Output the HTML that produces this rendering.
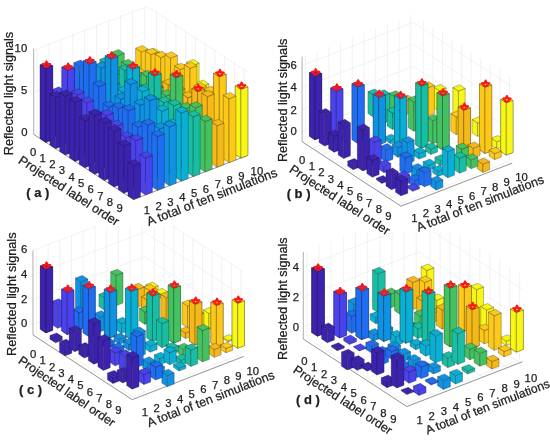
<!DOCTYPE html>
<html><head><meta charset="utf-8"><style>
html,body{margin:0;padding:0;background:#fff;}
svg{display:block;filter:blur(0.35px);font-family:"Liberation Sans",sans-serif;}
</style></head><body>
<svg width="550" height="441" viewBox="0 0 550 441">
<rect width="550" height="441" fill="#fff"/>
<clipPath id="cpa"><rect x="0" y="0" width="275" height="226"/></clipPath>
<g clip-path="url(#cpa)"><line x1="37.04" y1="133.05" x2="37.04" y2="47.37" stroke="#e9e9e9" stroke-width="0.60"/>
<line x1="37.04" y1="133.05" x2="136.94" y2="198.21" stroke="#e9e9e9" stroke-width="0.60"/>
<line x1="48.97" y1="128.43" x2="48.97" y2="42.75" stroke="#e9e9e9" stroke-width="0.60"/>
<line x1="48.97" y1="128.43" x2="148.87" y2="193.59" stroke="#e9e9e9" stroke-width="0.60"/>
<line x1="60.90" y1="123.81" x2="60.90" y2="38.13" stroke="#e9e9e9" stroke-width="0.60"/>
<line x1="60.90" y1="123.81" x2="160.80" y2="188.97" stroke="#e9e9e9" stroke-width="0.60"/>
<line x1="72.83" y1="119.19" x2="72.83" y2="33.51" stroke="#e9e9e9" stroke-width="0.60"/>
<line x1="72.83" y1="119.19" x2="172.73" y2="184.35" stroke="#e9e9e9" stroke-width="0.60"/>
<line x1="84.76" y1="114.57" x2="84.76" y2="28.89" stroke="#e9e9e9" stroke-width="0.60"/>
<line x1="84.76" y1="114.57" x2="184.66" y2="179.73" stroke="#e9e9e9" stroke-width="0.60"/>
<line x1="96.69" y1="109.95" x2="96.69" y2="24.27" stroke="#e9e9e9" stroke-width="0.60"/>
<line x1="96.69" y1="109.95" x2="196.59" y2="175.11" stroke="#e9e9e9" stroke-width="0.60"/>
<line x1="108.62" y1="105.33" x2="108.62" y2="19.65" stroke="#e9e9e9" stroke-width="0.60"/>
<line x1="108.62" y1="105.33" x2="208.52" y2="170.49" stroke="#e9e9e9" stroke-width="0.60"/>
<line x1="120.55" y1="100.71" x2="120.55" y2="15.03" stroke="#e9e9e9" stroke-width="0.60"/>
<line x1="120.55" y1="100.71" x2="220.45" y2="165.87" stroke="#e9e9e9" stroke-width="0.60"/>
<line x1="132.48" y1="96.09" x2="132.48" y2="10.41" stroke="#e9e9e9" stroke-width="0.60"/>
<line x1="132.48" y1="96.09" x2="232.38" y2="161.25" stroke="#e9e9e9" stroke-width="0.60"/>
<line x1="144.41" y1="91.47" x2="144.41" y2="5.79" stroke="#e9e9e9" stroke-width="0.60"/>
<line x1="144.41" y1="91.47" x2="244.31" y2="156.63" stroke="#e9e9e9" stroke-width="0.60"/>
<line x1="156.45" y1="96.59" x2="156.45" y2="10.91" stroke="#e9e9e9" stroke-width="0.60"/>
<line x1="43.12" y1="140.48" x2="156.45" y2="96.59" stroke="#e9e9e9" stroke-width="0.60"/>
<line x1="166.20" y1="102.95" x2="166.20" y2="17.27" stroke="#e9e9e9" stroke-width="0.60"/>
<line x1="52.87" y1="146.84" x2="166.20" y2="102.95" stroke="#e9e9e9" stroke-width="0.60"/>
<line x1="175.95" y1="109.31" x2="175.95" y2="23.63" stroke="#e9e9e9" stroke-width="0.60"/>
<line x1="62.62" y1="153.20" x2="175.95" y2="109.31" stroke="#e9e9e9" stroke-width="0.60"/>
<line x1="185.70" y1="115.67" x2="185.70" y2="29.99" stroke="#e9e9e9" stroke-width="0.60"/>
<line x1="72.37" y1="159.56" x2="185.70" y2="115.67" stroke="#e9e9e9" stroke-width="0.60"/>
<line x1="195.45" y1="122.03" x2="195.45" y2="36.35" stroke="#e9e9e9" stroke-width="0.60"/>
<line x1="82.12" y1="165.92" x2="195.45" y2="122.03" stroke="#e9e9e9" stroke-width="0.60"/>
<line x1="205.20" y1="128.39" x2="205.20" y2="42.71" stroke="#e9e9e9" stroke-width="0.60"/>
<line x1="91.87" y1="172.28" x2="205.20" y2="128.39" stroke="#e9e9e9" stroke-width="0.60"/>
<line x1="214.95" y1="134.75" x2="214.95" y2="49.07" stroke="#e9e9e9" stroke-width="0.60"/>
<line x1="101.62" y1="178.64" x2="214.95" y2="134.75" stroke="#e9e9e9" stroke-width="0.60"/>
<line x1="224.70" y1="141.11" x2="224.70" y2="55.43" stroke="#e9e9e9" stroke-width="0.60"/>
<line x1="111.37" y1="185.00" x2="224.70" y2="141.11" stroke="#e9e9e9" stroke-width="0.60"/>
<line x1="234.45" y1="147.47" x2="234.45" y2="61.79" stroke="#e9e9e9" stroke-width="0.60"/>
<line x1="121.12" y1="191.36" x2="234.45" y2="147.47" stroke="#e9e9e9" stroke-width="0.60"/>
<line x1="244.20" y1="153.83" x2="244.20" y2="68.15" stroke="#e9e9e9" stroke-width="0.60"/>
<line x1="130.87" y1="197.72" x2="244.20" y2="153.83" stroke="#e9e9e9" stroke-width="0.60"/>
<polyline points="33.70,134.34 147.04,90.45 246.93,155.61" fill="none" stroke="#e9e9e9" stroke-width="0.60"/>
<polyline points="33.70,92.34 147.04,48.45 246.93,113.61" fill="none" stroke="#e9e9e9" stroke-width="0.60"/>
<polyline points="33.70,50.34 147.04,6.45 246.93,71.61" fill="none" stroke="#e9e9e9" stroke-width="0.60"/>
<line x1="33.70" y1="134.34" x2="33.70" y2="48.66" stroke="#9a9a9a" stroke-width="0.80"/>
<polyline points="33.70,134.34 133.60,199.50 246.93,155.61" fill="none" stroke="#777" stroke-width="0.80"/>
<polygon points="147.54,97.11 153.20,100.79 153.20,54.59 147.54,50.91" fill="#f8f616" stroke="rgba(20,20,20,0.5)" stroke-width="0.55" stroke-linejoin="round"/><polygon points="153.20,100.79 160.12,98.11 160.12,51.91 153.20,54.59" fill="#f8f616" stroke="rgba(20,20,20,0.5)" stroke-width="0.55" stroke-linejoin="round"/>
<polygon points="147.54,50.91 153.20,54.59 160.12,51.91 154.46,48.23" fill="#f8f616" stroke="rgba(20,20,20,0.5)" stroke-width="0.55" stroke-linejoin="round"/>
<polygon points="157.29,103.47 162.95,107.15 162.95,60.95 157.29,57.27" fill="#f8f616" stroke="rgba(20,20,20,0.5)" stroke-width="0.55" stroke-linejoin="round"/><polygon points="162.95,107.15 169.87,104.47 169.87,58.27 162.95,60.95" fill="#f8f616" stroke="rgba(20,20,20,0.5)" stroke-width="0.55" stroke-linejoin="round"/>
<polygon points="157.29,57.27 162.95,60.95 169.87,58.27 164.21,54.59" fill="#f8f616" stroke="rgba(20,20,20,0.5)" stroke-width="0.55" stroke-linejoin="round"/>
<polygon points="167.04,109.83 172.70,113.51 172.70,67.31 167.04,63.63" fill="#f8f616" stroke="rgba(20,20,20,0.5)" stroke-width="0.55" stroke-linejoin="round"/><polygon points="172.70,113.51 179.62,110.83 179.62,64.63 172.70,67.31" fill="#f8f616" stroke="rgba(20,20,20,0.5)" stroke-width="0.55" stroke-linejoin="round"/>
<polygon points="167.04,63.63 172.70,67.31 179.62,64.63 173.96,60.95" fill="#f8f616" stroke="rgba(20,20,20,0.5)" stroke-width="0.55" stroke-linejoin="round"/>
<polygon points="176.79,116.19 182.45,119.87 182.45,73.67 176.79,69.99" fill="#f8f616" stroke="rgba(20,20,20,0.5)" stroke-width="0.55" stroke-linejoin="round"/><polygon points="182.45,119.87 189.37,117.19 189.37,70.99 182.45,73.67" fill="#f8f616" stroke="rgba(20,20,20,0.5)" stroke-width="0.55" stroke-linejoin="round"/>
<polygon points="176.79,69.99 182.45,73.67 189.37,70.99 183.71,67.31" fill="#f8f616" stroke="rgba(20,20,20,0.5)" stroke-width="0.55" stroke-linejoin="round"/>
<polygon points="186.54,122.55 192.20,126.23 192.20,65.75 186.54,62.07" fill="#f8f616" stroke="rgba(20,20,20,0.5)" stroke-width="0.55" stroke-linejoin="round"/><polygon points="192.20,126.23 199.12,123.55 199.12,63.07 192.20,65.75" fill="#f8f616" stroke="rgba(20,20,20,0.5)" stroke-width="0.55" stroke-linejoin="round"/>
<polygon points="186.54,62.07 192.20,65.75 199.12,63.07 193.46,59.39" fill="#f8f616" stroke="rgba(20,20,20,0.5)" stroke-width="0.55" stroke-linejoin="round"/>
<polygon points="196.29,128.91 201.95,132.59 201.95,86.39 196.29,82.71" fill="#f8f616" stroke="rgba(20,20,20,0.5)" stroke-width="0.55" stroke-linejoin="round"/><polygon points="201.95,132.59 208.87,129.91 208.87,83.71 201.95,86.39" fill="#f8f616" stroke="rgba(20,20,20,0.5)" stroke-width="0.55" stroke-linejoin="round"/>
<polygon points="196.29,82.71 201.95,86.39 208.87,83.71 203.21,80.03" fill="#f8f616" stroke="rgba(20,20,20,0.5)" stroke-width="0.55" stroke-linejoin="round"/>
<polygon points="206.04,135.27 211.70,138.95 211.70,92.75 206.04,89.07" fill="#f8f616" stroke="rgba(20,20,20,0.5)" stroke-width="0.55" stroke-linejoin="round"/><polygon points="211.70,138.95 218.62,136.27 218.62,90.07 211.70,92.75" fill="#f8f616" stroke="rgba(20,20,20,0.5)" stroke-width="0.55" stroke-linejoin="round"/>
<polygon points="206.04,89.07 211.70,92.75 218.62,90.07 212.96,86.39" fill="#f8f616" stroke="rgba(20,20,20,0.5)" stroke-width="0.55" stroke-linejoin="round"/>
<polygon points="215.79,141.63 221.45,145.31 221.45,99.11 215.79,95.43" fill="#f8f616" stroke="rgba(20,20,20,0.5)" stroke-width="0.55" stroke-linejoin="round"/><polygon points="221.45,145.31 228.37,142.63 228.37,96.43 221.45,99.11" fill="#f8f616" stroke="rgba(20,20,20,0.5)" stroke-width="0.55" stroke-linejoin="round"/>
<polygon points="215.79,95.43 221.45,99.11 228.37,96.43 222.71,92.75" fill="#f8f616" stroke="rgba(20,20,20,0.5)" stroke-width="0.55" stroke-linejoin="round"/>
<polygon points="225.54,147.99 231.20,151.67 231.20,105.47 225.54,101.79" fill="#f8f616" stroke="rgba(20,20,20,0.5)" stroke-width="0.55" stroke-linejoin="round"/><polygon points="231.20,151.67 238.12,148.99 238.12,102.79 231.20,105.47" fill="#f8f616" stroke="rgba(20,20,20,0.5)" stroke-width="0.55" stroke-linejoin="round"/>
<polygon points="225.54,101.79 231.20,105.47 238.12,102.79 232.46,99.11" fill="#f8f616" stroke="rgba(20,20,20,0.5)" stroke-width="0.55" stroke-linejoin="round"/>
<polygon points="235.29,154.35 240.95,158.03 240.95,89.57 235.29,85.89" fill="#f8f616" stroke="rgba(20,20,20,0.5)" stroke-width="0.55" stroke-linejoin="round"/><polygon points="240.95,158.03 247.87,155.35 247.87,86.89 240.95,89.57" fill="#f8f616" stroke="rgba(20,20,20,0.5)" stroke-width="0.55" stroke-linejoin="round"/>
<polygon points="235.29,85.89 240.95,89.57 247.87,86.89 242.21,83.21" fill="#f8f616" stroke="rgba(20,20,20,0.5)" stroke-width="0.55" stroke-linejoin="round"/>
<polygon points="241.58,82.49 242.61,84.97 245.29,85.18 243.25,86.93 243.87,89.55 241.58,88.14 239.29,89.55 239.91,86.93 237.87,85.18 240.55,84.97" fill="none" stroke="#ff1414" stroke-width="2.1" stroke-linejoin="round"/>
<polygon points="235.29,154.35 240.95,158.03 240.95,89.57 235.29,85.89" fill="#f8f616" stroke="rgba(20,20,20,0.5)" stroke-width="0.55" stroke-linejoin="round"/><polygon points="240.95,158.03 247.87,155.35 247.87,86.89 240.95,89.57" fill="#f8f616" stroke="rgba(20,20,20,0.5)" stroke-width="0.55" stroke-linejoin="round"/>
<polygon points="135.61,101.73 141.27,105.41 141.27,51.91 135.61,48.22" fill="#fcc81a" stroke="rgba(20,20,20,0.5)" stroke-width="0.55" stroke-linejoin="round"/><polygon points="141.27,105.41 148.19,102.73 148.19,49.23 141.27,51.91" fill="#fcc81a" stroke="rgba(20,20,20,0.5)" stroke-width="0.55" stroke-linejoin="round"/>
<polygon points="135.61,48.22 141.27,51.91 148.19,49.23 142.53,45.54" fill="#fcc81a" stroke="rgba(20,20,20,0.5)" stroke-width="0.55" stroke-linejoin="round"/>
<polygon points="145.36,108.09 151.02,111.77 151.02,54.65 145.36,50.97" fill="#fcc81a" stroke="rgba(20,20,20,0.5)" stroke-width="0.55" stroke-linejoin="round"/><polygon points="151.02,111.77 157.94,109.09 157.94,51.97 151.02,54.65" fill="#fcc81a" stroke="rgba(20,20,20,0.5)" stroke-width="0.55" stroke-linejoin="round"/>
<polygon points="145.36,50.97 151.02,54.65 157.94,51.97 152.28,48.29" fill="#fcc81a" stroke="rgba(20,20,20,0.5)" stroke-width="0.55" stroke-linejoin="round"/>
<polygon points="155.11,114.45 160.77,118.13 160.77,57.65 155.11,53.97" fill="#fcc81a" stroke="rgba(20,20,20,0.5)" stroke-width="0.55" stroke-linejoin="round"/><polygon points="160.77,118.13 167.69,115.45 167.69,54.97 160.77,57.65" fill="#fcc81a" stroke="rgba(20,20,20,0.5)" stroke-width="0.55" stroke-linejoin="round"/>
<polygon points="155.11,53.97 160.77,57.65 167.69,54.97 162.03,51.29" fill="#fcc81a" stroke="rgba(20,20,20,0.5)" stroke-width="0.55" stroke-linejoin="round"/>
<polygon points="164.86,120.81 170.52,124.49 170.52,58.13 164.86,54.45" fill="#fcc81a" stroke="rgba(20,20,20,0.5)" stroke-width="0.55" stroke-linejoin="round"/><polygon points="170.52,124.49 177.44,121.81 177.44,55.45 170.52,58.13" fill="#fcc81a" stroke="rgba(20,20,20,0.5)" stroke-width="0.55" stroke-linejoin="round"/>
<polygon points="164.86,54.45 170.52,58.13 177.44,55.45 171.78,51.77" fill="#fcc81a" stroke="rgba(20,20,20,0.5)" stroke-width="0.55" stroke-linejoin="round"/>
<polygon points="174.61,127.17 180.27,130.85 180.27,69.53 174.61,65.85" fill="#fcc81a" stroke="rgba(20,20,20,0.5)" stroke-width="0.55" stroke-linejoin="round"/><polygon points="180.27,130.85 187.19,128.17 187.19,66.85 180.27,69.53" fill="#fcc81a" stroke="rgba(20,20,20,0.5)" stroke-width="0.55" stroke-linejoin="round"/>
<polygon points="174.61,65.85 180.27,69.53 187.19,66.85 181.53,63.17" fill="#fcc81a" stroke="rgba(20,20,20,0.5)" stroke-width="0.55" stroke-linejoin="round"/>
<polygon points="184.36,133.53 190.02,137.21 190.02,68.33 184.36,64.65" fill="#fcc81a" stroke="rgba(20,20,20,0.5)" stroke-width="0.55" stroke-linejoin="round"/><polygon points="190.02,137.21 196.94,134.53 196.94,65.65 190.02,68.33" fill="#fcc81a" stroke="rgba(20,20,20,0.5)" stroke-width="0.55" stroke-linejoin="round"/>
<polygon points="184.36,64.65 190.02,68.33 196.94,65.65 191.28,61.97" fill="#fcc81a" stroke="rgba(20,20,20,0.5)" stroke-width="0.55" stroke-linejoin="round"/>
<polygon points="194.11,139.89 199.77,143.57 199.77,88.97 194.11,85.29" fill="#fcc81a" stroke="rgba(20,20,20,0.5)" stroke-width="0.55" stroke-linejoin="round"/><polygon points="199.77,143.57 206.69,140.89 206.69,86.29 199.77,88.97" fill="#fcc81a" stroke="rgba(20,20,20,0.5)" stroke-width="0.55" stroke-linejoin="round"/>
<polygon points="194.11,85.29 199.77,88.97 206.69,86.29 201.03,82.61" fill="#fcc81a" stroke="rgba(20,20,20,0.5)" stroke-width="0.55" stroke-linejoin="round"/>
<polygon points="203.86,146.25 209.52,149.93 209.52,92.81 203.86,89.13" fill="#fcc81a" stroke="rgba(20,20,20,0.5)" stroke-width="0.55" stroke-linejoin="round"/><polygon points="209.52,149.93 216.44,147.25 216.44,90.13 209.52,92.81" fill="#fcc81a" stroke="rgba(20,20,20,0.5)" stroke-width="0.55" stroke-linejoin="round"/>
<polygon points="203.86,89.13 209.52,92.81 216.44,90.13 210.78,86.45" fill="#fcc81a" stroke="rgba(20,20,20,0.5)" stroke-width="0.55" stroke-linejoin="round"/>
<polygon points="213.61,152.61 219.27,156.29 219.27,76.91 213.61,73.23" fill="#fcc81a" stroke="rgba(20,20,20,0.5)" stroke-width="0.55" stroke-linejoin="round"/><polygon points="219.27,156.29 226.19,153.61 226.19,74.23 219.27,76.91" fill="#fcc81a" stroke="rgba(20,20,20,0.5)" stroke-width="0.55" stroke-linejoin="round"/>
<polygon points="213.61,73.23 219.27,76.91 226.19,74.23 220.53,70.55" fill="#fcc81a" stroke="rgba(20,20,20,0.5)" stroke-width="0.55" stroke-linejoin="round"/>
<polygon points="219.90,69.83 220.93,72.31 223.61,72.52 221.57,74.27 222.19,76.89 219.90,75.49 217.61,76.89 218.23,74.27 216.19,72.52 218.87,72.31" fill="none" stroke="#ff1414" stroke-width="2.1" stroke-linejoin="round"/>
<polygon points="213.61,152.61 219.27,156.29 219.27,76.91 213.61,73.23" fill="#fcc81a" stroke="rgba(20,20,20,0.5)" stroke-width="0.55" stroke-linejoin="round"/><polygon points="219.27,156.29 226.19,153.61 226.19,74.23 219.27,76.91" fill="#fcc81a" stroke="rgba(20,20,20,0.5)" stroke-width="0.55" stroke-linejoin="round"/>
<polygon points="223.36,158.97 229.02,162.65 229.02,98.81 223.36,95.13" fill="#fcc81a" stroke="rgba(20,20,20,0.5)" stroke-width="0.55" stroke-linejoin="round"/><polygon points="229.02,162.65 235.94,159.97 235.94,96.13 229.02,98.81" fill="#fcc81a" stroke="rgba(20,20,20,0.5)" stroke-width="0.55" stroke-linejoin="round"/>
<polygon points="223.36,95.13 229.02,98.81 235.94,96.13 230.28,92.45" fill="#fcc81a" stroke="rgba(20,20,20,0.5)" stroke-width="0.55" stroke-linejoin="round"/>
<polygon points="123.68,106.35 129.34,110.03 129.34,68.03 123.68,64.35" fill="#f4b818" stroke="rgba(20,20,20,0.5)" stroke-width="0.55" stroke-linejoin="round"/><polygon points="129.34,110.03 136.26,107.35 136.26,65.35 129.34,68.03" fill="#f4b818" stroke="rgba(20,20,20,0.5)" stroke-width="0.55" stroke-linejoin="round"/>
<polygon points="123.68,64.35 129.34,68.03 136.26,65.35 130.60,61.67" fill="#f4b818" stroke="rgba(20,20,20,0.5)" stroke-width="0.55" stroke-linejoin="round"/>
<polygon points="133.43,112.71 139.09,116.39 139.09,74.39 133.43,70.71" fill="#f4b818" stroke="rgba(20,20,20,0.5)" stroke-width="0.55" stroke-linejoin="round"/><polygon points="139.09,116.39 146.01,113.71 146.01,71.71 139.09,74.39" fill="#f4b818" stroke="rgba(20,20,20,0.5)" stroke-width="0.55" stroke-linejoin="round"/>
<polygon points="133.43,70.71 139.09,74.39 146.01,71.71 140.35,68.03" fill="#f4b818" stroke="rgba(20,20,20,0.5)" stroke-width="0.55" stroke-linejoin="round"/>
<polygon points="143.18,119.07 148.84,122.75 148.84,80.75 143.18,77.07" fill="#f4b818" stroke="rgba(20,20,20,0.5)" stroke-width="0.55" stroke-linejoin="round"/><polygon points="148.84,122.75 155.76,120.07 155.76,78.07 148.84,80.75" fill="#f4b818" stroke="rgba(20,20,20,0.5)" stroke-width="0.55" stroke-linejoin="round"/>
<polygon points="143.18,77.07 148.84,80.75 155.76,78.07 150.10,74.39" fill="#f4b818" stroke="rgba(20,20,20,0.5)" stroke-width="0.55" stroke-linejoin="round"/>
<polygon points="152.93,125.43 158.59,129.11 158.59,87.11 152.93,83.43" fill="#f4b818" stroke="rgba(20,20,20,0.5)" stroke-width="0.55" stroke-linejoin="round"/><polygon points="158.59,129.11 165.51,126.43 165.51,84.43 158.59,87.11" fill="#f4b818" stroke="rgba(20,20,20,0.5)" stroke-width="0.55" stroke-linejoin="round"/>
<polygon points="152.93,83.43 158.59,87.11 165.51,84.43 159.85,80.75" fill="#f4b818" stroke="rgba(20,20,20,0.5)" stroke-width="0.55" stroke-linejoin="round"/>
<polygon points="162.68,131.79 168.34,135.47 168.34,85.07 162.68,81.39" fill="#f4b818" stroke="rgba(20,20,20,0.5)" stroke-width="0.55" stroke-linejoin="round"/><polygon points="168.34,135.47 175.26,132.79 175.26,82.39 168.34,85.07" fill="#f4b818" stroke="rgba(20,20,20,0.5)" stroke-width="0.55" stroke-linejoin="round"/>
<polygon points="162.68,81.39 168.34,85.07 175.26,82.39 169.60,78.71" fill="#f4b818" stroke="rgba(20,20,20,0.5)" stroke-width="0.55" stroke-linejoin="round"/>
<polygon points="172.43,138.15 178.09,141.83 178.09,91.43 172.43,87.75" fill="#f4b818" stroke="rgba(20,20,20,0.5)" stroke-width="0.55" stroke-linejoin="round"/><polygon points="178.09,141.83 185.01,139.15 185.01,88.75 178.09,91.43" fill="#f4b818" stroke="rgba(20,20,20,0.5)" stroke-width="0.55" stroke-linejoin="round"/>
<polygon points="172.43,87.75 178.09,91.43 185.01,88.75 179.35,85.07" fill="#f4b818" stroke="rgba(20,20,20,0.5)" stroke-width="0.55" stroke-linejoin="round"/>
<polygon points="182.18,144.51 187.84,148.19 187.84,97.79 182.18,94.11" fill="#f4b818" stroke="rgba(20,20,20,0.5)" stroke-width="0.55" stroke-linejoin="round"/><polygon points="187.84,148.19 194.76,145.51 194.76,95.11 187.84,97.79" fill="#f4b818" stroke="rgba(20,20,20,0.5)" stroke-width="0.55" stroke-linejoin="round"/>
<polygon points="182.18,94.11 187.84,97.79 194.76,95.11 189.10,91.43" fill="#f4b818" stroke="rgba(20,20,20,0.5)" stroke-width="0.55" stroke-linejoin="round"/>
<polygon points="191.93,150.87 197.59,154.55 197.59,91.97 191.93,88.29" fill="#f4b818" stroke="rgba(20,20,20,0.5)" stroke-width="0.55" stroke-linejoin="round"/><polygon points="197.59,154.55 204.51,151.87 204.51,89.29 197.59,91.97" fill="#f4b818" stroke="rgba(20,20,20,0.5)" stroke-width="0.55" stroke-linejoin="round"/>
<polygon points="191.93,88.29 197.59,91.97 204.51,89.29 198.85,85.61" fill="#f4b818" stroke="rgba(20,20,20,0.5)" stroke-width="0.55" stroke-linejoin="round"/>
<polygon points="198.22,84.89 199.25,87.37 201.93,87.58 199.89,89.33 200.51,91.95 198.22,90.54 195.93,91.95 196.55,89.33 194.51,87.58 197.19,87.37" fill="none" stroke="#ff1414" stroke-width="2.1" stroke-linejoin="round"/>
<polygon points="191.93,150.87 197.59,154.55 197.59,91.97 191.93,88.29" fill="#f4b818" stroke="rgba(20,20,20,0.5)" stroke-width="0.55" stroke-linejoin="round"/><polygon points="197.59,154.55 204.51,151.87 204.51,89.29 197.59,91.97" fill="#f4b818" stroke="rgba(20,20,20,0.5)" stroke-width="0.55" stroke-linejoin="round"/>
<polygon points="201.68,157.23 207.34,160.91 207.34,96.65 201.68,92.97" fill="#f4b818" stroke="rgba(20,20,20,0.5)" stroke-width="0.55" stroke-linejoin="round"/><polygon points="207.34,160.91 214.26,158.23 214.26,93.97 207.34,96.65" fill="#f4b818" stroke="rgba(20,20,20,0.5)" stroke-width="0.55" stroke-linejoin="round"/>
<polygon points="201.68,92.97 207.34,96.65 214.26,93.97 208.60,90.29" fill="#f4b818" stroke="rgba(20,20,20,0.5)" stroke-width="0.55" stroke-linejoin="round"/>
<polygon points="211.43,163.59 217.09,167.27 217.09,125.69 211.43,122.01" fill="#f4b818" stroke="rgba(20,20,20,0.5)" stroke-width="0.55" stroke-linejoin="round"/><polygon points="217.09,167.27 224.01,164.59 224.01,123.01 217.09,125.69" fill="#f4b818" stroke="rgba(20,20,20,0.5)" stroke-width="0.55" stroke-linejoin="round"/>
<polygon points="211.43,122.01 217.09,125.69 224.01,123.01 218.35,119.33" fill="#f4b818" stroke="rgba(20,20,20,0.5)" stroke-width="0.55" stroke-linejoin="round"/>
<polygon points="111.75,110.97 117.41,114.65 117.41,55.85 111.75,52.17" fill="#44c262" stroke="rgba(20,20,20,0.5)" stroke-width="0.55" stroke-linejoin="round"/><polygon points="117.41,114.65 124.33,111.97 124.33,53.17 117.41,55.85" fill="#44c262" stroke="rgba(20,20,20,0.5)" stroke-width="0.55" stroke-linejoin="round"/>
<polygon points="111.75,52.17 117.41,55.85 124.33,53.17 118.67,49.49" fill="#44c262" stroke="rgba(20,20,20,0.5)" stroke-width="0.55" stroke-linejoin="round"/>
<polygon points="121.50,117.33 127.16,121.01 127.16,65.57 121.50,61.89" fill="#44c262" stroke="rgba(20,20,20,0.5)" stroke-width="0.55" stroke-linejoin="round"/><polygon points="127.16,121.01 134.08,118.33 134.08,62.89 127.16,65.57" fill="#44c262" stroke="rgba(20,20,20,0.5)" stroke-width="0.55" stroke-linejoin="round"/>
<polygon points="121.50,61.89 127.16,65.57 134.08,62.89 128.42,59.21" fill="#44c262" stroke="rgba(20,20,20,0.5)" stroke-width="0.55" stroke-linejoin="round"/>
<polygon points="131.25,123.69 136.91,127.37 136.91,76.97 131.25,73.29" fill="#44c262" stroke="rgba(20,20,20,0.5)" stroke-width="0.55" stroke-linejoin="round"/><polygon points="136.91,127.37 143.83,124.69 143.83,74.29 136.91,76.97" fill="#44c262" stroke="rgba(20,20,20,0.5)" stroke-width="0.55" stroke-linejoin="round"/>
<polygon points="131.25,73.29 136.91,76.97 143.83,74.29 138.17,70.61" fill="#44c262" stroke="rgba(20,20,20,0.5)" stroke-width="0.55" stroke-linejoin="round"/>
<polygon points="141.00,130.05 146.66,133.73 146.66,76.61 141.00,72.93" fill="#44c262" stroke="rgba(20,20,20,0.5)" stroke-width="0.55" stroke-linejoin="round"/><polygon points="146.66,133.73 153.58,131.05 153.58,73.93 146.66,76.61" fill="#44c262" stroke="rgba(20,20,20,0.5)" stroke-width="0.55" stroke-linejoin="round"/>
<polygon points="141.00,72.93 146.66,76.61 153.58,73.93 147.92,70.25" fill="#44c262" stroke="rgba(20,20,20,0.5)" stroke-width="0.55" stroke-linejoin="round"/>
<polygon points="150.75,136.41 156.41,140.09 156.41,89.69 150.75,86.01" fill="#44c262" stroke="rgba(20,20,20,0.5)" stroke-width="0.55" stroke-linejoin="round"/><polygon points="156.41,140.09 163.33,137.41 163.33,87.01 156.41,89.69" fill="#44c262" stroke="rgba(20,20,20,0.5)" stroke-width="0.55" stroke-linejoin="round"/>
<polygon points="150.75,86.01 156.41,89.69 163.33,87.01 157.67,83.33" fill="#44c262" stroke="rgba(20,20,20,0.5)" stroke-width="0.55" stroke-linejoin="round"/>
<polygon points="160.50,142.77 166.16,146.45 166.16,96.05 160.50,92.37" fill="#44c262" stroke="rgba(20,20,20,0.5)" stroke-width="0.55" stroke-linejoin="round"/><polygon points="166.16,146.45 173.08,143.77 173.08,93.37 166.16,96.05" fill="#44c262" stroke="rgba(20,20,20,0.5)" stroke-width="0.55" stroke-linejoin="round"/>
<polygon points="160.50,92.37 166.16,96.05 173.08,93.37 167.42,89.69" fill="#44c262" stroke="rgba(20,20,20,0.5)" stroke-width="0.55" stroke-linejoin="round"/>
<polygon points="170.25,149.13 175.91,152.81 175.91,78.05 170.25,74.37" fill="#44c262" stroke="rgba(20,20,20,0.5)" stroke-width="0.55" stroke-linejoin="round"/><polygon points="175.91,152.81 182.83,150.13 182.83,75.37 175.91,78.05" fill="#44c262" stroke="rgba(20,20,20,0.5)" stroke-width="0.55" stroke-linejoin="round"/>
<polygon points="170.25,74.37 175.91,78.05 182.83,75.37 177.17,71.69" fill="#44c262" stroke="rgba(20,20,20,0.5)" stroke-width="0.55" stroke-linejoin="round"/>
<polygon points="176.54,70.97 177.57,73.45 180.25,73.66 178.21,75.41 178.83,78.03 176.54,76.62 174.25,78.03 174.87,75.41 172.83,73.66 175.51,73.45" fill="none" stroke="#ff1414" stroke-width="2.1" stroke-linejoin="round"/>
<polygon points="170.25,149.13 175.91,152.81 175.91,78.05 170.25,74.37" fill="#44c262" stroke="rgba(20,20,20,0.5)" stroke-width="0.55" stroke-linejoin="round"/><polygon points="175.91,152.81 182.83,150.13 182.83,75.37 175.91,78.05" fill="#44c262" stroke="rgba(20,20,20,0.5)" stroke-width="0.55" stroke-linejoin="round"/>
<polygon points="180.00,155.49 185.66,159.17 185.66,108.77 180.00,105.09" fill="#44c262" stroke="rgba(20,20,20,0.5)" stroke-width="0.55" stroke-linejoin="round"/><polygon points="185.66,159.17 192.58,156.49 192.58,106.09 185.66,108.77" fill="#44c262" stroke="rgba(20,20,20,0.5)" stroke-width="0.55" stroke-linejoin="round"/>
<polygon points="180.00,105.09 185.66,108.77 192.58,106.09 186.92,102.41" fill="#44c262" stroke="rgba(20,20,20,0.5)" stroke-width="0.55" stroke-linejoin="round"/>
<polygon points="189.75,161.85 195.41,165.53 195.41,107.99 189.75,104.31" fill="#44c262" stroke="rgba(20,20,20,0.5)" stroke-width="0.55" stroke-linejoin="round"/><polygon points="195.41,165.53 202.33,162.85 202.33,105.31 195.41,107.99" fill="#44c262" stroke="rgba(20,20,20,0.5)" stroke-width="0.55" stroke-linejoin="round"/>
<polygon points="189.75,104.31 195.41,107.99 202.33,105.31 196.67,101.63" fill="#44c262" stroke="rgba(20,20,20,0.5)" stroke-width="0.55" stroke-linejoin="round"/>
<polygon points="199.50,168.21 205.16,171.89 205.16,121.49 199.50,117.81" fill="#44c262" stroke="rgba(20,20,20,0.5)" stroke-width="0.55" stroke-linejoin="round"/><polygon points="205.16,171.89 212.08,169.21 212.08,118.81 205.16,121.49" fill="#44c262" stroke="rgba(20,20,20,0.5)" stroke-width="0.55" stroke-linejoin="round"/>
<polygon points="199.50,117.81 205.16,121.49 212.08,118.81 206.42,115.13" fill="#44c262" stroke="rgba(20,20,20,0.5)" stroke-width="0.55" stroke-linejoin="round"/>
<polygon points="99.82,115.59 105.48,119.27 105.48,62.99 99.82,59.31" fill="#18bea4" stroke="rgba(20,20,20,0.5)" stroke-width="0.55" stroke-linejoin="round"/><polygon points="105.48,119.27 112.40,116.59 112.40,60.31 105.48,62.99" fill="#18bea4" stroke="rgba(20,20,20,0.5)" stroke-width="0.55" stroke-linejoin="round"/>
<polygon points="99.82,59.31 105.48,62.99 112.40,60.31 106.74,56.63" fill="#18bea4" stroke="rgba(20,20,20,0.5)" stroke-width="0.55" stroke-linejoin="round"/>
<polygon points="109.57,121.95 115.23,125.63 115.23,75.23 109.57,71.55" fill="#18bea4" stroke="rgba(20,20,20,0.5)" stroke-width="0.55" stroke-linejoin="round"/><polygon points="115.23,125.63 122.15,122.95 122.15,72.55 115.23,75.23" fill="#18bea4" stroke="rgba(20,20,20,0.5)" stroke-width="0.55" stroke-linejoin="round"/>
<polygon points="109.57,71.55 115.23,75.23 122.15,72.55 116.49,68.87" fill="#18bea4" stroke="rgba(20,20,20,0.5)" stroke-width="0.55" stroke-linejoin="round"/>
<polygon points="119.32,128.31 124.98,131.99 124.98,70.67 119.32,66.99" fill="#18bea4" stroke="rgba(20,20,20,0.5)" stroke-width="0.55" stroke-linejoin="round"/><polygon points="124.98,131.99 131.90,129.31 131.90,67.99 124.98,70.67" fill="#18bea4" stroke="rgba(20,20,20,0.5)" stroke-width="0.55" stroke-linejoin="round"/>
<polygon points="119.32,66.99 124.98,70.67 131.90,67.99 126.24,64.31" fill="#18bea4" stroke="rgba(20,20,20,0.5)" stroke-width="0.55" stroke-linejoin="round"/>
<polygon points="129.07,134.67 134.73,138.35 134.73,87.95 129.07,84.27" fill="#18bea4" stroke="rgba(20,20,20,0.5)" stroke-width="0.55" stroke-linejoin="round"/><polygon points="134.73,138.35 141.65,135.67 141.65,85.27 134.73,87.95" fill="#18bea4" stroke="rgba(20,20,20,0.5)" stroke-width="0.55" stroke-linejoin="round"/>
<polygon points="129.07,84.27 134.73,87.95 141.65,85.27 135.99,81.59" fill="#18bea4" stroke="rgba(20,20,20,0.5)" stroke-width="0.55" stroke-linejoin="round"/>
<polygon points="138.82,141.03 144.48,144.71 144.48,90.11 138.82,86.43" fill="#18bea4" stroke="rgba(20,20,20,0.5)" stroke-width="0.55" stroke-linejoin="round"/><polygon points="144.48,144.71 151.40,142.03 151.40,87.43 144.48,90.11" fill="#18bea4" stroke="rgba(20,20,20,0.5)" stroke-width="0.55" stroke-linejoin="round"/>
<polygon points="138.82,86.43 144.48,90.11 151.40,87.43 145.74,83.75" fill="#18bea4" stroke="rgba(20,20,20,0.5)" stroke-width="0.55" stroke-linejoin="round"/>
<polygon points="148.57,147.39 154.23,151.07 154.23,76.31 148.57,72.63" fill="#18bea4" stroke="rgba(20,20,20,0.5)" stroke-width="0.55" stroke-linejoin="round"/><polygon points="154.23,151.07 161.15,148.39 161.15,73.63 154.23,76.31" fill="#18bea4" stroke="rgba(20,20,20,0.5)" stroke-width="0.55" stroke-linejoin="round"/>
<polygon points="148.57,72.63 154.23,76.31 161.15,73.63 155.49,69.95" fill="#18bea4" stroke="rgba(20,20,20,0.5)" stroke-width="0.55" stroke-linejoin="round"/>
<polygon points="154.86,69.23 155.89,71.71 158.57,71.92 156.53,73.67 157.15,76.29 154.86,74.89 152.57,76.29 153.19,73.67 151.15,71.92 153.83,71.71" fill="none" stroke="#ff1414" stroke-width="2.1" stroke-linejoin="round"/>
<polygon points="148.57,147.39 154.23,151.07 154.23,76.31 148.57,72.63" fill="#18bea4" stroke="rgba(20,20,20,0.5)" stroke-width="0.55" stroke-linejoin="round"/><polygon points="154.23,151.07 161.15,148.39 161.15,73.63 154.23,76.31" fill="#18bea4" stroke="rgba(20,20,20,0.5)" stroke-width="0.55" stroke-linejoin="round"/>
<polygon points="158.32,153.75 163.98,157.43 163.98,102.83 158.32,99.15" fill="#18bea4" stroke="rgba(20,20,20,0.5)" stroke-width="0.55" stroke-linejoin="round"/><polygon points="163.98,157.43 170.90,154.75 170.90,100.15 163.98,102.83" fill="#18bea4" stroke="rgba(20,20,20,0.5)" stroke-width="0.55" stroke-linejoin="round"/>
<polygon points="158.32,99.15 163.98,102.83 170.90,100.15 165.24,96.47" fill="#18bea4" stroke="rgba(20,20,20,0.5)" stroke-width="0.55" stroke-linejoin="round"/>
<polygon points="168.07,160.11 173.73,163.79 173.73,105.83 168.07,102.15" fill="#18bea4" stroke="rgba(20,20,20,0.5)" stroke-width="0.55" stroke-linejoin="round"/><polygon points="173.73,163.79 180.65,161.11 180.65,103.15 173.73,105.83" fill="#18bea4" stroke="rgba(20,20,20,0.5)" stroke-width="0.55" stroke-linejoin="round"/>
<polygon points="168.07,102.15 173.73,105.83 180.65,103.15 174.99,99.47" fill="#18bea4" stroke="rgba(20,20,20,0.5)" stroke-width="0.55" stroke-linejoin="round"/>
<polygon points="177.82,166.47 183.48,170.15 183.48,119.75 177.82,116.07" fill="#18bea4" stroke="rgba(20,20,20,0.5)" stroke-width="0.55" stroke-linejoin="round"/><polygon points="183.48,170.15 190.40,167.47 190.40,117.07 183.48,119.75" fill="#18bea4" stroke="rgba(20,20,20,0.5)" stroke-width="0.55" stroke-linejoin="round"/>
<polygon points="177.82,116.07 183.48,119.75 190.40,117.07 184.74,113.39" fill="#18bea4" stroke="rgba(20,20,20,0.5)" stroke-width="0.55" stroke-linejoin="round"/>
<polygon points="187.57,172.83 193.23,176.51 193.23,116.87 187.57,113.19" fill="#18bea4" stroke="rgba(20,20,20,0.5)" stroke-width="0.55" stroke-linejoin="round"/><polygon points="193.23,176.51 200.15,173.83 200.15,114.19 193.23,116.87" fill="#18bea4" stroke="rgba(20,20,20,0.5)" stroke-width="0.55" stroke-linejoin="round"/>
<polygon points="187.57,113.19 193.23,116.87 200.15,114.19 194.49,110.51" fill="#18bea4" stroke="rgba(20,20,20,0.5)" stroke-width="0.55" stroke-linejoin="round"/>
<polygon points="87.89,120.21 93.55,123.89 93.55,73.49 87.89,69.81" fill="#0aafd6" stroke="rgba(20,20,20,0.5)" stroke-width="0.55" stroke-linejoin="round"/><polygon points="93.55,123.89 100.47,121.21 100.47,70.81 93.55,73.49" fill="#0aafd6" stroke="rgba(20,20,20,0.5)" stroke-width="0.55" stroke-linejoin="round"/>
<polygon points="87.89,69.81 93.55,73.49 100.47,70.81 94.81,67.13" fill="#0aafd6" stroke="rgba(20,20,20,0.5)" stroke-width="0.55" stroke-linejoin="round"/>
<polygon points="97.64,126.57 103.30,130.25 103.30,79.85 97.64,76.17" fill="#0aafd6" stroke="rgba(20,20,20,0.5)" stroke-width="0.55" stroke-linejoin="round"/><polygon points="103.30,130.25 110.22,127.57 110.22,77.17 103.30,79.85" fill="#0aafd6" stroke="rgba(20,20,20,0.5)" stroke-width="0.55" stroke-linejoin="round"/>
<polygon points="97.64,76.17 103.30,79.85 110.22,77.17 104.56,73.49" fill="#0aafd6" stroke="rgba(20,20,20,0.5)" stroke-width="0.55" stroke-linejoin="round"/>
<polygon points="107.39,132.93 113.05,136.61 113.05,86.21 107.39,82.53" fill="#0aafd6" stroke="rgba(20,20,20,0.5)" stroke-width="0.55" stroke-linejoin="round"/><polygon points="113.05,136.61 119.97,133.93 119.97,83.53 113.05,86.21" fill="#0aafd6" stroke="rgba(20,20,20,0.5)" stroke-width="0.55" stroke-linejoin="round"/>
<polygon points="107.39,82.53 113.05,86.21 119.97,83.53 114.31,79.85" fill="#0aafd6" stroke="rgba(20,20,20,0.5)" stroke-width="0.55" stroke-linejoin="round"/>
<polygon points="117.14,139.29 122.80,142.97 122.80,92.57 117.14,88.89" fill="#0aafd6" stroke="rgba(20,20,20,0.5)" stroke-width="0.55" stroke-linejoin="round"/><polygon points="122.80,142.97 129.72,140.29 129.72,89.89 122.80,92.57" fill="#0aafd6" stroke="rgba(20,20,20,0.5)" stroke-width="0.55" stroke-linejoin="round"/>
<polygon points="117.14,88.89 122.80,92.57 129.72,89.89 124.06,86.21" fill="#0aafd6" stroke="rgba(20,20,20,0.5)" stroke-width="0.55" stroke-linejoin="round"/>
<polygon points="126.89,145.65 132.55,149.33 132.55,69.53 126.89,65.85" fill="#0aafd6" stroke="rgba(20,20,20,0.5)" stroke-width="0.55" stroke-linejoin="round"/><polygon points="132.55,149.33 139.47,146.65 139.47,66.85 132.55,69.53" fill="#0aafd6" stroke="rgba(20,20,20,0.5)" stroke-width="0.55" stroke-linejoin="round"/>
<polygon points="126.89,65.85 132.55,69.53 139.47,66.85 133.81,63.17" fill="#0aafd6" stroke="rgba(20,20,20,0.5)" stroke-width="0.55" stroke-linejoin="round"/>
<polygon points="133.18,62.45 134.21,64.93 136.89,65.14 134.85,66.89 135.47,69.51 133.18,68.11 130.89,69.51 131.51,66.89 129.47,65.14 132.15,64.93" fill="none" stroke="#ff1414" stroke-width="2.1" stroke-linejoin="round"/>
<polygon points="126.89,145.65 132.55,149.33 132.55,69.53 126.89,65.85" fill="#0aafd6" stroke="rgba(20,20,20,0.5)" stroke-width="0.55" stroke-linejoin="round"/><polygon points="132.55,149.33 139.47,146.65 139.47,66.85 132.55,69.53" fill="#0aafd6" stroke="rgba(20,20,20,0.5)" stroke-width="0.55" stroke-linejoin="round"/>
<polygon points="136.64,152.01 142.30,155.69 142.30,91.85 136.64,88.17" fill="#0aafd6" stroke="rgba(20,20,20,0.5)" stroke-width="0.55" stroke-linejoin="round"/><polygon points="142.30,155.69 149.22,153.01 149.22,89.17 142.30,91.85" fill="#0aafd6" stroke="rgba(20,20,20,0.5)" stroke-width="0.55" stroke-linejoin="round"/>
<polygon points="136.64,88.17 142.30,91.85 149.22,89.17 143.56,85.49" fill="#0aafd6" stroke="rgba(20,20,20,0.5)" stroke-width="0.55" stroke-linejoin="round"/>
<polygon points="146.39,158.37 152.05,162.05 152.05,101.57 146.39,97.89" fill="#0aafd6" stroke="rgba(20,20,20,0.5)" stroke-width="0.55" stroke-linejoin="round"/><polygon points="152.05,162.05 158.97,159.37 158.97,98.89 152.05,101.57" fill="#0aafd6" stroke="rgba(20,20,20,0.5)" stroke-width="0.55" stroke-linejoin="round"/>
<polygon points="146.39,97.89 152.05,101.57 158.97,98.89 153.31,95.21" fill="#0aafd6" stroke="rgba(20,20,20,0.5)" stroke-width="0.55" stroke-linejoin="round"/>
<polygon points="156.14,164.73 161.80,168.41 161.80,111.29 156.14,107.61" fill="#0aafd6" stroke="rgba(20,20,20,0.5)" stroke-width="0.55" stroke-linejoin="round"/><polygon points="161.80,168.41 168.72,165.73 168.72,108.61 161.80,111.29" fill="#0aafd6" stroke="rgba(20,20,20,0.5)" stroke-width="0.55" stroke-linejoin="round"/>
<polygon points="156.14,107.61 161.80,111.29 168.72,108.61 163.06,104.93" fill="#0aafd6" stroke="rgba(20,20,20,0.5)" stroke-width="0.55" stroke-linejoin="round"/>
<polygon points="165.89,171.09 171.55,174.77 171.55,125.21 165.89,121.53" fill="#0aafd6" stroke="rgba(20,20,20,0.5)" stroke-width="0.55" stroke-linejoin="round"/><polygon points="171.55,174.77 178.47,172.09 178.47,122.53 171.55,125.21" fill="#0aafd6" stroke="rgba(20,20,20,0.5)" stroke-width="0.55" stroke-linejoin="round"/>
<polygon points="165.89,121.53 171.55,125.21 178.47,122.53 172.81,118.85" fill="#0aafd6" stroke="rgba(20,20,20,0.5)" stroke-width="0.55" stroke-linejoin="round"/>
<polygon points="175.64,177.45 181.30,181.13 181.30,113.09 175.64,109.41" fill="#0aafd6" stroke="rgba(20,20,20,0.5)" stroke-width="0.55" stroke-linejoin="round"/><polygon points="181.30,181.13 188.22,178.45 188.22,110.41 181.30,113.09" fill="#0aafd6" stroke="rgba(20,20,20,0.5)" stroke-width="0.55" stroke-linejoin="round"/>
<polygon points="175.64,109.41 181.30,113.09 188.22,110.41 182.56,106.73" fill="#0aafd6" stroke="rgba(20,20,20,0.5)" stroke-width="0.55" stroke-linejoin="round"/>
<polygon points="75.96,124.83 81.62,128.51 81.62,78.11 75.96,74.43" fill="#1092e4" stroke="rgba(20,20,20,0.5)" stroke-width="0.55" stroke-linejoin="round"/><polygon points="81.62,128.51 88.54,125.83 88.54,75.43 81.62,78.11" fill="#1092e4" stroke="rgba(20,20,20,0.5)" stroke-width="0.55" stroke-linejoin="round"/>
<polygon points="75.96,74.43 81.62,78.11 88.54,75.43 82.88,71.75" fill="#1092e4" stroke="rgba(20,20,20,0.5)" stroke-width="0.55" stroke-linejoin="round"/>
<polygon points="85.71,131.19 91.37,134.87 91.37,84.47 85.71,80.79" fill="#1092e4" stroke="rgba(20,20,20,0.5)" stroke-width="0.55" stroke-linejoin="round"/><polygon points="91.37,134.87 98.29,132.19 98.29,81.79 91.37,84.47" fill="#1092e4" stroke="rgba(20,20,20,0.5)" stroke-width="0.55" stroke-linejoin="round"/>
<polygon points="85.71,80.79 91.37,84.47 98.29,81.79 92.63,78.11" fill="#1092e4" stroke="rgba(20,20,20,0.5)" stroke-width="0.55" stroke-linejoin="round"/>
<polygon points="95.46,137.55 101.12,141.23 101.12,68.15 95.46,64.47" fill="#1092e4" stroke="rgba(20,20,20,0.5)" stroke-width="0.55" stroke-linejoin="round"/><polygon points="101.12,141.23 108.04,138.55 108.04,65.47 101.12,68.15" fill="#1092e4" stroke="rgba(20,20,20,0.5)" stroke-width="0.55" stroke-linejoin="round"/>
<polygon points="95.46,64.47 101.12,68.15 108.04,65.47 102.38,61.79" fill="#1092e4" stroke="rgba(20,20,20,0.5)" stroke-width="0.55" stroke-linejoin="round"/>
<polygon points="105.21,143.91 110.87,147.59 110.87,59.39 105.21,55.71" fill="#1092e4" stroke="rgba(20,20,20,0.5)" stroke-width="0.55" stroke-linejoin="round"/><polygon points="110.87,147.59 117.79,144.91 117.79,56.71 110.87,59.39" fill="#1092e4" stroke="rgba(20,20,20,0.5)" stroke-width="0.55" stroke-linejoin="round"/>
<polygon points="105.21,55.71 110.87,59.39 117.79,56.71 112.13,53.03" fill="#1092e4" stroke="rgba(20,20,20,0.5)" stroke-width="0.55" stroke-linejoin="round"/>
<polygon points="111.50,52.31 112.53,54.79 115.21,55.00 113.17,56.75 113.79,59.37 111.50,57.96 109.21,59.37 109.83,56.75 107.79,55.00 110.47,54.79" fill="none" stroke="#ff1414" stroke-width="2.1" stroke-linejoin="round"/>
<polygon points="105.21,143.91 110.87,147.59 110.87,59.39 105.21,55.71" fill="#1092e4" stroke="rgba(20,20,20,0.5)" stroke-width="0.55" stroke-linejoin="round"/><polygon points="110.87,147.59 117.79,144.91 117.79,56.71 110.87,59.39" fill="#1092e4" stroke="rgba(20,20,20,0.5)" stroke-width="0.55" stroke-linejoin="round"/>
<polygon points="114.96,150.27 120.62,153.95 120.62,99.35 114.96,95.67" fill="#1092e4" stroke="rgba(20,20,20,0.5)" stroke-width="0.55" stroke-linejoin="round"/><polygon points="120.62,153.95 127.54,151.27 127.54,96.67 120.62,99.35" fill="#1092e4" stroke="rgba(20,20,20,0.5)" stroke-width="0.55" stroke-linejoin="round"/>
<polygon points="114.96,95.67 120.62,99.35 127.54,96.67 121.88,92.99" fill="#1092e4" stroke="rgba(20,20,20,0.5)" stroke-width="0.55" stroke-linejoin="round"/>
<polygon points="124.71,156.63 130.37,160.31 130.37,84.71 124.71,81.03" fill="#1092e4" stroke="rgba(20,20,20,0.5)" stroke-width="0.55" stroke-linejoin="round"/><polygon points="130.37,160.31 137.29,157.63 137.29,82.03 130.37,84.71" fill="#1092e4" stroke="rgba(20,20,20,0.5)" stroke-width="0.55" stroke-linejoin="round"/>
<polygon points="124.71,81.03 130.37,84.71 137.29,82.03 131.63,78.35" fill="#1092e4" stroke="rgba(20,20,20,0.5)" stroke-width="0.55" stroke-linejoin="round"/>
<polygon points="134.46,162.99 140.12,166.67 140.12,105.35 134.46,101.67" fill="#1092e4" stroke="rgba(20,20,20,0.5)" stroke-width="0.55" stroke-linejoin="round"/><polygon points="140.12,166.67 147.04,163.99 147.04,102.67 140.12,105.35" fill="#1092e4" stroke="rgba(20,20,20,0.5)" stroke-width="0.55" stroke-linejoin="round"/>
<polygon points="134.46,101.67 140.12,105.35 147.04,102.67 141.38,98.99" fill="#1092e4" stroke="rgba(20,20,20,0.5)" stroke-width="0.55" stroke-linejoin="round"/>
<polygon points="144.21,169.35 149.87,173.03 149.87,100.79 144.21,97.11" fill="#1092e4" stroke="rgba(20,20,20,0.5)" stroke-width="0.55" stroke-linejoin="round"/><polygon points="149.87,173.03 156.79,170.35 156.79,98.11 149.87,100.79" fill="#1092e4" stroke="rgba(20,20,20,0.5)" stroke-width="0.55" stroke-linejoin="round"/>
<polygon points="144.21,97.11 149.87,100.79 156.79,98.11 151.13,94.43" fill="#1092e4" stroke="rgba(20,20,20,0.5)" stroke-width="0.55" stroke-linejoin="round"/>
<polygon points="153.96,175.71 159.62,179.39 159.62,128.99 153.96,125.31" fill="#1092e4" stroke="rgba(20,20,20,0.5)" stroke-width="0.55" stroke-linejoin="round"/><polygon points="159.62,179.39 166.54,176.71 166.54,126.31 159.62,128.99" fill="#1092e4" stroke="rgba(20,20,20,0.5)" stroke-width="0.55" stroke-linejoin="round"/>
<polygon points="153.96,125.31 159.62,128.99 166.54,126.31 160.88,122.63" fill="#1092e4" stroke="rgba(20,20,20,0.5)" stroke-width="0.55" stroke-linejoin="round"/>
<polygon points="163.71,182.07 169.37,185.75 169.37,126.95 163.71,123.27" fill="#1092e4" stroke="rgba(20,20,20,0.5)" stroke-width="0.55" stroke-linejoin="round"/><polygon points="169.37,185.75 176.29,183.07 176.29,124.27 169.37,126.95" fill="#1092e4" stroke="rgba(20,20,20,0.5)" stroke-width="0.55" stroke-linejoin="round"/>
<polygon points="163.71,123.27 169.37,126.95 176.29,124.27 170.63,120.59" fill="#1092e4" stroke="rgba(20,20,20,0.5)" stroke-width="0.55" stroke-linejoin="round"/>
<polygon points="64.03,129.45 69.69,133.13 69.69,82.73 64.03,79.05" fill="#1f6ef2" stroke="rgba(20,20,20,0.5)" stroke-width="0.55" stroke-linejoin="round"/><polygon points="69.69,133.13 76.61,130.45 76.61,80.05 69.69,82.73" fill="#1f6ef2" stroke="rgba(20,20,20,0.5)" stroke-width="0.55" stroke-linejoin="round"/>
<polygon points="64.03,79.05 69.69,82.73 76.61,80.05 70.95,76.37" fill="#1f6ef2" stroke="rgba(20,20,20,0.5)" stroke-width="0.55" stroke-linejoin="round"/>
<polygon points="73.78,135.81 79.44,139.49 79.44,66.41 73.78,62.73" fill="#1f6ef2" stroke="rgba(20,20,20,0.5)" stroke-width="0.55" stroke-linejoin="round"/><polygon points="79.44,139.49 86.36,136.81 86.36,63.73 79.44,66.41" fill="#1f6ef2" stroke="rgba(20,20,20,0.5)" stroke-width="0.55" stroke-linejoin="round"/>
<polygon points="73.78,62.73 79.44,66.41 86.36,63.73 80.70,60.05" fill="#1f6ef2" stroke="rgba(20,20,20,0.5)" stroke-width="0.55" stroke-linejoin="round"/>
<polygon points="83.53,142.17 89.19,145.85 89.19,64.37 83.53,60.69" fill="#1f6ef2" stroke="rgba(20,20,20,0.5)" stroke-width="0.55" stroke-linejoin="round"/><polygon points="89.19,145.85 96.11,143.17 96.11,61.69 89.19,64.37" fill="#1f6ef2" stroke="rgba(20,20,20,0.5)" stroke-width="0.55" stroke-linejoin="round"/>
<polygon points="83.53,60.69 89.19,64.37 96.11,61.69 90.45,58.01" fill="#1f6ef2" stroke="rgba(20,20,20,0.5)" stroke-width="0.55" stroke-linejoin="round"/>
<polygon points="89.82,57.29 90.85,59.77 93.53,59.98 91.49,61.73 92.11,64.35 89.82,62.94 87.53,64.35 88.15,61.73 86.11,59.98 88.79,59.77" fill="none" stroke="#ff1414" stroke-width="2.1" stroke-linejoin="round"/>
<polygon points="83.53,142.17 89.19,145.85 89.19,64.37 83.53,60.69" fill="#1f6ef2" stroke="rgba(20,20,20,0.5)" stroke-width="0.55" stroke-linejoin="round"/><polygon points="89.19,145.85 96.11,143.17 96.11,61.69 89.19,64.37" fill="#1f6ef2" stroke="rgba(20,20,20,0.5)" stroke-width="0.55" stroke-linejoin="round"/>
<polygon points="93.28,148.53 98.94,152.21 98.94,86.69 93.28,83.01" fill="#1f6ef2" stroke="rgba(20,20,20,0.5)" stroke-width="0.55" stroke-linejoin="round"/><polygon points="98.94,152.21 105.86,149.53 105.86,84.01 98.94,86.69" fill="#1f6ef2" stroke="rgba(20,20,20,0.5)" stroke-width="0.55" stroke-linejoin="round"/>
<polygon points="93.28,83.01 98.94,86.69 105.86,84.01 100.20,80.33" fill="#1f6ef2" stroke="rgba(20,20,20,0.5)" stroke-width="0.55" stroke-linejoin="round"/>
<polygon points="103.03,154.89 108.69,158.57 108.69,107.33 103.03,103.65" fill="#1f6ef2" stroke="rgba(20,20,20,0.5)" stroke-width="0.55" stroke-linejoin="round"/><polygon points="108.69,158.57 115.61,155.89 115.61,104.65 108.69,107.33" fill="#1f6ef2" stroke="rgba(20,20,20,0.5)" stroke-width="0.55" stroke-linejoin="round"/>
<polygon points="103.03,103.65 108.69,107.33 115.61,104.65 109.95,100.97" fill="#1f6ef2" stroke="rgba(20,20,20,0.5)" stroke-width="0.55" stroke-linejoin="round"/>
<polygon points="112.78,161.25 118.44,164.93 118.44,108.65 112.78,104.97" fill="#1f6ef2" stroke="rgba(20,20,20,0.5)" stroke-width="0.55" stroke-linejoin="round"/><polygon points="118.44,164.93 125.36,162.25 125.36,105.97 118.44,108.65" fill="#1f6ef2" stroke="rgba(20,20,20,0.5)" stroke-width="0.55" stroke-linejoin="round"/>
<polygon points="112.78,104.97 118.44,108.65 125.36,105.97 119.70,102.29" fill="#1f6ef2" stroke="rgba(20,20,20,0.5)" stroke-width="0.55" stroke-linejoin="round"/>
<polygon points="122.53,167.61 128.19,171.29 128.19,110.81 122.53,107.13" fill="#1f6ef2" stroke="rgba(20,20,20,0.5)" stroke-width="0.55" stroke-linejoin="round"/><polygon points="128.19,171.29 135.11,168.61 135.11,108.13 128.19,110.81" fill="#1f6ef2" stroke="rgba(20,20,20,0.5)" stroke-width="0.55" stroke-linejoin="round"/>
<polygon points="122.53,107.13 128.19,110.81 135.11,108.13 129.45,104.45" fill="#1f6ef2" stroke="rgba(20,20,20,0.5)" stroke-width="0.55" stroke-linejoin="round"/>
<polygon points="132.28,173.97 137.94,177.65 137.94,127.25 132.28,123.57" fill="#1f6ef2" stroke="rgba(20,20,20,0.5)" stroke-width="0.55" stroke-linejoin="round"/><polygon points="137.94,177.65 144.86,174.97 144.86,124.57 137.94,127.25" fill="#1f6ef2" stroke="rgba(20,20,20,0.5)" stroke-width="0.55" stroke-linejoin="round"/>
<polygon points="132.28,123.57 137.94,127.25 144.86,124.57 139.20,120.89" fill="#1f6ef2" stroke="rgba(20,20,20,0.5)" stroke-width="0.55" stroke-linejoin="round"/>
<polygon points="142.03,180.33 147.69,184.01 147.69,125.21 142.03,121.53" fill="#1f6ef2" stroke="rgba(20,20,20,0.5)" stroke-width="0.55" stroke-linejoin="round"/><polygon points="147.69,184.01 154.61,181.33 154.61,122.53 147.69,125.21" fill="#1f6ef2" stroke="rgba(20,20,20,0.5)" stroke-width="0.55" stroke-linejoin="round"/>
<polygon points="142.03,121.53 147.69,125.21 154.61,122.53 148.95,118.85" fill="#1f6ef2" stroke="rgba(20,20,20,0.5)" stroke-width="0.55" stroke-linejoin="round"/>
<polygon points="151.78,186.69 157.44,190.37 157.44,136.61 151.78,132.93" fill="#1f6ef2" stroke="rgba(20,20,20,0.5)" stroke-width="0.55" stroke-linejoin="round"/><polygon points="157.44,190.37 164.36,187.69 164.36,133.93 157.44,136.61" fill="#1f6ef2" stroke="rgba(20,20,20,0.5)" stroke-width="0.55" stroke-linejoin="round"/>
<polygon points="151.78,132.93 157.44,136.61 164.36,133.93 158.70,130.25" fill="#1f6ef2" stroke="rgba(20,20,20,0.5)" stroke-width="0.55" stroke-linejoin="round"/>
<polygon points="52.10,134.07 57.76,137.75 57.76,93.23 52.10,89.55" fill="#4a42ec" stroke="rgba(20,20,20,0.5)" stroke-width="0.55" stroke-linejoin="round"/><polygon points="57.76,137.75 64.68,135.07 64.68,90.55 57.76,93.23" fill="#4a42ec" stroke="rgba(20,20,20,0.5)" stroke-width="0.55" stroke-linejoin="round"/>
<polygon points="52.10,89.55 57.76,93.23 64.68,90.55 59.02,86.87" fill="#4a42ec" stroke="rgba(20,20,20,0.5)" stroke-width="0.55" stroke-linejoin="round"/>
<polygon points="61.85,140.43 67.51,144.11 67.51,70.61 61.85,66.93" fill="#4a42ec" stroke="rgba(20,20,20,0.5)" stroke-width="0.55" stroke-linejoin="round"/><polygon points="67.51,144.11 74.43,141.43 74.43,67.93 67.51,70.61" fill="#4a42ec" stroke="rgba(20,20,20,0.5)" stroke-width="0.55" stroke-linejoin="round"/>
<polygon points="61.85,66.93 67.51,70.61 74.43,67.93 68.77,64.25" fill="#4a42ec" stroke="rgba(20,20,20,0.5)" stroke-width="0.55" stroke-linejoin="round"/>
<polygon points="68.14,63.53 69.17,66.01 71.85,66.22 69.81,67.97 70.43,70.59 68.14,69.19 65.85,70.59 66.47,67.97 64.43,66.22 67.11,66.01" fill="none" stroke="#ff1414" stroke-width="2.1" stroke-linejoin="round"/>
<polygon points="61.85,140.43 67.51,144.11 67.51,70.61 61.85,66.93" fill="#4a42ec" stroke="rgba(20,20,20,0.5)" stroke-width="0.55" stroke-linejoin="round"/><polygon points="67.51,144.11 74.43,141.43 74.43,67.93 67.51,70.61" fill="#4a42ec" stroke="rgba(20,20,20,0.5)" stroke-width="0.55" stroke-linejoin="round"/>
<polygon points="71.60,146.79 77.26,150.47 77.26,95.03 71.60,91.35" fill="#4a42ec" stroke="rgba(20,20,20,0.5)" stroke-width="0.55" stroke-linejoin="round"/><polygon points="77.26,150.47 84.18,147.79 84.18,92.35 77.26,95.03" fill="#4a42ec" stroke="rgba(20,20,20,0.5)" stroke-width="0.55" stroke-linejoin="round"/>
<polygon points="71.60,91.35 77.26,95.03 84.18,92.35 78.52,88.67" fill="#4a42ec" stroke="rgba(20,20,20,0.5)" stroke-width="0.55" stroke-linejoin="round"/>
<polygon points="81.35,153.15 87.01,156.83 87.01,103.07 81.35,99.39" fill="#4a42ec" stroke="rgba(20,20,20,0.5)" stroke-width="0.55" stroke-linejoin="round"/><polygon points="87.01,156.83 93.93,154.15 93.93,100.39 87.01,103.07" fill="#4a42ec" stroke="rgba(20,20,20,0.5)" stroke-width="0.55" stroke-linejoin="round"/>
<polygon points="81.35,99.39 87.01,103.07 93.93,100.39 88.27,96.71" fill="#4a42ec" stroke="rgba(20,20,20,0.5)" stroke-width="0.55" stroke-linejoin="round"/>
<polygon points="91.10,159.51 96.76,163.19 96.76,116.99 91.10,113.31" fill="#4a42ec" stroke="rgba(20,20,20,0.5)" stroke-width="0.55" stroke-linejoin="round"/><polygon points="96.76,163.19 103.68,160.51 103.68,114.31 96.76,116.99" fill="#4a42ec" stroke="rgba(20,20,20,0.5)" stroke-width="0.55" stroke-linejoin="round"/>
<polygon points="91.10,113.31 96.76,116.99 103.68,114.31 98.02,110.63" fill="#4a42ec" stroke="rgba(20,20,20,0.5)" stroke-width="0.55" stroke-linejoin="round"/>
<polygon points="100.85,165.87 106.51,169.55 106.51,115.79 100.85,112.11" fill="#4a42ec" stroke="rgba(20,20,20,0.5)" stroke-width="0.55" stroke-linejoin="round"/><polygon points="106.51,169.55 113.43,166.87 113.43,113.11 106.51,115.79" fill="#4a42ec" stroke="rgba(20,20,20,0.5)" stroke-width="0.55" stroke-linejoin="round"/>
<polygon points="100.85,112.11 106.51,115.79 113.43,113.11 107.77,109.43" fill="#4a42ec" stroke="rgba(20,20,20,0.5)" stroke-width="0.55" stroke-linejoin="round"/>
<polygon points="110.60,172.23 116.26,175.91 116.26,126.35 110.60,122.67" fill="#4a42ec" stroke="rgba(20,20,20,0.5)" stroke-width="0.55" stroke-linejoin="round"/><polygon points="116.26,175.91 123.18,173.23 123.18,123.67 116.26,126.35" fill="#4a42ec" stroke="rgba(20,20,20,0.5)" stroke-width="0.55" stroke-linejoin="round"/>
<polygon points="110.60,122.67 116.26,126.35 123.18,123.67 117.52,119.99" fill="#4a42ec" stroke="rgba(20,20,20,0.5)" stroke-width="0.55" stroke-linejoin="round"/>
<polygon points="120.35,178.59 126.01,182.27 126.01,137.75 120.35,134.07" fill="#4a42ec" stroke="rgba(20,20,20,0.5)" stroke-width="0.55" stroke-linejoin="round"/><polygon points="126.01,182.27 132.93,179.59 132.93,135.07 126.01,137.75" fill="#4a42ec" stroke="rgba(20,20,20,0.5)" stroke-width="0.55" stroke-linejoin="round"/>
<polygon points="120.35,134.07 126.01,137.75 132.93,135.07 127.27,131.39" fill="#4a42ec" stroke="rgba(20,20,20,0.5)" stroke-width="0.55" stroke-linejoin="round"/>
<polygon points="130.10,184.95 135.76,188.63 135.76,140.75 130.10,137.07" fill="#4a42ec" stroke="rgba(20,20,20,0.5)" stroke-width="0.55" stroke-linejoin="round"/><polygon points="135.76,188.63 142.68,185.95 142.68,138.07 135.76,140.75" fill="#4a42ec" stroke="rgba(20,20,20,0.5)" stroke-width="0.55" stroke-linejoin="round"/>
<polygon points="130.10,137.07 135.76,140.75 142.68,138.07 137.02,134.39" fill="#4a42ec" stroke="rgba(20,20,20,0.5)" stroke-width="0.55" stroke-linejoin="round"/>
<polygon points="139.85,191.31 145.51,194.99 145.51,158.03 139.85,154.35" fill="#4a42ec" stroke="rgba(20,20,20,0.5)" stroke-width="0.55" stroke-linejoin="round"/><polygon points="145.51,194.99 152.43,192.31 152.43,155.35 145.51,158.03" fill="#4a42ec" stroke="rgba(20,20,20,0.5)" stroke-width="0.55" stroke-linejoin="round"/>
<polygon points="139.85,154.35 145.51,158.03 152.43,155.35 146.77,151.67" fill="#4a42ec" stroke="rgba(20,20,20,0.5)" stroke-width="0.55" stroke-linejoin="round"/>
<polygon points="40.17,138.69 45.83,142.37 45.83,68.45 40.17,64.77" fill="#3c22ae" stroke="rgba(20,20,20,0.5)" stroke-width="0.55" stroke-linejoin="round"/><polygon points="45.83,142.37 52.75,139.69 52.75,65.77 45.83,68.45" fill="#3c22ae" stroke="rgba(20,20,20,0.5)" stroke-width="0.55" stroke-linejoin="round"/>
<polygon points="40.17,64.77 45.83,68.45 52.75,65.77 47.09,62.09" fill="#3c22ae" stroke="rgba(20,20,20,0.5)" stroke-width="0.55" stroke-linejoin="round"/>
<polygon points="46.46,61.37 47.49,63.85 50.17,64.06 48.13,65.81 48.75,68.43 46.46,67.02 44.17,68.43 44.79,65.81 42.75,64.06 45.43,63.85" fill="none" stroke="#ff1414" stroke-width="2.1" stroke-linejoin="round"/>
<polygon points="40.17,138.69 45.83,142.37 45.83,68.45 40.17,64.77" fill="#3c22ae" stroke="rgba(20,20,20,0.5)" stroke-width="0.55" stroke-linejoin="round"/><polygon points="45.83,142.37 52.75,139.69 52.75,65.77 45.83,68.45" fill="#3c22ae" stroke="rgba(20,20,20,0.5)" stroke-width="0.55" stroke-linejoin="round"/>
<polygon points="49.92,145.05 55.58,148.73 55.58,97.49 49.92,93.81" fill="#3c22ae" stroke="rgba(20,20,20,0.5)" stroke-width="0.55" stroke-linejoin="round"/><polygon points="55.58,148.73 62.50,146.05 62.50,94.81 55.58,97.49" fill="#3c22ae" stroke="rgba(20,20,20,0.5)" stroke-width="0.55" stroke-linejoin="round"/>
<polygon points="49.92,93.81 55.58,97.49 62.50,94.81 56.84,91.13" fill="#3c22ae" stroke="rgba(20,20,20,0.5)" stroke-width="0.55" stroke-linejoin="round"/>
<polygon points="59.67,151.41 65.33,155.09 65.33,96.29 59.67,92.61" fill="#3c22ae" stroke="rgba(20,20,20,0.5)" stroke-width="0.55" stroke-linejoin="round"/><polygon points="65.33,155.09 72.25,152.41 72.25,93.61 65.33,96.29" fill="#3c22ae" stroke="rgba(20,20,20,0.5)" stroke-width="0.55" stroke-linejoin="round"/>
<polygon points="59.67,92.61 65.33,96.29 72.25,93.61 66.59,89.93" fill="#3c22ae" stroke="rgba(20,20,20,0.5)" stroke-width="0.55" stroke-linejoin="round"/>
<polygon points="69.42,157.77 75.08,161.45 75.08,102.65 69.42,98.97" fill="#3c22ae" stroke="rgba(20,20,20,0.5)" stroke-width="0.55" stroke-linejoin="round"/><polygon points="75.08,161.45 82.00,158.77 82.00,99.97 75.08,102.65" fill="#3c22ae" stroke="rgba(20,20,20,0.5)" stroke-width="0.55" stroke-linejoin="round"/>
<polygon points="69.42,98.97 75.08,102.65 82.00,99.97 76.34,96.29" fill="#3c22ae" stroke="rgba(20,20,20,0.5)" stroke-width="0.55" stroke-linejoin="round"/>
<polygon points="79.17,164.13 84.83,167.81 84.83,120.77 79.17,117.09" fill="#3c22ae" stroke="rgba(20,20,20,0.5)" stroke-width="0.55" stroke-linejoin="round"/><polygon points="84.83,167.81 91.75,165.13 91.75,118.09 84.83,120.77" fill="#3c22ae" stroke="rgba(20,20,20,0.5)" stroke-width="0.55" stroke-linejoin="round"/>
<polygon points="79.17,117.09 84.83,120.77 91.75,118.09 86.09,114.41" fill="#3c22ae" stroke="rgba(20,20,20,0.5)" stroke-width="0.55" stroke-linejoin="round"/>
<polygon points="88.92,170.49 94.58,174.17 94.58,115.37 88.92,111.69" fill="#3c22ae" stroke="rgba(20,20,20,0.5)" stroke-width="0.55" stroke-linejoin="round"/><polygon points="94.58,174.17 101.50,171.49 101.50,112.69 94.58,115.37" fill="#3c22ae" stroke="rgba(20,20,20,0.5)" stroke-width="0.55" stroke-linejoin="round"/>
<polygon points="88.92,111.69 94.58,115.37 101.50,112.69 95.84,109.01" fill="#3c22ae" stroke="rgba(20,20,20,0.5)" stroke-width="0.55" stroke-linejoin="round"/>
<polygon points="98.67,176.85 104.33,180.53 104.33,123.41 98.67,119.73" fill="#3c22ae" stroke="rgba(20,20,20,0.5)" stroke-width="0.55" stroke-linejoin="round"/><polygon points="104.33,180.53 111.25,177.85 111.25,120.73 104.33,123.41" fill="#3c22ae" stroke="rgba(20,20,20,0.5)" stroke-width="0.55" stroke-linejoin="round"/>
<polygon points="98.67,119.73 104.33,123.41 111.25,120.73 105.59,117.05" fill="#3c22ae" stroke="rgba(20,20,20,0.5)" stroke-width="0.55" stroke-linejoin="round"/>
<polygon points="108.42,183.21 114.08,186.89 114.08,131.45 108.42,127.77" fill="#3c22ae" stroke="rgba(20,20,20,0.5)" stroke-width="0.55" stroke-linejoin="round"/><polygon points="114.08,186.89 121.00,184.21 121.00,128.77 114.08,131.45" fill="#3c22ae" stroke="rgba(20,20,20,0.5)" stroke-width="0.55" stroke-linejoin="round"/>
<polygon points="108.42,127.77 114.08,131.45 121.00,128.77 115.34,125.09" fill="#3c22ae" stroke="rgba(20,20,20,0.5)" stroke-width="0.55" stroke-linejoin="round"/>
<polygon points="118.17,189.57 123.83,193.25 123.83,146.21 118.17,142.53" fill="#3c22ae" stroke="rgba(20,20,20,0.5)" stroke-width="0.55" stroke-linejoin="round"/><polygon points="123.83,193.25 130.75,190.57 130.75,143.53 123.83,146.21" fill="#3c22ae" stroke="rgba(20,20,20,0.5)" stroke-width="0.55" stroke-linejoin="round"/>
<polygon points="118.17,142.53 123.83,146.21 130.75,143.53 125.09,139.85" fill="#3c22ae" stroke="rgba(20,20,20,0.5)" stroke-width="0.55" stroke-linejoin="round"/>
<polygon points="127.92,195.93 133.58,199.61 133.58,166.01 127.92,162.33" fill="#3c22ae" stroke="rgba(20,20,20,0.5)" stroke-width="0.55" stroke-linejoin="round"/><polygon points="133.58,199.61 140.50,196.93 140.50,163.33 133.58,166.01" fill="#3c22ae" stroke="rgba(20,20,20,0.5)" stroke-width="0.55" stroke-linejoin="round"/>
<polygon points="127.92,162.33 133.58,166.01 140.50,163.33 134.84,159.65" fill="#3c22ae" stroke="rgba(20,20,20,0.5)" stroke-width="0.55" stroke-linejoin="round"/></g>
<g fill="#1e1e1e" stroke="#1e1e1e" stroke-width="0.25"><text x="27.20" y="47.60" text-anchor="end" font-size="11.3" dominant-baseline="central">10</text>
<text x="27.40" y="90.40" text-anchor="end" font-size="11.3" dominant-baseline="central">5</text>
<text x="27.60" y="132.20" text-anchor="end" font-size="11.3" dominant-baseline="central">0</text>
<text x="33.10" y="151.60" text-anchor="middle" font-size="11.3" dominant-baseline="central">0</text>
<text x="42.71" y="157.88" text-anchor="middle" font-size="11.3" dominant-baseline="central">1</text>
<text x="52.32" y="164.16" text-anchor="middle" font-size="11.3" dominant-baseline="central">2</text>
<text x="61.93" y="170.43" text-anchor="middle" font-size="11.3" dominant-baseline="central">3</text>
<text x="71.54" y="176.71" text-anchor="middle" font-size="11.3" dominant-baseline="central">4</text>
<text x="81.16" y="182.99" text-anchor="middle" font-size="11.3" dominant-baseline="central">5</text>
<text x="90.77" y="189.27" text-anchor="middle" font-size="11.3" dominant-baseline="central">6</text>
<text x="100.38" y="195.54" text-anchor="middle" font-size="11.3" dominant-baseline="central">7</text>
<text x="109.99" y="201.82" text-anchor="middle" font-size="11.3" dominant-baseline="central">8</text>
<text x="119.60" y="208.10" text-anchor="middle" font-size="11.3" dominant-baseline="central">9</text>
<text x="146.80" y="210.20" text-anchor="middle" font-size="11.3" dominant-baseline="central">1</text>
<text x="158.64" y="205.86" text-anchor="middle" font-size="11.3" dominant-baseline="central">2</text>
<text x="170.48" y="201.52" text-anchor="middle" font-size="11.3" dominant-baseline="central">3</text>
<text x="182.31" y="197.19" text-anchor="middle" font-size="11.3" dominant-baseline="central">4</text>
<text x="194.15" y="192.85" text-anchor="middle" font-size="11.3" dominant-baseline="central">5</text>
<text x="205.99" y="188.51" text-anchor="middle" font-size="11.3" dominant-baseline="central">6</text>
<text x="217.82" y="184.18" text-anchor="middle" font-size="11.3" dominant-baseline="central">7</text>
<text x="229.66" y="179.84" text-anchor="middle" font-size="11.3" dominant-baseline="central">8</text>
<text x="241.50" y="175.50" text-anchor="middle" font-size="11.3" dominant-baseline="central">9</text>
<text x="256.90" y="171.20" text-anchor="middle" font-size="11.3" dominant-baseline="central">10</text>
<text transform="translate(13.00,93.50) rotate(-90)" text-anchor="middle" font-size="12.7">Reflected light signals</text>
<text transform="translate(17.60,162.40) rotate(33.10)" font-size="12.7">Projected label order</text>
<text transform="translate(148.80,226.00) rotate(-21.20)" font-size="12.8">A total of ten simulations</text>
<text x="37.80" y="192.80" text-anchor="middle" font-size="13.0" font-weight="bold" dominant-baseline="central" xml:space="preserve">( a )</text></g>
<clipPath id="cpb"><rect x="275" y="0" width="275" height="232"/></clipPath>
<g clip-path="url(#cpb)"><line x1="305.49" y1="140.39" x2="305.49" y2="55.48" stroke="#e9e9e9" stroke-width="0.60"/>
<line x1="305.49" y1="140.39" x2="404.43" y2="204.87" stroke="#e9e9e9" stroke-width="0.60"/>
<line x1="317.18" y1="135.86" x2="317.18" y2="50.95" stroke="#e9e9e9" stroke-width="0.60"/>
<line x1="317.18" y1="135.86" x2="416.12" y2="200.34" stroke="#e9e9e9" stroke-width="0.60"/>
<line x1="328.87" y1="131.33" x2="328.87" y2="46.42" stroke="#e9e9e9" stroke-width="0.60"/>
<line x1="328.87" y1="131.33" x2="427.81" y2="195.81" stroke="#e9e9e9" stroke-width="0.60"/>
<line x1="340.56" y1="126.80" x2="340.56" y2="41.89" stroke="#e9e9e9" stroke-width="0.60"/>
<line x1="340.56" y1="126.80" x2="439.50" y2="191.28" stroke="#e9e9e9" stroke-width="0.60"/>
<line x1="352.25" y1="122.27" x2="352.25" y2="37.36" stroke="#e9e9e9" stroke-width="0.60"/>
<line x1="352.25" y1="122.27" x2="451.19" y2="186.75" stroke="#e9e9e9" stroke-width="0.60"/>
<line x1="363.94" y1="117.74" x2="363.94" y2="32.83" stroke="#e9e9e9" stroke-width="0.60"/>
<line x1="363.94" y1="117.74" x2="462.88" y2="182.22" stroke="#e9e9e9" stroke-width="0.60"/>
<line x1="375.63" y1="113.21" x2="375.63" y2="28.30" stroke="#e9e9e9" stroke-width="0.60"/>
<line x1="375.63" y1="113.21" x2="474.57" y2="177.69" stroke="#e9e9e9" stroke-width="0.60"/>
<line x1="387.32" y1="108.68" x2="387.32" y2="23.77" stroke="#e9e9e9" stroke-width="0.60"/>
<line x1="387.32" y1="108.68" x2="486.26" y2="173.16" stroke="#e9e9e9" stroke-width="0.60"/>
<line x1="399.01" y1="104.15" x2="399.01" y2="19.24" stroke="#e9e9e9" stroke-width="0.60"/>
<line x1="399.01" y1="104.15" x2="497.95" y2="168.63" stroke="#e9e9e9" stroke-width="0.60"/>
<line x1="410.70" y1="99.62" x2="410.70" y2="14.71" stroke="#e9e9e9" stroke-width="0.60"/>
<line x1="410.70" y1="99.62" x2="509.64" y2="164.10" stroke="#e9e9e9" stroke-width="0.60"/>
<line x1="423.40" y1="105.23" x2="423.40" y2="20.32" stroke="#e9e9e9" stroke-width="0.60"/>
<line x1="312.23" y1="148.31" x2="423.40" y2="105.23" stroke="#e9e9e9" stroke-width="0.60"/>
<line x1="432.96" y1="111.46" x2="432.96" y2="26.55" stroke="#e9e9e9" stroke-width="0.60"/>
<line x1="321.79" y1="154.54" x2="432.96" y2="111.46" stroke="#e9e9e9" stroke-width="0.60"/>
<line x1="442.52" y1="117.69" x2="442.52" y2="32.78" stroke="#e9e9e9" stroke-width="0.60"/>
<line x1="331.35" y1="160.77" x2="442.52" y2="117.69" stroke="#e9e9e9" stroke-width="0.60"/>
<line x1="452.08" y1="123.92" x2="452.08" y2="39.01" stroke="#e9e9e9" stroke-width="0.60"/>
<line x1="340.91" y1="167.00" x2="452.08" y2="123.92" stroke="#e9e9e9" stroke-width="0.60"/>
<line x1="461.64" y1="130.15" x2="461.64" y2="45.24" stroke="#e9e9e9" stroke-width="0.60"/>
<line x1="350.47" y1="173.23" x2="461.64" y2="130.15" stroke="#e9e9e9" stroke-width="0.60"/>
<line x1="471.20" y1="136.38" x2="471.20" y2="51.47" stroke="#e9e9e9" stroke-width="0.60"/>
<line x1="360.03" y1="179.46" x2="471.20" y2="136.38" stroke="#e9e9e9" stroke-width="0.60"/>
<line x1="480.76" y1="142.61" x2="480.76" y2="57.70" stroke="#e9e9e9" stroke-width="0.60"/>
<line x1="369.59" y1="185.69" x2="480.76" y2="142.61" stroke="#e9e9e9" stroke-width="0.60"/>
<line x1="490.32" y1="148.84" x2="490.32" y2="63.93" stroke="#e9e9e9" stroke-width="0.60"/>
<line x1="379.15" y1="191.92" x2="490.32" y2="148.84" stroke="#e9e9e9" stroke-width="0.60"/>
<line x1="499.88" y1="155.07" x2="499.88" y2="70.16" stroke="#e9e9e9" stroke-width="0.60"/>
<line x1="388.71" y1="198.15" x2="499.88" y2="155.07" stroke="#e9e9e9" stroke-width="0.60"/>
<line x1="509.44" y1="161.30" x2="509.44" y2="76.39" stroke="#e9e9e9" stroke-width="0.60"/>
<line x1="398.27" y1="204.38" x2="509.44" y2="161.30" stroke="#e9e9e9" stroke-width="0.60"/>
<polyline points="302.10,131.39 413.27,88.31 512.21,152.79" fill="none" stroke="#e9e9e9" stroke-width="0.60"/>
<polyline points="302.10,109.45 413.27,66.37 512.21,130.85" fill="none" stroke="#e9e9e9" stroke-width="0.60"/>
<polyline points="302.10,87.51 413.27,44.43 512.21,108.91" fill="none" stroke="#e9e9e9" stroke-width="0.60"/>
<polyline points="302.10,65.57 413.27,22.49 512.21,86.97" fill="none" stroke="#e9e9e9" stroke-width="0.60"/>
<line x1="302.10" y1="141.70" x2="302.10" y2="56.79" stroke="#9a9a9a" stroke-width="0.80"/>
<polyline points="302.10,141.70 401.04,206.18 512.21,163.10" fill="none" stroke="#777" stroke-width="0.80"/>
<polygon points="433.79,107.88 439.33,111.49 439.33,90.65 433.79,87.03" fill="#f8f616" stroke="rgba(20,20,20,0.5)" stroke-width="0.55" stroke-linejoin="round"/><polygon points="439.33,111.49 446.11,108.86 446.11,88.02 439.33,90.65" fill="#f8f616" stroke="rgba(20,20,20,0.5)" stroke-width="0.55" stroke-linejoin="round"/>
<polygon points="433.79,87.03 439.33,90.65 446.11,88.02 440.57,84.41" fill="#f8f616" stroke="rgba(20,20,20,0.5)" stroke-width="0.55" stroke-linejoin="round"/>
<polygon points="452.91,120.34 458.45,123.95 458.45,91.04 452.91,87.43" fill="#f8f616" stroke="rgba(20,20,20,0.5)" stroke-width="0.55" stroke-linejoin="round"/><polygon points="458.45,123.95 465.23,121.32 465.23,88.41 458.45,91.04" fill="#f8f616" stroke="rgba(20,20,20,0.5)" stroke-width="0.55" stroke-linejoin="round"/>
<polygon points="452.91,87.43 458.45,91.04 465.23,88.41 459.69,84.80" fill="#f8f616" stroke="rgba(20,20,20,0.5)" stroke-width="0.55" stroke-linejoin="round"/>
<polygon points="472.03,132.80 477.57,136.41 477.57,123.03 472.03,119.41" fill="#f8f616" stroke="rgba(20,20,20,0.5)" stroke-width="0.55" stroke-linejoin="round"/><polygon points="477.57,136.41 484.35,133.78 484.35,120.40 477.57,123.03" fill="#f8f616" stroke="rgba(20,20,20,0.5)" stroke-width="0.55" stroke-linejoin="round"/>
<polygon points="472.03,119.41 477.57,123.03 484.35,120.40 478.81,116.79" fill="#f8f616" stroke="rgba(20,20,20,0.5)" stroke-width="0.55" stroke-linejoin="round"/>
<polygon points="491.15,145.26 496.69,148.87 496.69,141.74 491.15,138.13" fill="#f8f616" stroke="rgba(20,20,20,0.5)" stroke-width="0.55" stroke-linejoin="round"/><polygon points="496.69,148.87 503.47,146.24 503.47,139.11 496.69,141.74" fill="#f8f616" stroke="rgba(20,20,20,0.5)" stroke-width="0.55" stroke-linejoin="round"/>
<polygon points="491.15,138.13 496.69,141.74 503.47,139.11 497.93,135.50" fill="#f8f616" stroke="rgba(20,20,20,0.5)" stroke-width="0.55" stroke-linejoin="round"/>
<polygon points="500.71,151.49 506.25,155.10 506.25,102.99 500.71,99.38" fill="#f8f616" stroke="rgba(20,20,20,0.5)" stroke-width="0.55" stroke-linejoin="round"/><polygon points="506.25,155.10 513.03,152.47 513.03,100.37 506.25,102.99" fill="#f8f616" stroke="rgba(20,20,20,0.5)" stroke-width="0.55" stroke-linejoin="round"/>
<polygon points="500.71,99.38 506.25,102.99 513.03,100.37 507.49,96.75" fill="#f8f616" stroke="rgba(20,20,20,0.5)" stroke-width="0.55" stroke-linejoin="round"/>
<polygon points="506.87,95.97 507.90,98.45 510.58,98.67 508.54,100.41 509.16,103.03 506.87,101.63 504.58,103.03 505.20,100.41 503.16,98.67 505.84,98.45" fill="none" stroke="#ff1414" stroke-width="2.1" stroke-linejoin="round"/>
<polygon points="500.71,151.49 506.25,155.10 506.25,102.99 500.71,99.38" fill="#f8f616" stroke="rgba(20,20,20,0.5)" stroke-width="0.55" stroke-linejoin="round"/><polygon points="506.25,155.10 513.03,152.47 513.03,100.37 506.25,102.99" fill="#f8f616" stroke="rgba(20,20,20,0.5)" stroke-width="0.55" stroke-linejoin="round"/>
<polygon points="422.10,112.41 427.64,116.02 427.64,88.05 422.10,84.43" fill="#fcc81a" stroke="rgba(20,20,20,0.5)" stroke-width="0.55" stroke-linejoin="round"/><polygon points="427.64,116.02 434.42,113.39 434.42,85.42 427.64,88.05" fill="#fcc81a" stroke="rgba(20,20,20,0.5)" stroke-width="0.55" stroke-linejoin="round"/>
<polygon points="422.10,84.43 427.64,88.05 434.42,85.42 428.88,81.81" fill="#fcc81a" stroke="rgba(20,20,20,0.5)" stroke-width="0.55" stroke-linejoin="round"/>
<polygon points="450.78,131.10 456.32,134.71 456.32,117.16 450.78,113.55" fill="#fcc81a" stroke="rgba(20,20,20,0.5)" stroke-width="0.55" stroke-linejoin="round"/><polygon points="456.32,134.71 463.10,132.08 463.10,114.53 456.32,117.16" fill="#fcc81a" stroke="rgba(20,20,20,0.5)" stroke-width="0.55" stroke-linejoin="round"/>
<polygon points="450.78,113.55 456.32,117.16 463.10,114.53 457.56,110.92" fill="#fcc81a" stroke="rgba(20,20,20,0.5)" stroke-width="0.55" stroke-linejoin="round"/>
<polygon points="479.46,149.79 485.00,153.40 485.00,87.58 479.46,83.97" fill="#fcc81a" stroke="rgba(20,20,20,0.5)" stroke-width="0.55" stroke-linejoin="round"/><polygon points="485.00,153.40 491.78,150.77 491.78,84.95 485.00,87.58" fill="#fcc81a" stroke="rgba(20,20,20,0.5)" stroke-width="0.55" stroke-linejoin="round"/>
<polygon points="479.46,83.97 485.00,87.58 491.78,84.95 486.24,81.34" fill="#fcc81a" stroke="rgba(20,20,20,0.5)" stroke-width="0.55" stroke-linejoin="round"/>
<polygon points="485.62,80.56 486.65,83.04 489.33,83.25 487.29,85.00 487.91,87.62 485.62,86.21 483.33,87.62 483.95,85.00 481.91,83.25 484.59,83.04" fill="none" stroke="#ff1414" stroke-width="2.1" stroke-linejoin="round"/>
<polygon points="479.46,149.79 485.00,153.40 485.00,87.58 479.46,83.97" fill="#fcc81a" stroke="rgba(20,20,20,0.5)" stroke-width="0.55" stroke-linejoin="round"/><polygon points="485.00,153.40 491.78,150.77 491.78,84.95 485.00,87.58" fill="#fcc81a" stroke="rgba(20,20,20,0.5)" stroke-width="0.55" stroke-linejoin="round"/>
<polygon points="489.02,156.02 494.56,159.63 494.56,153.60 489.02,149.98" fill="#fcc81a" stroke="rgba(20,20,20,0.5)" stroke-width="0.55" stroke-linejoin="round"/><polygon points="494.56,159.63 501.34,157.00 501.34,150.97 494.56,153.60" fill="#fcc81a" stroke="rgba(20,20,20,0.5)" stroke-width="0.55" stroke-linejoin="round"/>
<polygon points="489.02,149.98 494.56,153.60 501.34,150.97 495.80,147.36" fill="#fcc81a" stroke="rgba(20,20,20,0.5)" stroke-width="0.55" stroke-linejoin="round"/>
<polygon points="400.85,110.71 406.39,114.32 406.39,101.16 400.85,97.54" fill="#f4b818" stroke="rgba(20,20,20,0.5)" stroke-width="0.55" stroke-linejoin="round"/><polygon points="406.39,114.32 413.17,111.69 413.17,98.53 406.39,101.16" fill="#f4b818" stroke="rgba(20,20,20,0.5)" stroke-width="0.55" stroke-linejoin="round"/>
<polygon points="400.85,97.54 406.39,101.16 413.17,98.53 407.63,94.92" fill="#f4b818" stroke="rgba(20,20,20,0.5)" stroke-width="0.55" stroke-linejoin="round"/>
<polygon points="458.21,148.09 463.75,151.70 463.75,110.56 458.21,106.95" fill="#f4b818" stroke="rgba(20,20,20,0.5)" stroke-width="0.55" stroke-linejoin="round"/><polygon points="463.75,151.70 470.53,149.07 470.53,107.94 463.75,110.56" fill="#f4b818" stroke="rgba(20,20,20,0.5)" stroke-width="0.55" stroke-linejoin="round"/>
<polygon points="458.21,106.95 463.75,110.56 470.53,107.94 464.99,104.32" fill="#f4b818" stroke="rgba(20,20,20,0.5)" stroke-width="0.55" stroke-linejoin="round"/>
<polygon points="464.37,103.54 465.40,106.02 468.08,106.24 466.04,107.98 466.66,110.60 464.37,109.20 462.08,110.60 462.70,107.98 460.66,106.24 463.34,106.02" fill="none" stroke="#ff1414" stroke-width="2.1" stroke-linejoin="round"/>
<polygon points="458.21,148.09 463.75,151.70 463.75,110.56 458.21,106.95" fill="#f4b818" stroke="rgba(20,20,20,0.5)" stroke-width="0.55" stroke-linejoin="round"/><polygon points="463.75,151.70 470.53,149.07 470.53,107.94 463.75,110.56" fill="#f4b818" stroke="rgba(20,20,20,0.5)" stroke-width="0.55" stroke-linejoin="round"/>
<polygon points="467.77,154.32 473.31,157.93 473.31,148.28 467.77,144.66" fill="#f4b818" stroke="rgba(20,20,20,0.5)" stroke-width="0.55" stroke-linejoin="round"/><polygon points="473.31,157.93 480.09,155.30 480.09,145.65 473.31,148.28" fill="#f4b818" stroke="rgba(20,20,20,0.5)" stroke-width="0.55" stroke-linejoin="round"/>
<polygon points="467.77,144.66 473.31,148.28 480.09,145.65 474.55,142.04" fill="#f4b818" stroke="rgba(20,20,20,0.5)" stroke-width="0.55" stroke-linejoin="round"/>
<polygon points="477.33,168.77 482.87,172.39 482.87,164.16 477.33,160.55" fill="#f4b818" stroke="rgba(20,20,20,0.5)" stroke-width="0.55" stroke-linejoin="round"/><polygon points="482.87,172.39 489.65,169.76 489.65,161.53 482.87,164.16" fill="#f4b818" stroke="rgba(20,20,20,0.5)" stroke-width="0.55" stroke-linejoin="round"/>
<polygon points="477.33,160.55 482.87,164.16 489.65,161.53 484.11,157.92" fill="#f4b818" stroke="rgba(20,20,20,0.5)" stroke-width="0.55" stroke-linejoin="round"/>
<polygon points="389.16,115.24 394.70,118.85 394.70,96.91 389.16,93.30" fill="#44c262" stroke="rgba(20,20,20,0.5)" stroke-width="0.55" stroke-linejoin="round"/><polygon points="394.70,118.85 401.48,116.22 401.48,94.28 394.70,96.91" fill="#44c262" stroke="rgba(20,20,20,0.5)" stroke-width="0.55" stroke-linejoin="round"/>
<polygon points="389.16,93.30 394.70,96.91 401.48,94.28 395.94,90.67" fill="#44c262" stroke="rgba(20,20,20,0.5)" stroke-width="0.55" stroke-linejoin="round"/>
<polygon points="408.28,127.70 413.82,131.31 413.82,102.02 408.28,98.41" fill="#44c262" stroke="rgba(20,20,20,0.5)" stroke-width="0.55" stroke-linejoin="round"/><polygon points="413.82,131.31 420.60,128.68 420.60,99.39 413.82,102.02" fill="#44c262" stroke="rgba(20,20,20,0.5)" stroke-width="0.55" stroke-linejoin="round"/>
<polygon points="408.28,98.41 413.82,102.02 420.60,99.39 415.06,95.78" fill="#44c262" stroke="rgba(20,20,20,0.5)" stroke-width="0.55" stroke-linejoin="round"/>
<polygon points="427.40,140.16 432.94,143.77 432.94,120.73 427.40,117.12" fill="#44c262" stroke="rgba(20,20,20,0.5)" stroke-width="0.55" stroke-linejoin="round"/><polygon points="432.94,143.77 439.72,141.14 439.72,118.11 432.94,120.73" fill="#44c262" stroke="rgba(20,20,20,0.5)" stroke-width="0.55" stroke-linejoin="round"/>
<polygon points="427.40,117.12 432.94,120.73 439.72,118.11 434.18,114.49" fill="#44c262" stroke="rgba(20,20,20,0.5)" stroke-width="0.55" stroke-linejoin="round"/>
<polygon points="436.96,146.39 442.50,150.00 442.50,96.25 436.96,92.63" fill="#44c262" stroke="rgba(20,20,20,0.5)" stroke-width="0.55" stroke-linejoin="round"/><polygon points="442.50,150.00 449.28,147.37 449.28,93.62 442.50,96.25" fill="#44c262" stroke="rgba(20,20,20,0.5)" stroke-width="0.55" stroke-linejoin="round"/>
<polygon points="436.96,92.63 442.50,96.25 449.28,93.62 443.74,90.01" fill="#44c262" stroke="rgba(20,20,20,0.5)" stroke-width="0.55" stroke-linejoin="round"/>
<polygon points="443.12,89.23 444.15,91.71 446.83,91.92 444.79,93.67 445.41,96.28 443.12,94.88 440.83,96.28 441.45,93.67 439.41,91.92 442.09,91.71" fill="none" stroke="#ff1414" stroke-width="2.1" stroke-linejoin="round"/>
<polygon points="436.96,146.39 442.50,150.00 442.50,96.25 436.96,92.63" fill="#44c262" stroke="rgba(20,20,20,0.5)" stroke-width="0.55" stroke-linejoin="round"/><polygon points="442.50,150.00 449.28,147.37 449.28,93.62 442.50,96.25" fill="#44c262" stroke="rgba(20,20,20,0.5)" stroke-width="0.55" stroke-linejoin="round"/>
<polygon points="456.08,158.85 461.62,162.46 461.62,149.30 456.08,145.68" fill="#44c262" stroke="rgba(20,20,20,0.5)" stroke-width="0.55" stroke-linejoin="round"/><polygon points="461.62,162.46 468.40,159.83 468.40,146.67 461.62,149.30" fill="#44c262" stroke="rgba(20,20,20,0.5)" stroke-width="0.55" stroke-linejoin="round"/>
<polygon points="456.08,145.68 461.62,149.30 468.40,146.67 462.86,143.06" fill="#44c262" stroke="rgba(20,20,20,0.5)" stroke-width="0.55" stroke-linejoin="round"/>
<polygon points="465.64,165.08 471.18,168.69 471.18,159.91 465.64,156.30" fill="#44c262" stroke="rgba(20,20,20,0.5)" stroke-width="0.55" stroke-linejoin="round"/><polygon points="471.18,168.69 477.96,166.06 477.96,157.29 471.18,159.91" fill="#44c262" stroke="rgba(20,20,20,0.5)" stroke-width="0.55" stroke-linejoin="round"/>
<polygon points="465.64,156.30 471.18,159.91 477.96,157.29 472.42,153.67" fill="#44c262" stroke="rgba(20,20,20,0.5)" stroke-width="0.55" stroke-linejoin="round"/>
<polygon points="367.91,113.54 373.45,117.15 373.45,95.21 367.91,91.60" fill="#18bea4" stroke="rgba(20,20,20,0.5)" stroke-width="0.55" stroke-linejoin="round"/><polygon points="373.45,117.15 380.23,114.52 380.23,92.58 373.45,95.21" fill="#18bea4" stroke="rgba(20,20,20,0.5)" stroke-width="0.55" stroke-linejoin="round"/>
<polygon points="367.91,91.60 373.45,95.21 380.23,92.58 374.69,88.97" fill="#18bea4" stroke="rgba(20,20,20,0.5)" stroke-width="0.55" stroke-linejoin="round"/>
<polygon points="377.47,119.77 383.01,123.38 383.01,95.96 377.47,92.34" fill="#18bea4" stroke="rgba(20,20,20,0.5)" stroke-width="0.55" stroke-linejoin="round"/><polygon points="383.01,123.38 389.79,120.75 389.79,93.33 383.01,95.96" fill="#18bea4" stroke="rgba(20,20,20,0.5)" stroke-width="0.55" stroke-linejoin="round"/>
<polygon points="377.47,92.34 383.01,95.96 389.79,93.33 384.25,89.71" fill="#18bea4" stroke="rgba(20,20,20,0.5)" stroke-width="0.55" stroke-linejoin="round"/>
<polygon points="387.03,126.00 392.57,129.61 392.57,113.16 387.03,109.54" fill="#18bea4" stroke="rgba(20,20,20,0.5)" stroke-width="0.55" stroke-linejoin="round"/><polygon points="392.57,129.61 399.35,126.98 399.35,110.53 392.57,113.16" fill="#18bea4" stroke="rgba(20,20,20,0.5)" stroke-width="0.55" stroke-linejoin="round"/>
<polygon points="387.03,109.54 392.57,113.16 399.35,110.53 393.81,106.91" fill="#18bea4" stroke="rgba(20,20,20,0.5)" stroke-width="0.55" stroke-linejoin="round"/>
<polygon points="415.71,144.69 421.25,148.30 421.25,86.32 415.71,82.71" fill="#18bea4" stroke="rgba(20,20,20,0.5)" stroke-width="0.55" stroke-linejoin="round"/><polygon points="421.25,148.30 428.03,145.67 428.03,83.69 421.25,86.32" fill="#18bea4" stroke="rgba(20,20,20,0.5)" stroke-width="0.55" stroke-linejoin="round"/>
<polygon points="415.71,82.71 421.25,86.32 428.03,83.69 422.49,80.08" fill="#18bea4" stroke="rgba(20,20,20,0.5)" stroke-width="0.55" stroke-linejoin="round"/>
<polygon points="421.87,79.30 422.90,81.78 425.58,81.99 423.54,83.74 424.16,86.35 421.87,84.95 419.58,86.35 420.20,83.74 418.16,81.99 420.84,81.78" fill="none" stroke="#ff1414" stroke-width="2.1" stroke-linejoin="round"/>
<polygon points="415.71,144.69 421.25,148.30 421.25,86.32 415.71,82.71" fill="#18bea4" stroke="rgba(20,20,20,0.5)" stroke-width="0.55" stroke-linejoin="round"/><polygon points="421.25,148.30 428.03,145.67 428.03,83.69 421.25,86.32" fill="#18bea4" stroke="rgba(20,20,20,0.5)" stroke-width="0.55" stroke-linejoin="round"/>
<polygon points="425.27,150.92 430.81,154.53 430.81,149.05 425.27,145.43" fill="#18bea4" stroke="rgba(20,20,20,0.5)" stroke-width="0.55" stroke-linejoin="round"/><polygon points="430.81,154.53 437.59,151.90 437.59,146.42 430.81,149.05" fill="#18bea4" stroke="rgba(20,20,20,0.5)" stroke-width="0.55" stroke-linejoin="round"/>
<polygon points="425.27,145.43 430.81,149.05 437.59,146.42 432.05,142.80" fill="#18bea4" stroke="rgba(20,20,20,0.5)" stroke-width="0.55" stroke-linejoin="round"/>
<polygon points="434.83,162.08 440.37,165.70 440.37,160.76 434.83,157.15" fill="#18bea4" stroke="rgba(20,20,20,0.5)" stroke-width="0.55" stroke-linejoin="round"/><polygon points="440.37,165.70 447.15,163.07 447.15,158.13 440.37,160.76" fill="#18bea4" stroke="rgba(20,20,20,0.5)" stroke-width="0.55" stroke-linejoin="round"/>
<polygon points="434.83,157.15 440.37,160.76 447.15,158.13 441.61,154.52" fill="#18bea4" stroke="rgba(20,20,20,0.5)" stroke-width="0.55" stroke-linejoin="round"/>
<polygon points="453.95,169.61 459.49,173.22 459.49,158.19 453.95,154.58" fill="#18bea4" stroke="rgba(20,20,20,0.5)" stroke-width="0.55" stroke-linejoin="round"/><polygon points="459.49,173.22 466.27,170.59 466.27,155.56 459.49,158.19" fill="#18bea4" stroke="rgba(20,20,20,0.5)" stroke-width="0.55" stroke-linejoin="round"/>
<polygon points="453.95,154.58 459.49,158.19 466.27,155.56 460.73,151.95" fill="#18bea4" stroke="rgba(20,20,20,0.5)" stroke-width="0.55" stroke-linejoin="round"/>
<polygon points="384.90,140.05 390.44,143.66 390.44,140.37 384.90,136.76" fill="#0aafd6" stroke="rgba(20,20,20,0.5)" stroke-width="0.55" stroke-linejoin="round"/><polygon points="390.44,143.66 397.22,141.03 397.22,137.74 390.44,140.37" fill="#0aafd6" stroke="rgba(20,20,20,0.5)" stroke-width="0.55" stroke-linejoin="round"/>
<polygon points="384.90,136.76 390.44,140.37 397.22,137.74 391.68,134.13" fill="#0aafd6" stroke="rgba(20,20,20,0.5)" stroke-width="0.55" stroke-linejoin="round"/>
<polygon points="394.46,142.99 400.00,146.60 400.00,98.88 394.46,95.27" fill="#0aafd6" stroke="rgba(20,20,20,0.5)" stroke-width="0.55" stroke-linejoin="round"/><polygon points="400.00,146.60 406.78,143.97 406.78,96.25 400.00,98.88" fill="#0aafd6" stroke="rgba(20,20,20,0.5)" stroke-width="0.55" stroke-linejoin="round"/>
<polygon points="394.46,95.27 400.00,98.88 406.78,96.25 401.24,92.64" fill="#0aafd6" stroke="rgba(20,20,20,0.5)" stroke-width="0.55" stroke-linejoin="round"/>
<polygon points="400.62,91.86 401.65,94.34 404.33,94.56 402.29,96.30 402.91,98.92 400.62,97.52 398.33,98.92 398.95,96.30 396.91,94.56 399.59,94.34" fill="none" stroke="#ff1414" stroke-width="2.1" stroke-linejoin="round"/>
<polygon points="394.46,142.99 400.00,146.60 400.00,98.88 394.46,95.27" fill="#0aafd6" stroke="rgba(20,20,20,0.5)" stroke-width="0.55" stroke-linejoin="round"/><polygon points="400.00,146.60 406.78,143.97 406.78,96.25 400.00,98.88" fill="#0aafd6" stroke="rgba(20,20,20,0.5)" stroke-width="0.55" stroke-linejoin="round"/>
<polygon points="413.58,155.45 419.12,159.06 419.12,153.58 413.58,149.96" fill="#0aafd6" stroke="rgba(20,20,20,0.5)" stroke-width="0.55" stroke-linejoin="round"/><polygon points="419.12,159.06 425.90,156.43 425.90,150.95 419.12,153.58" fill="#0aafd6" stroke="rgba(20,20,20,0.5)" stroke-width="0.55" stroke-linejoin="round"/>
<polygon points="413.58,149.96 419.12,153.58 425.90,150.95 420.36,147.33" fill="#0aafd6" stroke="rgba(20,20,20,0.5)" stroke-width="0.55" stroke-linejoin="round"/>
<polygon points="423.14,166.39 428.68,170.01 428.68,165.29 423.14,161.68" fill="#0aafd6" stroke="rgba(20,20,20,0.5)" stroke-width="0.55" stroke-linejoin="round"/><polygon points="428.68,170.01 435.46,167.38 435.46,162.66 428.68,165.29" fill="#0aafd6" stroke="rgba(20,20,20,0.5)" stroke-width="0.55" stroke-linejoin="round"/>
<polygon points="423.14,161.68 428.68,165.29 435.46,162.66 429.92,159.05" fill="#0aafd6" stroke="rgba(20,20,20,0.5)" stroke-width="0.55" stroke-linejoin="round"/>
<polygon points="432.70,172.84 438.24,176.46 438.24,171.52 432.70,167.91" fill="#0aafd6" stroke="rgba(20,20,20,0.5)" stroke-width="0.55" stroke-linejoin="round"/><polygon points="438.24,176.46 445.02,173.83 445.02,168.89 438.24,171.52" fill="#0aafd6" stroke="rgba(20,20,20,0.5)" stroke-width="0.55" stroke-linejoin="round"/>
<polygon points="432.70,167.91 438.24,171.52 445.02,168.89 439.48,165.28" fill="#0aafd6" stroke="rgba(20,20,20,0.5)" stroke-width="0.55" stroke-linejoin="round"/>
<polygon points="442.26,174.14 447.80,177.75 447.80,151.75 442.26,148.14" fill="#0aafd6" stroke="rgba(20,20,20,0.5)" stroke-width="0.55" stroke-linejoin="round"/><polygon points="447.80,177.75 454.58,175.12 454.58,149.12 447.80,151.75" fill="#0aafd6" stroke="rgba(20,20,20,0.5)" stroke-width="0.55" stroke-linejoin="round"/>
<polygon points="442.26,148.14 447.80,151.75 454.58,149.12 449.04,145.51" fill="#0aafd6" stroke="rgba(20,20,20,0.5)" stroke-width="0.55" stroke-linejoin="round"/>
<polygon points="373.21,141.29 378.75,144.90 378.75,97.73 373.21,94.12" fill="#1092e4" stroke="rgba(20,20,20,0.5)" stroke-width="0.55" stroke-linejoin="round"/><polygon points="378.75,144.90 385.53,142.27 385.53,95.10 378.75,97.73" fill="#1092e4" stroke="rgba(20,20,20,0.5)" stroke-width="0.55" stroke-linejoin="round"/>
<polygon points="373.21,94.12 378.75,97.73 385.53,95.10 379.99,91.49" fill="#1092e4" stroke="rgba(20,20,20,0.5)" stroke-width="0.55" stroke-linejoin="round"/>
<polygon points="379.37,90.71 380.40,93.19 383.08,93.40 381.04,95.15 381.66,97.76 379.37,96.36 377.08,97.76 377.70,95.15 375.66,93.40 378.34,93.19" fill="none" stroke="#ff1414" stroke-width="2.1" stroke-linejoin="round"/>
<polygon points="373.21,141.29 378.75,144.90 378.75,97.73 373.21,94.12" fill="#1092e4" stroke="rgba(20,20,20,0.5)" stroke-width="0.55" stroke-linejoin="round"/><polygon points="378.75,144.90 385.53,142.27 385.53,95.10 378.75,97.73" fill="#1092e4" stroke="rgba(20,20,20,0.5)" stroke-width="0.55" stroke-linejoin="round"/>
<polygon points="392.33,153.75 397.87,157.36 397.87,147.49 392.33,143.87" fill="#1092e4" stroke="rgba(20,20,20,0.5)" stroke-width="0.55" stroke-linejoin="round"/><polygon points="397.87,157.36 404.65,154.73 404.65,144.86 397.87,147.49" fill="#1092e4" stroke="rgba(20,20,20,0.5)" stroke-width="0.55" stroke-linejoin="round"/>
<polygon points="392.33,143.87 397.87,147.49 404.65,144.86 399.11,141.25" fill="#1092e4" stroke="rgba(20,20,20,0.5)" stroke-width="0.55" stroke-linejoin="round"/>
<polygon points="401.89,159.98 407.43,163.59 407.43,142.75 401.89,139.13" fill="#1092e4" stroke="rgba(20,20,20,0.5)" stroke-width="0.55" stroke-linejoin="round"/><polygon points="407.43,163.59 414.21,160.96 414.21,140.12 407.43,142.75" fill="#1092e4" stroke="rgba(20,20,20,0.5)" stroke-width="0.55" stroke-linejoin="round"/>
<polygon points="401.89,139.13 407.43,142.75 414.21,140.12 408.67,136.51" fill="#1092e4" stroke="rgba(20,20,20,0.5)" stroke-width="0.55" stroke-linejoin="round"/>
<polygon points="411.45,176.08 416.99,179.69 416.99,169.82 411.45,166.21" fill="#1092e4" stroke="rgba(20,20,20,0.5)" stroke-width="0.55" stroke-linejoin="round"/><polygon points="416.99,179.69 423.77,177.07 423.77,167.19 416.99,169.82" fill="#1092e4" stroke="rgba(20,20,20,0.5)" stroke-width="0.55" stroke-linejoin="round"/>
<polygon points="411.45,166.21 416.99,169.82 423.77,167.19 418.23,163.58" fill="#1092e4" stroke="rgba(20,20,20,0.5)" stroke-width="0.55" stroke-linejoin="round"/>
<polygon points="430.57,186.35 436.11,189.96 436.11,182.28 430.57,178.67" fill="#1092e4" stroke="rgba(20,20,20,0.5)" stroke-width="0.55" stroke-linejoin="round"/><polygon points="436.11,189.96 442.89,187.33 442.89,179.65 436.11,182.28" fill="#1092e4" stroke="rgba(20,20,20,0.5)" stroke-width="0.55" stroke-linejoin="round"/>
<polygon points="430.57,178.67 436.11,182.28 442.89,179.65 437.35,176.04" fill="#1092e4" stroke="rgba(20,20,20,0.5)" stroke-width="0.55" stroke-linejoin="round"/>
<polygon points="351.96,139.59 357.50,143.20 357.50,87.25 351.96,83.64" fill="#1f6ef2" stroke="rgba(20,20,20,0.5)" stroke-width="0.55" stroke-linejoin="round"/><polygon points="357.50,143.20 364.28,140.57 364.28,84.63 357.50,87.25" fill="#1f6ef2" stroke="rgba(20,20,20,0.5)" stroke-width="0.55" stroke-linejoin="round"/>
<polygon points="351.96,83.64 357.50,87.25 364.28,84.63 358.74,81.01" fill="#1f6ef2" stroke="rgba(20,20,20,0.5)" stroke-width="0.55" stroke-linejoin="round"/>
<polygon points="358.12,80.23 359.15,82.71 361.83,82.93 359.79,84.68 360.41,87.29 358.12,85.89 355.83,87.29 356.45,84.68 354.41,82.93 357.09,82.71" fill="none" stroke="#ff1414" stroke-width="2.1" stroke-linejoin="round"/>
<polygon points="351.96,139.59 357.50,143.20 357.50,87.25 351.96,83.64" fill="#1f6ef2" stroke="rgba(20,20,20,0.5)" stroke-width="0.55" stroke-linejoin="round"/><polygon points="357.50,143.20 364.28,140.57 364.28,84.63 357.50,87.25" fill="#1f6ef2" stroke="rgba(20,20,20,0.5)" stroke-width="0.55" stroke-linejoin="round"/>
<polygon points="380.64,158.28 386.18,161.89 386.18,149.82 380.64,146.21" fill="#1f6ef2" stroke="rgba(20,20,20,0.5)" stroke-width="0.55" stroke-linejoin="round"/><polygon points="386.18,161.89 392.96,159.26 392.96,147.20 386.18,149.82" fill="#1f6ef2" stroke="rgba(20,20,20,0.5)" stroke-width="0.55" stroke-linejoin="round"/>
<polygon points="380.64,146.21 386.18,149.82 392.96,147.20 387.42,143.58" fill="#1f6ef2" stroke="rgba(20,20,20,0.5)" stroke-width="0.55" stroke-linejoin="round"/>
<polygon points="399.76,170.74 405.30,174.35 405.30,157.90 399.76,154.28" fill="#1f6ef2" stroke="rgba(20,20,20,0.5)" stroke-width="0.55" stroke-linejoin="round"/><polygon points="405.30,174.35 412.08,171.72 412.08,155.27 405.30,157.90" fill="#1f6ef2" stroke="rgba(20,20,20,0.5)" stroke-width="0.55" stroke-linejoin="round"/>
<polygon points="399.76,154.28 405.30,157.90 412.08,155.27 406.54,151.65" fill="#1f6ef2" stroke="rgba(20,20,20,0.5)" stroke-width="0.55" stroke-linejoin="round"/>
<polygon points="409.32,183.55 414.86,187.16 414.86,180.58 409.32,176.97" fill="#1f6ef2" stroke="rgba(20,20,20,0.5)" stroke-width="0.55" stroke-linejoin="round"/><polygon points="414.86,187.16 421.64,184.53 421.64,177.95 414.86,180.58" fill="#1f6ef2" stroke="rgba(20,20,20,0.5)" stroke-width="0.55" stroke-linejoin="round"/>
<polygon points="409.32,176.97 414.86,180.58 421.64,177.95 416.10,174.34" fill="#1f6ef2" stroke="rgba(20,20,20,0.5)" stroke-width="0.55" stroke-linejoin="round"/>
<polygon points="418.88,183.20 424.42,186.81 424.42,172.55 418.88,168.94" fill="#1f6ef2" stroke="rgba(20,20,20,0.5)" stroke-width="0.55" stroke-linejoin="round"/><polygon points="424.42,186.81 431.20,184.18 431.20,169.92 424.42,172.55" fill="#1f6ef2" stroke="rgba(20,20,20,0.5)" stroke-width="0.55" stroke-linejoin="round"/>
<polygon points="418.88,168.94 424.42,172.55 431.20,169.92 425.66,166.31" fill="#1f6ef2" stroke="rgba(20,20,20,0.5)" stroke-width="0.55" stroke-linejoin="round"/>
<polygon points="330.71,137.89 336.25,141.50 336.25,91.48 330.71,87.86" fill="#4a42ec" stroke="rgba(20,20,20,0.5)" stroke-width="0.55" stroke-linejoin="round"/><polygon points="336.25,141.50 343.03,138.87 343.03,88.85 336.25,91.48" fill="#4a42ec" stroke="rgba(20,20,20,0.5)" stroke-width="0.55" stroke-linejoin="round"/>
<polygon points="330.71,87.86 336.25,91.48 343.03,88.85 337.49,85.24" fill="#4a42ec" stroke="rgba(20,20,20,0.5)" stroke-width="0.55" stroke-linejoin="round"/>
<polygon points="336.87,84.46 337.90,86.94 340.58,87.15 338.54,88.90 339.16,91.51 336.87,90.11 334.58,91.51 335.20,88.90 333.16,87.15 335.84,86.94" fill="none" stroke="#ff1414" stroke-width="2.1" stroke-linejoin="round"/>
<polygon points="330.71,137.89 336.25,141.50 336.25,91.48 330.71,87.86" fill="#4a42ec" stroke="rgba(20,20,20,0.5)" stroke-width="0.55" stroke-linejoin="round"/><polygon points="336.25,141.50 343.03,138.87 343.03,88.85 336.25,91.48" fill="#4a42ec" stroke="rgba(20,20,20,0.5)" stroke-width="0.55" stroke-linejoin="round"/>
<polygon points="368.95,162.81 374.49,166.42 374.49,142.29 368.95,138.67" fill="#4a42ec" stroke="rgba(20,20,20,0.5)" stroke-width="0.55" stroke-linejoin="round"/><polygon points="374.49,166.42 381.27,163.79 381.27,139.66 374.49,142.29" fill="#4a42ec" stroke="rgba(20,20,20,0.5)" stroke-width="0.55" stroke-linejoin="round"/>
<polygon points="368.95,138.67 374.49,142.29 381.27,139.66 375.73,136.05" fill="#4a42ec" stroke="rgba(20,20,20,0.5)" stroke-width="0.55" stroke-linejoin="round"/>
<polygon points="378.51,169.04 384.05,172.65 384.05,166.07 378.51,162.46" fill="#4a42ec" stroke="rgba(20,20,20,0.5)" stroke-width="0.55" stroke-linejoin="round"/><polygon points="384.05,172.65 390.83,170.02 390.83,163.44 384.05,166.07" fill="#4a42ec" stroke="rgba(20,20,20,0.5)" stroke-width="0.55" stroke-linejoin="round"/>
<polygon points="378.51,162.46 384.05,166.07 390.83,163.44 385.29,159.83" fill="#4a42ec" stroke="rgba(20,20,20,0.5)" stroke-width="0.55" stroke-linejoin="round"/>
<polygon points="397.63,181.50 403.17,185.11 403.17,177.21 397.63,173.60" fill="#4a42ec" stroke="rgba(20,20,20,0.5)" stroke-width="0.55" stroke-linejoin="round"/><polygon points="403.17,185.11 409.95,182.48 409.95,174.58 403.17,177.21" fill="#4a42ec" stroke="rgba(20,20,20,0.5)" stroke-width="0.55" stroke-linejoin="round"/>
<polygon points="397.63,173.60 403.17,177.21 409.95,174.58 404.41,170.97" fill="#4a42ec" stroke="rgba(20,20,20,0.5)" stroke-width="0.55" stroke-linejoin="round"/>
<polygon points="407.19,187.73 412.73,191.34 412.73,189.69 407.19,186.08" fill="#4a42ec" stroke="rgba(20,20,20,0.5)" stroke-width="0.55" stroke-linejoin="round"/><polygon points="412.73,191.34 419.51,188.71 419.51,187.07 412.73,189.69" fill="#4a42ec" stroke="rgba(20,20,20,0.5)" stroke-width="0.55" stroke-linejoin="round"/>
<polygon points="407.19,186.08 412.73,189.69 419.51,187.07 413.97,183.45" fill="#4a42ec" stroke="rgba(20,20,20,0.5)" stroke-width="0.55" stroke-linejoin="round"/>
<polygon points="309.46,136.19 315.00,139.80 315.00,76.17 309.46,72.56" fill="#3c22ae" stroke="rgba(20,20,20,0.5)" stroke-width="0.55" stroke-linejoin="round"/><polygon points="315.00,139.80 321.78,137.17 321.78,73.55 315.00,76.17" fill="#3c22ae" stroke="rgba(20,20,20,0.5)" stroke-width="0.55" stroke-linejoin="round"/>
<polygon points="309.46,72.56 315.00,76.17 321.78,73.55 316.24,69.93" fill="#3c22ae" stroke="rgba(20,20,20,0.5)" stroke-width="0.55" stroke-linejoin="round"/>
<polygon points="315.62,69.15 316.65,71.63 319.33,71.85 317.29,73.60 317.91,76.21 315.62,74.81 313.33,76.21 313.95,73.60 311.91,71.85 314.59,71.63" fill="none" stroke="#ff1414" stroke-width="2.1" stroke-linejoin="round"/>
<polygon points="309.46,136.19 315.00,139.80 315.00,76.17 309.46,72.56" fill="#3c22ae" stroke="rgba(20,20,20,0.5)" stroke-width="0.55" stroke-linejoin="round"/><polygon points="315.00,139.80 321.78,137.17 321.78,73.55 315.00,76.17" fill="#3c22ae" stroke="rgba(20,20,20,0.5)" stroke-width="0.55" stroke-linejoin="round"/>
<polygon points="319.02,142.42 324.56,146.03 324.56,114.77 319.02,111.15" fill="#3c22ae" stroke="rgba(20,20,20,0.5)" stroke-width="0.55" stroke-linejoin="round"/><polygon points="324.56,146.03 331.34,143.40 331.34,112.14 324.56,114.77" fill="#3c22ae" stroke="rgba(20,20,20,0.5)" stroke-width="0.55" stroke-linejoin="round"/>
<polygon points="319.02,111.15 324.56,114.77 331.34,112.14 325.80,108.53" fill="#3c22ae" stroke="rgba(20,20,20,0.5)" stroke-width="0.55" stroke-linejoin="round"/>
<polygon points="328.58,148.65 334.12,152.26 334.12,136.35 328.58,132.74" fill="#3c22ae" stroke="rgba(20,20,20,0.5)" stroke-width="0.55" stroke-linejoin="round"/><polygon points="334.12,152.26 340.90,149.63 340.90,133.73 334.12,136.35" fill="#3c22ae" stroke="rgba(20,20,20,0.5)" stroke-width="0.55" stroke-linejoin="round"/>
<polygon points="328.58,132.74 334.12,136.35 340.90,133.73 335.36,130.11" fill="#3c22ae" stroke="rgba(20,20,20,0.5)" stroke-width="0.55" stroke-linejoin="round"/>
<polygon points="338.14,154.88 343.68,158.49 343.68,125.58 338.14,121.97" fill="#3c22ae" stroke="rgba(20,20,20,0.5)" stroke-width="0.55" stroke-linejoin="round"/><polygon points="343.68,158.49 350.46,155.86 350.46,122.95 343.68,125.58" fill="#3c22ae" stroke="rgba(20,20,20,0.5)" stroke-width="0.55" stroke-linejoin="round"/>
<polygon points="338.14,121.97 343.68,125.58 350.46,122.95 344.92,119.34" fill="#3c22ae" stroke="rgba(20,20,20,0.5)" stroke-width="0.55" stroke-linejoin="round"/>
<polygon points="347.70,166.04 353.24,169.66 353.24,164.72 347.70,161.11" fill="#3c22ae" stroke="rgba(20,20,20,0.5)" stroke-width="0.55" stroke-linejoin="round"/><polygon points="353.24,169.66 360.02,167.03 360.02,162.09 353.24,164.72" fill="#3c22ae" stroke="rgba(20,20,20,0.5)" stroke-width="0.55" stroke-linejoin="round"/>
<polygon points="347.70,161.11 353.24,164.72 360.02,162.09 354.48,158.48" fill="#3c22ae" stroke="rgba(20,20,20,0.5)" stroke-width="0.55" stroke-linejoin="round"/>
<polygon points="357.26,167.34 362.80,170.95 362.80,130.36 357.26,126.75" fill="#3c22ae" stroke="rgba(20,20,20,0.5)" stroke-width="0.55" stroke-linejoin="round"/><polygon points="362.80,170.95 369.58,168.32 369.58,127.73 362.80,130.36" fill="#3c22ae" stroke="rgba(20,20,20,0.5)" stroke-width="0.55" stroke-linejoin="round"/>
<polygon points="357.26,126.75 362.80,130.36 369.58,127.73 364.04,124.12" fill="#3c22ae" stroke="rgba(20,20,20,0.5)" stroke-width="0.55" stroke-linejoin="round"/>
<polygon points="366.82,173.57 372.36,177.18 372.36,160.73 366.82,157.11" fill="#3c22ae" stroke="rgba(20,20,20,0.5)" stroke-width="0.55" stroke-linejoin="round"/><polygon points="372.36,177.18 379.14,174.55 379.14,158.10 372.36,160.73" fill="#3c22ae" stroke="rgba(20,20,20,0.5)" stroke-width="0.55" stroke-linejoin="round"/>
<polygon points="366.82,157.11 372.36,160.73 379.14,158.10 373.60,154.48" fill="#3c22ae" stroke="rgba(20,20,20,0.5)" stroke-width="0.55" stroke-linejoin="round"/>
<polygon points="376.38,179.80 381.92,183.41 381.92,181.76 376.38,178.15" fill="#3c22ae" stroke="rgba(20,20,20,0.5)" stroke-width="0.55" stroke-linejoin="round"/><polygon points="381.92,183.41 388.70,180.78 388.70,179.14 381.92,181.76" fill="#3c22ae" stroke="rgba(20,20,20,0.5)" stroke-width="0.55" stroke-linejoin="round"/>
<polygon points="376.38,178.15 381.92,181.76 388.70,179.14 383.16,175.52" fill="#3c22ae" stroke="rgba(20,20,20,0.5)" stroke-width="0.55" stroke-linejoin="round"/>
<polygon points="385.94,186.03 391.48,189.64 391.48,174.28 385.94,170.67" fill="#3c22ae" stroke="rgba(20,20,20,0.5)" stroke-width="0.55" stroke-linejoin="round"/><polygon points="391.48,189.64 398.26,187.01 398.26,171.65 391.48,174.28" fill="#3c22ae" stroke="rgba(20,20,20,0.5)" stroke-width="0.55" stroke-linejoin="round"/>
<polygon points="385.94,170.67 391.48,174.28 398.26,171.65 392.72,168.04" fill="#3c22ae" stroke="rgba(20,20,20,0.5)" stroke-width="0.55" stroke-linejoin="round"/>
<polygon points="395.50,192.26 401.04,195.87 401.04,181.39 395.50,177.78" fill="#3c22ae" stroke="rgba(20,20,20,0.5)" stroke-width="0.55" stroke-linejoin="round"/><polygon points="401.04,195.87 407.82,193.24 407.82,178.76 401.04,181.39" fill="#3c22ae" stroke="rgba(20,20,20,0.5)" stroke-width="0.55" stroke-linejoin="round"/>
<polygon points="395.50,177.78 401.04,181.39 407.82,178.76 402.28,175.15" fill="#3c22ae" stroke="rgba(20,20,20,0.5)" stroke-width="0.55" stroke-linejoin="round"/></g>
<g fill="#1e1e1e" stroke="#1e1e1e" stroke-width="0.25"><text x="296.80" y="64.90" text-anchor="end" font-size="11.3" dominant-baseline="central">6</text>
<text x="296.80" y="87.10" text-anchor="end" font-size="11.3" dominant-baseline="central">4</text>
<text x="296.80" y="110.30" text-anchor="end" font-size="11.3" dominant-baseline="central">2</text>
<text x="296.80" y="130.70" text-anchor="end" font-size="11.3" dominant-baseline="central">0</text>
<text x="302.20" y="160.00" text-anchor="middle" font-size="11.3" dominant-baseline="central">0</text>
<text x="311.78" y="166.17" text-anchor="middle" font-size="11.3" dominant-baseline="central">1</text>
<text x="321.36" y="172.33" text-anchor="middle" font-size="11.3" dominant-baseline="central">2</text>
<text x="330.93" y="178.50" text-anchor="middle" font-size="11.3" dominant-baseline="central">3</text>
<text x="340.51" y="184.67" text-anchor="middle" font-size="11.3" dominant-baseline="central">4</text>
<text x="350.09" y="190.83" text-anchor="middle" font-size="11.3" dominant-baseline="central">5</text>
<text x="359.67" y="197.00" text-anchor="middle" font-size="11.3" dominant-baseline="central">6</text>
<text x="369.24" y="203.17" text-anchor="middle" font-size="11.3" dominant-baseline="central">7</text>
<text x="378.82" y="209.33" text-anchor="middle" font-size="11.3" dominant-baseline="central">8</text>
<text x="388.40" y="215.50" text-anchor="middle" font-size="11.3" dominant-baseline="central">9</text>
<text x="414.50" y="217.50" text-anchor="middle" font-size="11.3" dominant-baseline="central">1</text>
<text x="426.02" y="213.11" text-anchor="middle" font-size="11.3" dominant-baseline="central">2</text>
<text x="437.55" y="208.72" text-anchor="middle" font-size="11.3" dominant-baseline="central">3</text>
<text x="449.07" y="204.34" text-anchor="middle" font-size="11.3" dominant-baseline="central">4</text>
<text x="460.60" y="199.95" text-anchor="middle" font-size="11.3" dominant-baseline="central">5</text>
<text x="472.12" y="195.56" text-anchor="middle" font-size="11.3" dominant-baseline="central">6</text>
<text x="483.65" y="191.18" text-anchor="middle" font-size="11.3" dominant-baseline="central">7</text>
<text x="495.17" y="186.79" text-anchor="middle" font-size="11.3" dominant-baseline="central">8</text>
<text x="506.70" y="182.40" text-anchor="middle" font-size="11.3" dominant-baseline="central">9</text>
<text x="521.60" y="176.80" text-anchor="middle" font-size="11.3" dominant-baseline="central">10</text>
<text transform="translate(286.70,100.40) rotate(-90)" text-anchor="middle" font-size="12.7">Reflected light signals</text>
<text transform="translate(288.50,171.50) rotate(33.10)" font-size="12.7">Projected label order</text>
<text transform="translate(418.40,231.80) rotate(-21.20)" font-size="12.5">A total of ten simulations</text>
<text x="298.60" y="193.50" text-anchor="middle" font-size="13.0" font-weight="bold" dominant-baseline="central" xml:space="preserve">( b )</text></g>
<clipPath id="cpc"><rect x="0" y="226" width="275" height="215"/></clipPath>
<g clip-path="url(#cpc)"><line x1="36.35" y1="333.61" x2="36.35" y2="249.21" stroke="#e9e9e9" stroke-width="0.60"/>
<line x1="36.35" y1="333.61" x2="135.61" y2="398.29" stroke="#e9e9e9" stroke-width="0.60"/>
<line x1="48.07" y1="329.07" x2="48.07" y2="244.68" stroke="#e9e9e9" stroke-width="0.60"/>
<line x1="48.07" y1="329.07" x2="147.33" y2="393.75" stroke="#e9e9e9" stroke-width="0.60"/>
<line x1="59.79" y1="324.53" x2="59.79" y2="240.13" stroke="#e9e9e9" stroke-width="0.60"/>
<line x1="59.79" y1="324.53" x2="159.05" y2="389.21" stroke="#e9e9e9" stroke-width="0.60"/>
<line x1="71.51" y1="319.99" x2="71.51" y2="235.59" stroke="#e9e9e9" stroke-width="0.60"/>
<line x1="71.51" y1="319.99" x2="170.77" y2="384.67" stroke="#e9e9e9" stroke-width="0.60"/>
<line x1="83.23" y1="315.45" x2="83.23" y2="231.06" stroke="#e9e9e9" stroke-width="0.60"/>
<line x1="83.23" y1="315.45" x2="182.49" y2="380.13" stroke="#e9e9e9" stroke-width="0.60"/>
<line x1="94.95" y1="310.91" x2="94.95" y2="226.51" stroke="#e9e9e9" stroke-width="0.60"/>
<line x1="94.95" y1="310.91" x2="194.21" y2="375.59" stroke="#e9e9e9" stroke-width="0.60"/>
<line x1="106.67" y1="306.37" x2="106.67" y2="221.97" stroke="#e9e9e9" stroke-width="0.60"/>
<line x1="106.67" y1="306.37" x2="205.93" y2="371.05" stroke="#e9e9e9" stroke-width="0.60"/>
<line x1="118.39" y1="301.83" x2="118.39" y2="217.44" stroke="#e9e9e9" stroke-width="0.60"/>
<line x1="118.39" y1="301.83" x2="217.65" y2="366.51" stroke="#e9e9e9" stroke-width="0.60"/>
<line x1="130.11" y1="297.29" x2="130.11" y2="212.89" stroke="#e9e9e9" stroke-width="0.60"/>
<line x1="130.11" y1="297.29" x2="229.37" y2="361.97" stroke="#e9e9e9" stroke-width="0.60"/>
<line x1="141.83" y1="292.75" x2="141.83" y2="208.36" stroke="#e9e9e9" stroke-width="0.60"/>
<line x1="141.83" y1="292.75" x2="241.09" y2="357.43" stroke="#e9e9e9" stroke-width="0.60"/>
<line x1="154.58" y1="298.37" x2="154.58" y2="213.98" stroke="#e9e9e9" stroke-width="0.60"/>
<line x1="43.12" y1="341.55" x2="154.58" y2="298.37" stroke="#e9e9e9" stroke-width="0.60"/>
<line x1="164.17" y1="304.62" x2="164.17" y2="220.23" stroke="#e9e9e9" stroke-width="0.60"/>
<line x1="52.71" y1="347.80" x2="164.17" y2="304.62" stroke="#e9e9e9" stroke-width="0.60"/>
<line x1="173.76" y1="310.87" x2="173.76" y2="226.48" stroke="#e9e9e9" stroke-width="0.60"/>
<line x1="62.30" y1="354.05" x2="173.76" y2="310.87" stroke="#e9e9e9" stroke-width="0.60"/>
<line x1="183.35" y1="317.12" x2="183.35" y2="232.73" stroke="#e9e9e9" stroke-width="0.60"/>
<line x1="71.89" y1="360.30" x2="183.35" y2="317.12" stroke="#e9e9e9" stroke-width="0.60"/>
<line x1="192.94" y1="323.37" x2="192.94" y2="238.98" stroke="#e9e9e9" stroke-width="0.60"/>
<line x1="81.48" y1="366.55" x2="192.94" y2="323.37" stroke="#e9e9e9" stroke-width="0.60"/>
<line x1="202.53" y1="329.62" x2="202.53" y2="245.23" stroke="#e9e9e9" stroke-width="0.60"/>
<line x1="91.07" y1="372.80" x2="202.53" y2="329.62" stroke="#e9e9e9" stroke-width="0.60"/>
<line x1="212.12" y1="335.87" x2="212.12" y2="251.48" stroke="#e9e9e9" stroke-width="0.60"/>
<line x1="100.66" y1="379.05" x2="212.12" y2="335.87" stroke="#e9e9e9" stroke-width="0.60"/>
<line x1="221.71" y1="342.12" x2="221.71" y2="257.73" stroke="#e9e9e9" stroke-width="0.60"/>
<line x1="110.25" y1="385.30" x2="221.71" y2="342.12" stroke="#e9e9e9" stroke-width="0.60"/>
<line x1="231.30" y1="348.37" x2="231.30" y2="263.98" stroke="#e9e9e9" stroke-width="0.60"/>
<line x1="119.84" y1="391.55" x2="231.30" y2="348.37" stroke="#e9e9e9" stroke-width="0.60"/>
<line x1="240.89" y1="354.62" x2="240.89" y2="270.23" stroke="#e9e9e9" stroke-width="0.60"/>
<line x1="129.43" y1="397.80" x2="240.89" y2="354.62" stroke="#e9e9e9" stroke-width="0.60"/>
<polyline points="32.96,324.45 144.41,281.28 243.67,345.96" fill="none" stroke="#e9e9e9" stroke-width="0.60"/>
<polyline points="32.96,299.81 144.41,256.64 243.67,321.32" fill="none" stroke="#e9e9e9" stroke-width="0.60"/>
<polyline points="32.96,275.17 144.41,232.00 243.67,296.68" fill="none" stroke="#e9e9e9" stroke-width="0.60"/>
<polyline points="32.96,250.53 144.41,207.36 243.67,272.04" fill="none" stroke="#e9e9e9" stroke-width="0.60"/>
<line x1="32.96" y1="334.92" x2="32.96" y2="250.53" stroke="#9a9a9a" stroke-width="0.80"/>
<polyline points="32.96,334.92 132.21,399.61 243.67,356.44" fill="none" stroke="#777" stroke-width="0.80"/>
<polygon points="145.82,288.40 151.38,292.03 151.38,288.33 145.82,284.71" fill="#f8f616" stroke="rgba(20,20,20,0.5)" stroke-width="0.55" stroke-linejoin="round"/><polygon points="151.38,292.03 158.18,289.40 158.18,285.70 151.38,288.33" fill="#f8f616" stroke="rgba(20,20,20,0.5)" stroke-width="0.55" stroke-linejoin="round"/>
<polygon points="145.82,284.71 151.38,288.33 158.18,285.70 152.62,282.07" fill="#f8f616" stroke="rgba(20,20,20,0.5)" stroke-width="0.55" stroke-linejoin="round"/>
<polygon points="155.41,294.65 160.97,298.28 160.97,294.58 155.41,290.96" fill="#f8f616" stroke="rgba(20,20,20,0.5)" stroke-width="0.55" stroke-linejoin="round"/><polygon points="160.97,298.28 167.77,295.65 167.77,291.95 160.97,294.58" fill="#f8f616" stroke="rgba(20,20,20,0.5)" stroke-width="0.55" stroke-linejoin="round"/>
<polygon points="155.41,290.96 160.97,294.58 167.77,291.95 162.21,288.32" fill="#f8f616" stroke="rgba(20,20,20,0.5)" stroke-width="0.55" stroke-linejoin="round"/>
<polygon points="184.18,313.40 189.74,317.03 189.74,305.94 184.18,302.32" fill="#f8f616" stroke="rgba(20,20,20,0.5)" stroke-width="0.55" stroke-linejoin="round"/><polygon points="189.74,317.03 196.54,314.40 196.54,303.31 189.74,305.94" fill="#f8f616" stroke="rgba(20,20,20,0.5)" stroke-width="0.55" stroke-linejoin="round"/>
<polygon points="184.18,302.32 189.74,305.94 196.54,303.31 190.98,299.68" fill="#f8f616" stroke="rgba(20,20,20,0.5)" stroke-width="0.55" stroke-linejoin="round"/>
<polygon points="203.36,325.90 208.92,329.53 208.92,313.51 203.36,309.89" fill="#f8f616" stroke="rgba(20,20,20,0.5)" stroke-width="0.55" stroke-linejoin="round"/><polygon points="208.92,329.53 215.72,326.90 215.72,310.88 208.92,313.51" fill="#f8f616" stroke="rgba(20,20,20,0.5)" stroke-width="0.55" stroke-linejoin="round"/>
<polygon points="203.36,309.89 208.92,313.51 215.72,310.88 210.16,307.25" fill="#f8f616" stroke="rgba(20,20,20,0.5)" stroke-width="0.55" stroke-linejoin="round"/>
<polygon points="222.54,338.40 228.10,342.03 228.10,340.80 222.54,337.17" fill="#f8f616" stroke="rgba(20,20,20,0.5)" stroke-width="0.55" stroke-linejoin="round"/><polygon points="228.10,342.03 234.90,339.40 234.90,338.16 228.10,340.80" fill="#f8f616" stroke="rgba(20,20,20,0.5)" stroke-width="0.55" stroke-linejoin="round"/>
<polygon points="222.54,337.17 228.10,340.80 234.90,338.16 229.34,334.54" fill="#f8f616" stroke="rgba(20,20,20,0.5)" stroke-width="0.55" stroke-linejoin="round"/>
<polygon points="232.13,344.65 237.69,348.28 237.69,303.56 232.13,299.93" fill="#f8f616" stroke="rgba(20,20,20,0.5)" stroke-width="0.55" stroke-linejoin="round"/><polygon points="237.69,348.28 244.49,345.65 244.49,300.92 237.69,303.56" fill="#f8f616" stroke="rgba(20,20,20,0.5)" stroke-width="0.55" stroke-linejoin="round"/>
<polygon points="232.13,299.93 237.69,303.56 244.49,300.92 238.93,297.30" fill="#f8f616" stroke="rgba(20,20,20,0.5)" stroke-width="0.55" stroke-linejoin="round"/>
<polygon points="238.31,296.53 239.34,299.01 242.02,299.22 239.98,300.97 240.60,303.58 238.31,302.18 236.02,303.58 236.64,300.97 234.60,299.22 237.28,299.01" fill="none" stroke="#ff1414" stroke-width="2.1" stroke-linejoin="round"/>
<polygon points="232.13,344.65 237.69,348.28 237.69,303.56 232.13,299.93" fill="#f8f616" stroke="rgba(20,20,20,0.5)" stroke-width="0.55" stroke-linejoin="round"/><polygon points="237.69,348.28 244.49,345.65 244.49,300.92 237.69,303.56" fill="#f8f616" stroke="rgba(20,20,20,0.5)" stroke-width="0.55" stroke-linejoin="round"/>
<polygon points="143.69,299.19 149.25,302.82 149.25,290.50 143.69,286.87" fill="#fcc81a" stroke="rgba(20,20,20,0.5)" stroke-width="0.55" stroke-linejoin="round"/><polygon points="149.25,302.82 156.05,300.19 156.05,287.87 149.25,290.50" fill="#fcc81a" stroke="rgba(20,20,20,0.5)" stroke-width="0.55" stroke-linejoin="round"/>
<polygon points="143.69,286.87 149.25,290.50 156.05,287.87 150.49,284.24" fill="#fcc81a" stroke="rgba(20,20,20,0.5)" stroke-width="0.55" stroke-linejoin="round"/>
<polygon points="182.05,324.19 187.61,327.82 187.61,306.01 182.05,302.39" fill="#fcc81a" stroke="rgba(20,20,20,0.5)" stroke-width="0.55" stroke-linejoin="round"/><polygon points="187.61,327.82 194.41,325.19 194.41,303.38 187.61,306.01" fill="#fcc81a" stroke="rgba(20,20,20,0.5)" stroke-width="0.55" stroke-linejoin="round"/>
<polygon points="182.05,302.39 187.61,306.01 194.41,303.38 188.85,299.75" fill="#fcc81a" stroke="rgba(20,20,20,0.5)" stroke-width="0.55" stroke-linejoin="round"/>
<polygon points="191.64,330.44 197.20,334.07 197.20,315.59 191.64,311.96" fill="#fcc81a" stroke="rgba(20,20,20,0.5)" stroke-width="0.55" stroke-linejoin="round"/><polygon points="197.20,334.07 204.00,331.44 204.00,312.96 197.20,315.59" fill="#fcc81a" stroke="rgba(20,20,20,0.5)" stroke-width="0.55" stroke-linejoin="round"/>
<polygon points="191.64,311.96 197.20,315.59 204.00,312.96 198.44,309.33" fill="#fcc81a" stroke="rgba(20,20,20,0.5)" stroke-width="0.55" stroke-linejoin="round"/>
<polygon points="210.82,342.94 216.38,346.57 216.38,305.67 210.82,302.04" fill="#fcc81a" stroke="rgba(20,20,20,0.5)" stroke-width="0.55" stroke-linejoin="round"/><polygon points="216.38,346.57 223.18,343.94 223.18,303.03 216.38,305.67" fill="#fcc81a" stroke="rgba(20,20,20,0.5)" stroke-width="0.55" stroke-linejoin="round"/>
<polygon points="210.82,302.04 216.38,305.67 223.18,303.03 217.62,299.41" fill="#fcc81a" stroke="rgba(20,20,20,0.5)" stroke-width="0.55" stroke-linejoin="round"/>
<polygon points="217.00,298.64 218.03,301.12 220.71,301.33 218.67,303.08 219.29,305.69 217.00,304.29 214.71,305.69 215.33,303.08 213.29,301.33 215.97,301.12" fill="none" stroke="#ff1414" stroke-width="2.1" stroke-linejoin="round"/>
<polygon points="210.82,342.94 216.38,346.57 216.38,305.67 210.82,302.04" fill="#fcc81a" stroke="rgba(20,20,20,0.5)" stroke-width="0.55" stroke-linejoin="round"/><polygon points="216.38,346.57 223.18,343.94 223.18,303.03 216.38,305.67" fill="#fcc81a" stroke="rgba(20,20,20,0.5)" stroke-width="0.55" stroke-linejoin="round"/>
<polygon points="220.41,349.19 225.97,352.82 225.97,348.51 220.41,344.88" fill="#fcc81a" stroke="rgba(20,20,20,0.5)" stroke-width="0.55" stroke-linejoin="round"/><polygon points="225.97,352.82 232.77,350.19 232.77,345.87 225.97,348.51" fill="#fcc81a" stroke="rgba(20,20,20,0.5)" stroke-width="0.55" stroke-linejoin="round"/>
<polygon points="220.41,344.88 225.97,348.51 232.77,345.87 227.21,342.25" fill="#fcc81a" stroke="rgba(20,20,20,0.5)" stroke-width="0.55" stroke-linejoin="round"/>
<polygon points="131.97,303.73 137.53,307.36 137.53,289.50 131.97,285.87" fill="#f4b818" stroke="rgba(20,20,20,0.5)" stroke-width="0.55" stroke-linejoin="round"/><polygon points="137.53,307.36 144.33,304.73 144.33,286.86 137.53,289.50" fill="#f4b818" stroke="rgba(20,20,20,0.5)" stroke-width="0.55" stroke-linejoin="round"/>
<polygon points="131.97,285.87 137.53,289.50 144.33,286.86 138.77,283.24" fill="#f4b818" stroke="rgba(20,20,20,0.5)" stroke-width="0.55" stroke-linejoin="round"/>
<polygon points="141.56,309.98 147.12,313.61 147.12,300.06 141.56,296.43" fill="#f4b818" stroke="rgba(20,20,20,0.5)" stroke-width="0.55" stroke-linejoin="round"/><polygon points="147.12,313.61 153.92,310.98 153.92,297.42 147.12,300.06" fill="#f4b818" stroke="rgba(20,20,20,0.5)" stroke-width="0.55" stroke-linejoin="round"/>
<polygon points="141.56,296.43 147.12,300.06 153.92,297.42 148.36,293.80" fill="#f4b818" stroke="rgba(20,20,20,0.5)" stroke-width="0.55" stroke-linejoin="round"/>
<polygon points="160.74,322.48 166.30,326.11 166.30,297.77 160.74,294.15" fill="#f4b818" stroke="rgba(20,20,20,0.5)" stroke-width="0.55" stroke-linejoin="round"/><polygon points="166.30,326.11 173.10,323.48 173.10,295.14 166.30,297.77" fill="#f4b818" stroke="rgba(20,20,20,0.5)" stroke-width="0.55" stroke-linejoin="round"/>
<polygon points="160.74,294.15 166.30,297.77 173.10,295.14 167.54,291.51" fill="#f4b818" stroke="rgba(20,20,20,0.5)" stroke-width="0.55" stroke-linejoin="round"/>
<polygon points="179.92,334.98 185.48,338.61 185.48,333.07 179.92,329.44" fill="#f4b818" stroke="rgba(20,20,20,0.5)" stroke-width="0.55" stroke-linejoin="round"/><polygon points="185.48,338.61 192.28,335.98 192.28,330.43 185.48,333.07" fill="#f4b818" stroke="rgba(20,20,20,0.5)" stroke-width="0.55" stroke-linejoin="round"/>
<polygon points="179.92,329.44 185.48,333.07 192.28,330.43 186.72,326.81" fill="#f4b818" stroke="rgba(20,20,20,0.5)" stroke-width="0.55" stroke-linejoin="round"/>
<polygon points="189.51,341.23 195.07,344.86 195.07,304.57 189.51,300.95" fill="#f4b818" stroke="rgba(20,20,20,0.5)" stroke-width="0.55" stroke-linejoin="round"/><polygon points="195.07,344.86 201.87,342.23 201.87,301.94 195.07,304.57" fill="#f4b818" stroke="rgba(20,20,20,0.5)" stroke-width="0.55" stroke-linejoin="round"/>
<polygon points="189.51,300.95 195.07,304.57 201.87,301.94 196.31,298.31" fill="#f4b818" stroke="rgba(20,20,20,0.5)" stroke-width="0.55" stroke-linejoin="round"/>
<polygon points="195.69,297.54 196.72,300.02 199.40,300.24 197.36,301.99 197.98,304.60 195.69,303.20 193.40,304.60 194.02,301.99 191.98,300.24 194.66,300.02" fill="none" stroke="#ff1414" stroke-width="2.1" stroke-linejoin="round"/>
<polygon points="189.51,341.23 195.07,344.86 195.07,304.57 189.51,300.95" fill="#f4b818" stroke="rgba(20,20,20,0.5)" stroke-width="0.55" stroke-linejoin="round"/><polygon points="195.07,344.86 201.87,342.23 201.87,301.94 195.07,304.57" fill="#f4b818" stroke="rgba(20,20,20,0.5)" stroke-width="0.55" stroke-linejoin="round"/>
<polygon points="208.69,353.73 214.25,357.36 214.25,349.47 208.69,345.85" fill="#f4b818" stroke="rgba(20,20,20,0.5)" stroke-width="0.55" stroke-linejoin="round"/><polygon points="214.25,357.36 221.05,354.73 221.05,346.84 214.25,349.47" fill="#f4b818" stroke="rgba(20,20,20,0.5)" stroke-width="0.55" stroke-linejoin="round"/>
<polygon points="208.69,345.85 214.25,349.47 221.05,346.84 215.49,343.22" fill="#f4b818" stroke="rgba(20,20,20,0.5)" stroke-width="0.55" stroke-linejoin="round"/>
<polygon points="110.66,302.02 116.22,305.65 116.22,275.47 110.66,271.84" fill="#44c262" stroke="rgba(20,20,20,0.5)" stroke-width="0.55" stroke-linejoin="round"/><polygon points="116.22,305.65 123.02,303.02 123.02,272.83 116.22,275.47" fill="#44c262" stroke="rgba(20,20,20,0.5)" stroke-width="0.55" stroke-linejoin="round"/>
<polygon points="110.66,271.84 116.22,275.47 123.02,272.83 117.46,269.21" fill="#44c262" stroke="rgba(20,20,20,0.5)" stroke-width="0.55" stroke-linejoin="round"/>
<polygon points="139.43,320.77 144.99,324.40 144.99,312.08 139.43,308.45" fill="#44c262" stroke="rgba(20,20,20,0.5)" stroke-width="0.55" stroke-linejoin="round"/><polygon points="144.99,324.40 151.79,321.77 151.79,309.45 144.99,312.08" fill="#44c262" stroke="rgba(20,20,20,0.5)" stroke-width="0.55" stroke-linejoin="round"/>
<polygon points="139.43,308.45 144.99,312.08 151.79,309.45 146.23,305.82" fill="#44c262" stroke="rgba(20,20,20,0.5)" stroke-width="0.55" stroke-linejoin="round"/>
<polygon points="168.20,339.52 173.76,343.15 173.76,288.57 168.20,284.95" fill="#44c262" stroke="rgba(20,20,20,0.5)" stroke-width="0.55" stroke-linejoin="round"/><polygon points="173.76,343.15 180.56,340.52 180.56,285.94 173.76,288.57" fill="#44c262" stroke="rgba(20,20,20,0.5)" stroke-width="0.55" stroke-linejoin="round"/>
<polygon points="168.20,284.95 173.76,288.57 180.56,285.94 175.00,282.31" fill="#44c262" stroke="rgba(20,20,20,0.5)" stroke-width="0.55" stroke-linejoin="round"/>
<polygon points="174.38,281.54 175.41,284.02 178.09,284.24 176.05,285.98 176.67,288.60 174.38,287.20 172.09,288.60 172.71,285.98 170.67,284.24 173.35,284.02" fill="none" stroke="#ff1414" stroke-width="2.1" stroke-linejoin="round"/>
<polygon points="168.20,339.52 173.76,343.15 173.76,288.57 168.20,284.95" fill="#44c262" stroke="rgba(20,20,20,0.5)" stroke-width="0.55" stroke-linejoin="round"/><polygon points="173.76,343.15 180.56,340.52 180.56,285.94 173.76,288.57" fill="#44c262" stroke="rgba(20,20,20,0.5)" stroke-width="0.55" stroke-linejoin="round"/>
<polygon points="177.79,353.17 183.35,356.79 183.35,349.40 177.79,345.77" fill="#44c262" stroke="rgba(20,20,20,0.5)" stroke-width="0.55" stroke-linejoin="round"/><polygon points="183.35,356.79 190.15,354.16 190.15,346.77 183.35,349.40" fill="#44c262" stroke="rgba(20,20,20,0.5)" stroke-width="0.55" stroke-linejoin="round"/>
<polygon points="177.79,345.77 183.35,349.40 190.15,346.77 184.59,343.14" fill="#44c262" stroke="rgba(20,20,20,0.5)" stroke-width="0.55" stroke-linejoin="round"/>
<polygon points="196.97,358.27 202.53,361.90 202.53,330.48 196.97,326.86" fill="#44c262" stroke="rgba(20,20,20,0.5)" stroke-width="0.55" stroke-linejoin="round"/><polygon points="202.53,361.90 209.33,359.27 209.33,327.85 202.53,330.48" fill="#44c262" stroke="rgba(20,20,20,0.5)" stroke-width="0.55" stroke-linejoin="round"/>
<polygon points="196.97,326.86 202.53,330.48 209.33,327.85 203.77,324.22" fill="#44c262" stroke="rgba(20,20,20,0.5)" stroke-width="0.55" stroke-linejoin="round"/>
<polygon points="98.94,306.56 104.50,310.19 104.50,297.87 98.94,294.24" fill="#18bea4" stroke="rgba(20,20,20,0.5)" stroke-width="0.55" stroke-linejoin="round"/><polygon points="104.50,310.19 111.30,307.56 111.30,295.24 104.50,297.87" fill="#18bea4" stroke="rgba(20,20,20,0.5)" stroke-width="0.55" stroke-linejoin="round"/>
<polygon points="98.94,294.24 104.50,297.87 111.30,295.24 105.74,291.61" fill="#18bea4" stroke="rgba(20,20,20,0.5)" stroke-width="0.55" stroke-linejoin="round"/>
<polygon points="146.89,337.81 152.45,341.44 152.45,296.35 146.89,292.72" fill="#18bea4" stroke="rgba(20,20,20,0.5)" stroke-width="0.55" stroke-linejoin="round"/><polygon points="152.45,341.44 159.25,338.81 159.25,293.71 152.45,296.35" fill="#18bea4" stroke="rgba(20,20,20,0.5)" stroke-width="0.55" stroke-linejoin="round"/>
<polygon points="146.89,292.72 152.45,296.35 159.25,293.71 153.69,290.09" fill="#18bea4" stroke="rgba(20,20,20,0.5)" stroke-width="0.55" stroke-linejoin="round"/>
<polygon points="153.07,289.32 154.10,291.80 156.78,292.01 154.74,293.76 155.36,296.37 153.07,294.97 150.78,296.37 151.40,293.76 149.36,292.01 152.04,291.80" fill="none" stroke="#ff1414" stroke-width="2.1" stroke-linejoin="round"/>
<polygon points="146.89,337.81 152.45,341.44 152.45,296.35 146.89,292.72" fill="#18bea4" stroke="rgba(20,20,20,0.5)" stroke-width="0.55" stroke-linejoin="round"/><polygon points="152.45,341.44 159.25,338.81 159.25,293.71 152.45,296.35" fill="#18bea4" stroke="rgba(20,20,20,0.5)" stroke-width="0.55" stroke-linejoin="round"/>
<polygon points="156.48,344.06 162.04,347.69 162.04,323.54 156.48,319.92" fill="#18bea4" stroke="rgba(20,20,20,0.5)" stroke-width="0.55" stroke-linejoin="round"/><polygon points="162.04,347.69 168.84,345.06 168.84,320.91 162.04,323.54" fill="#18bea4" stroke="rgba(20,20,20,0.5)" stroke-width="0.55" stroke-linejoin="round"/>
<polygon points="156.48,319.92 162.04,323.54 168.84,320.91 163.28,317.28" fill="#18bea4" stroke="rgba(20,20,20,0.5)" stroke-width="0.55" stroke-linejoin="round"/>
<polygon points="166.07,350.31 171.63,353.94 171.63,348.64 166.07,345.02" fill="#18bea4" stroke="rgba(20,20,20,0.5)" stroke-width="0.55" stroke-linejoin="round"/><polygon points="171.63,353.94 178.43,351.31 178.43,346.01 171.63,348.64" fill="#18bea4" stroke="rgba(20,20,20,0.5)" stroke-width="0.55" stroke-linejoin="round"/>
<polygon points="166.07,345.02 171.63,348.64 178.43,346.01 172.87,342.38" fill="#18bea4" stroke="rgba(20,20,20,0.5)" stroke-width="0.55" stroke-linejoin="round"/>
<polygon points="175.66,361.49 181.22,365.12 181.22,360.19 175.66,356.56" fill="#18bea4" stroke="rgba(20,20,20,0.5)" stroke-width="0.55" stroke-linejoin="round"/><polygon points="181.22,365.12 188.02,362.48 188.02,357.56 181.22,360.19" fill="#18bea4" stroke="rgba(20,20,20,0.5)" stroke-width="0.55" stroke-linejoin="round"/>
<polygon points="175.66,356.56 181.22,360.19 188.02,357.56 182.46,353.93" fill="#18bea4" stroke="rgba(20,20,20,0.5)" stroke-width="0.55" stroke-linejoin="round"/>
<polygon points="185.25,362.81 190.81,366.44 190.81,350.05 185.25,346.43" fill="#18bea4" stroke="rgba(20,20,20,0.5)" stroke-width="0.55" stroke-linejoin="round"/><polygon points="190.81,366.44 197.61,363.81 197.61,347.42 190.81,350.05" fill="#18bea4" stroke="rgba(20,20,20,0.5)" stroke-width="0.55" stroke-linejoin="round"/>
<polygon points="185.25,346.43 190.81,350.05 197.61,347.42 192.05,343.80" fill="#18bea4" stroke="rgba(20,20,20,0.5)" stroke-width="0.55" stroke-linejoin="round"/>
<polygon points="115.99,329.85 121.55,333.48 121.55,323.62 115.99,320.00" fill="#0aafd6" stroke="rgba(20,20,20,0.5)" stroke-width="0.55" stroke-linejoin="round"/><polygon points="121.55,333.48 128.35,330.85 128.35,320.99 121.55,323.62" fill="#0aafd6" stroke="rgba(20,20,20,0.5)" stroke-width="0.55" stroke-linejoin="round"/>
<polygon points="115.99,320.00 121.55,323.62 128.35,320.99 122.79,317.36" fill="#0aafd6" stroke="rgba(20,20,20,0.5)" stroke-width="0.55" stroke-linejoin="round"/>
<polygon points="125.58,336.10 131.14,339.73 131.14,291.68 125.58,288.06" fill="#0aafd6" stroke="rgba(20,20,20,0.5)" stroke-width="0.55" stroke-linejoin="round"/><polygon points="131.14,339.73 137.94,337.10 137.94,289.05 131.14,291.68" fill="#0aafd6" stroke="rgba(20,20,20,0.5)" stroke-width="0.55" stroke-linejoin="round"/>
<polygon points="125.58,288.06 131.14,291.68 137.94,289.05 132.38,285.42" fill="#0aafd6" stroke="rgba(20,20,20,0.5)" stroke-width="0.55" stroke-linejoin="round"/>
<polygon points="131.76,284.65 132.79,287.13 135.47,287.35 133.43,289.09 134.05,291.71 131.76,290.31 129.47,291.71 130.09,289.09 128.05,287.35 130.73,287.13" fill="none" stroke="#ff1414" stroke-width="2.1" stroke-linejoin="round"/>
<polygon points="125.58,336.10 131.14,339.73 131.14,291.68 125.58,288.06" fill="#0aafd6" stroke="rgba(20,20,20,0.5)" stroke-width="0.55" stroke-linejoin="round"/><polygon points="131.14,339.73 137.94,337.10 137.94,289.05 131.14,291.68" fill="#0aafd6" stroke="rgba(20,20,20,0.5)" stroke-width="0.55" stroke-linejoin="round"/>
<polygon points="144.76,348.60 150.32,352.23 150.32,346.07 144.76,342.44" fill="#0aafd6" stroke="rgba(20,20,20,0.5)" stroke-width="0.55" stroke-linejoin="round"/><polygon points="150.32,352.23 157.12,349.60 157.12,343.44 150.32,346.07" fill="#0aafd6" stroke="rgba(20,20,20,0.5)" stroke-width="0.55" stroke-linejoin="round"/>
<polygon points="144.76,342.44 150.32,346.07 157.12,343.44 151.56,339.81" fill="#0aafd6" stroke="rgba(20,20,20,0.5)" stroke-width="0.55" stroke-linejoin="round"/>
<polygon points="154.35,361.01 159.91,364.64 159.91,358.48 154.35,354.85" fill="#0aafd6" stroke="rgba(20,20,20,0.5)" stroke-width="0.55" stroke-linejoin="round"/><polygon points="159.91,364.64 166.71,362.01 166.71,355.85 159.91,358.48" fill="#0aafd6" stroke="rgba(20,20,20,0.5)" stroke-width="0.55" stroke-linejoin="round"/>
<polygon points="154.35,354.85 159.91,358.48 166.71,355.85 161.15,352.22" fill="#0aafd6" stroke="rgba(20,20,20,0.5)" stroke-width="0.55" stroke-linejoin="round"/>
<polygon points="163.94,361.10 169.50,364.73 169.50,352.78 163.94,349.15" fill="#0aafd6" stroke="rgba(20,20,20,0.5)" stroke-width="0.55" stroke-linejoin="round"/><polygon points="169.50,364.73 176.30,362.10 176.30,350.15 169.50,352.78" fill="#0aafd6" stroke="rgba(20,20,20,0.5)" stroke-width="0.55" stroke-linejoin="round"/>
<polygon points="163.94,349.15 169.50,352.78 176.30,350.15 170.74,346.52" fill="#0aafd6" stroke="rgba(20,20,20,0.5)" stroke-width="0.55" stroke-linejoin="round"/>
<polygon points="173.53,367.35 179.09,370.98 179.09,367.90 173.53,364.27" fill="#0aafd6" stroke="rgba(20,20,20,0.5)" stroke-width="0.55" stroke-linejoin="round"/><polygon points="179.09,370.98 185.89,368.35 185.89,365.27 179.09,367.90" fill="#0aafd6" stroke="rgba(20,20,20,0.5)" stroke-width="0.55" stroke-linejoin="round"/>
<polygon points="173.53,364.27 179.09,367.90 185.89,365.27 180.33,361.64" fill="#0aafd6" stroke="rgba(20,20,20,0.5)" stroke-width="0.55" stroke-linejoin="round"/>
<polygon points="75.50,315.64 81.06,319.27 81.06,281.69 75.50,278.07" fill="#1092e4" stroke="rgba(20,20,20,0.5)" stroke-width="0.55" stroke-linejoin="round"/><polygon points="81.06,319.27 87.86,316.64 87.86,279.06 81.06,281.69" fill="#1092e4" stroke="rgba(20,20,20,0.5)" stroke-width="0.55" stroke-linejoin="round"/>
<polygon points="75.50,278.07 81.06,281.69 87.86,279.06 82.30,275.43" fill="#1092e4" stroke="rgba(20,20,20,0.5)" stroke-width="0.55" stroke-linejoin="round"/>
<polygon points="94.68,328.14 100.24,331.77 100.24,316.99 94.68,313.36" fill="#1092e4" stroke="rgba(20,20,20,0.5)" stroke-width="0.55" stroke-linejoin="round"/><polygon points="100.24,331.77 107.04,329.14 107.04,314.35 100.24,316.99" fill="#1092e4" stroke="rgba(20,20,20,0.5)" stroke-width="0.55" stroke-linejoin="round"/>
<polygon points="94.68,313.36 100.24,316.99 107.04,314.35 101.48,310.73" fill="#1092e4" stroke="rgba(20,20,20,0.5)" stroke-width="0.55" stroke-linejoin="round"/>
<polygon points="104.27,334.39 109.83,338.02 109.83,292.68 104.27,289.06" fill="#1092e4" stroke="rgba(20,20,20,0.5)" stroke-width="0.55" stroke-linejoin="round"/><polygon points="109.83,338.02 116.63,335.39 116.63,290.05 109.83,292.68" fill="#1092e4" stroke="rgba(20,20,20,0.5)" stroke-width="0.55" stroke-linejoin="round"/>
<polygon points="104.27,289.06 109.83,292.68 116.63,290.05 111.07,286.42" fill="#1092e4" stroke="rgba(20,20,20,0.5)" stroke-width="0.55" stroke-linejoin="round"/>
<polygon points="110.45,285.65 111.48,288.13 114.16,288.35 112.12,290.09 112.74,292.71 110.45,291.31 108.16,292.71 108.78,290.09 106.74,288.35 109.42,288.13" fill="none" stroke="#ff1414" stroke-width="2.1" stroke-linejoin="round"/>
<polygon points="104.27,334.39 109.83,338.02 109.83,292.68 104.27,289.06" fill="#1092e4" stroke="rgba(20,20,20,0.5)" stroke-width="0.55" stroke-linejoin="round"/><polygon points="109.83,338.02 116.63,335.39 116.63,290.05 109.83,292.68" fill="#1092e4" stroke="rgba(20,20,20,0.5)" stroke-width="0.55" stroke-linejoin="round"/>
<polygon points="113.86,340.64 119.42,344.27 119.42,339.34 113.86,335.72" fill="#1092e4" stroke="rgba(20,20,20,0.5)" stroke-width="0.55" stroke-linejoin="round"/><polygon points="119.42,344.27 126.22,341.64 126.22,336.71 119.42,339.34" fill="#1092e4" stroke="rgba(20,20,20,0.5)" stroke-width="0.55" stroke-linejoin="round"/>
<polygon points="113.86,335.72 119.42,339.34 126.22,336.71 120.66,333.08" fill="#1092e4" stroke="rgba(20,20,20,0.5)" stroke-width="0.55" stroke-linejoin="round"/>
<polygon points="123.45,346.89 129.01,350.52 129.01,344.36 123.45,340.73" fill="#1092e4" stroke="rgba(20,20,20,0.5)" stroke-width="0.55" stroke-linejoin="round"/><polygon points="129.01,350.52 135.81,347.89 135.81,341.73 129.01,344.36" fill="#1092e4" stroke="rgba(20,20,20,0.5)" stroke-width="0.55" stroke-linejoin="round"/>
<polygon points="123.45,340.73 129.01,344.36 135.81,341.73 130.25,338.10" fill="#1092e4" stroke="rgba(20,20,20,0.5)" stroke-width="0.55" stroke-linejoin="round"/>
<polygon points="133.04,353.14 138.60,356.77 138.60,333.36 133.04,329.74" fill="#1092e4" stroke="rgba(20,20,20,0.5)" stroke-width="0.55" stroke-linejoin="round"/><polygon points="138.60,356.77 145.40,354.14 145.40,330.73 138.60,333.36" fill="#1092e4" stroke="rgba(20,20,20,0.5)" stroke-width="0.55" stroke-linejoin="round"/>
<polygon points="133.04,329.74 138.60,333.36 145.40,330.73 139.84,327.10" fill="#1092e4" stroke="rgba(20,20,20,0.5)" stroke-width="0.55" stroke-linejoin="round"/>
<polygon points="142.63,368.02 148.19,371.64 148.19,363.02 142.63,359.39" fill="#1092e4" stroke="rgba(20,20,20,0.5)" stroke-width="0.55" stroke-linejoin="round"/><polygon points="148.19,371.64 154.99,369.01 154.99,360.39 148.19,363.02" fill="#1092e4" stroke="rgba(20,20,20,0.5)" stroke-width="0.55" stroke-linejoin="round"/>
<polygon points="142.63,359.39 148.19,363.02 154.99,360.39 149.43,356.76" fill="#1092e4" stroke="rgba(20,20,20,0.5)" stroke-width="0.55" stroke-linejoin="round"/>
<polygon points="152.22,374.27 157.78,377.89 157.78,369.27 152.22,365.64" fill="#1092e4" stroke="rgba(20,20,20,0.5)" stroke-width="0.55" stroke-linejoin="round"/><polygon points="157.78,377.89 164.58,375.26 164.58,366.64 157.78,369.27" fill="#1092e4" stroke="rgba(20,20,20,0.5)" stroke-width="0.55" stroke-linejoin="round"/>
<polygon points="152.22,365.64 157.78,369.27 164.58,366.64 159.02,363.01" fill="#1092e4" stroke="rgba(20,20,20,0.5)" stroke-width="0.55" stroke-linejoin="round"/>
<polygon points="161.81,382.98 167.37,386.61 167.37,375.52 161.81,371.89" fill="#1092e4" stroke="rgba(20,20,20,0.5)" stroke-width="0.55" stroke-linejoin="round"/><polygon points="167.37,386.61 174.17,383.97 174.17,372.89 167.37,375.52" fill="#1092e4" stroke="rgba(20,20,20,0.5)" stroke-width="0.55" stroke-linejoin="round"/>
<polygon points="161.81,371.89 167.37,375.52 174.17,372.89 168.61,369.26" fill="#1092e4" stroke="rgba(20,20,20,0.5)" stroke-width="0.55" stroke-linejoin="round"/>
<polygon points="73.37,326.43 78.93,330.06 78.93,312.81 73.37,309.19" fill="#1f6ef2" stroke="rgba(20,20,20,0.5)" stroke-width="0.55" stroke-linejoin="round"/><polygon points="78.93,330.06 85.73,327.43 85.73,310.18 78.93,312.81" fill="#1f6ef2" stroke="rgba(20,20,20,0.5)" stroke-width="0.55" stroke-linejoin="round"/>
<polygon points="73.37,309.19 78.93,312.81 85.73,310.18 80.17,306.55" fill="#1f6ef2" stroke="rgba(20,20,20,0.5)" stroke-width="0.55" stroke-linejoin="round"/>
<polygon points="82.96,332.68 88.52,336.31 88.52,289.12 82.96,285.50" fill="#1f6ef2" stroke="rgba(20,20,20,0.5)" stroke-width="0.55" stroke-linejoin="round"/><polygon points="88.52,336.31 95.32,333.68 95.32,286.49 88.52,289.12" fill="#1f6ef2" stroke="rgba(20,20,20,0.5)" stroke-width="0.55" stroke-linejoin="round"/>
<polygon points="82.96,285.50 88.52,289.12 95.32,286.49 89.76,282.87" fill="#1f6ef2" stroke="rgba(20,20,20,0.5)" stroke-width="0.55" stroke-linejoin="round"/>
<polygon points="89.14,282.09 90.17,284.57 92.85,284.79 90.81,286.54 91.43,289.15 89.14,287.75 86.85,289.15 87.47,286.54 85.43,284.79 88.11,284.57" fill="none" stroke="#ff1414" stroke-width="2.1" stroke-linejoin="round"/>
<polygon points="82.96,332.68 88.52,336.31 88.52,289.12 82.96,285.50" fill="#1f6ef2" stroke="rgba(20,20,20,0.5)" stroke-width="0.55" stroke-linejoin="round"/><polygon points="88.52,336.31 95.32,333.68 95.32,286.49 88.52,289.12" fill="#1f6ef2" stroke="rgba(20,20,20,0.5)" stroke-width="0.55" stroke-linejoin="round"/>
<polygon points="102.14,345.18 107.70,348.81 107.70,343.88 102.14,340.26" fill="#1f6ef2" stroke="rgba(20,20,20,0.5)" stroke-width="0.55" stroke-linejoin="round"/><polygon points="107.70,348.81 114.50,346.18 114.50,341.25 107.70,343.88" fill="#1f6ef2" stroke="rgba(20,20,20,0.5)" stroke-width="0.55" stroke-linejoin="round"/>
<polygon points="102.14,340.26 107.70,343.88 114.50,341.25 108.94,337.62" fill="#1f6ef2" stroke="rgba(20,20,20,0.5)" stroke-width="0.55" stroke-linejoin="round"/>
<polygon points="111.73,351.43 117.29,355.06 117.29,348.90 111.73,345.27" fill="#1f6ef2" stroke="rgba(20,20,20,0.5)" stroke-width="0.55" stroke-linejoin="round"/><polygon points="117.29,355.06 124.09,352.43 124.09,346.27 117.29,348.90" fill="#1f6ef2" stroke="rgba(20,20,20,0.5)" stroke-width="0.55" stroke-linejoin="round"/>
<polygon points="111.73,345.27 117.29,348.90 124.09,346.27 118.53,342.64" fill="#1f6ef2" stroke="rgba(20,20,20,0.5)" stroke-width="0.55" stroke-linejoin="round"/>
<polygon points="130.91,363.93 136.47,367.56 136.47,336.76 130.91,333.13" fill="#1f6ef2" stroke="rgba(20,20,20,0.5)" stroke-width="0.55" stroke-linejoin="round"/><polygon points="136.47,367.56 143.27,364.93 143.27,334.13 136.47,336.76" fill="#1f6ef2" stroke="rgba(20,20,20,0.5)" stroke-width="0.55" stroke-linejoin="round"/>
<polygon points="130.91,333.13 136.47,336.76 143.27,334.13 137.71,330.50" fill="#1f6ef2" stroke="rgba(20,20,20,0.5)" stroke-width="0.55" stroke-linejoin="round"/>
<polygon points="140.50,375.11 146.06,378.74 146.06,373.81 140.50,370.18" fill="#1f6ef2" stroke="rgba(20,20,20,0.5)" stroke-width="0.55" stroke-linejoin="round"/><polygon points="146.06,378.74 152.86,376.10 152.86,371.18 146.06,373.81" fill="#1f6ef2" stroke="rgba(20,20,20,0.5)" stroke-width="0.55" stroke-linejoin="round"/>
<polygon points="140.50,370.18 146.06,373.81 152.86,371.18 147.30,367.55" fill="#1f6ef2" stroke="rgba(20,20,20,0.5)" stroke-width="0.55" stroke-linejoin="round"/>
<polygon points="150.09,376.43 155.65,380.06 155.65,367.25 150.09,363.62" fill="#1f6ef2" stroke="rgba(20,20,20,0.5)" stroke-width="0.55" stroke-linejoin="round"/><polygon points="155.65,380.06 162.45,377.43 162.45,364.61 155.65,367.25" fill="#1f6ef2" stroke="rgba(20,20,20,0.5)" stroke-width="0.55" stroke-linejoin="round"/>
<polygon points="150.09,363.62 155.65,367.25 162.45,364.61 156.89,360.99" fill="#1f6ef2" stroke="rgba(20,20,20,0.5)" stroke-width="0.55" stroke-linejoin="round"/>
<polygon points="52.06,324.72 57.62,328.35 57.62,304.94 52.06,301.32" fill="#4a42ec" stroke="rgba(20,20,20,0.5)" stroke-width="0.55" stroke-linejoin="round"/><polygon points="57.62,328.35 64.42,325.72 64.42,302.31 57.62,304.94" fill="#4a42ec" stroke="rgba(20,20,20,0.5)" stroke-width="0.55" stroke-linejoin="round"/>
<polygon points="52.06,301.32 57.62,304.94 64.42,302.31 58.86,298.68" fill="#4a42ec" stroke="rgba(20,20,20,0.5)" stroke-width="0.55" stroke-linejoin="round"/>
<polygon points="61.65,330.97 67.21,334.60 67.21,292.71 61.65,289.09" fill="#4a42ec" stroke="rgba(20,20,20,0.5)" stroke-width="0.55" stroke-linejoin="round"/><polygon points="67.21,334.60 74.01,331.97 74.01,290.08 67.21,292.71" fill="#4a42ec" stroke="rgba(20,20,20,0.5)" stroke-width="0.55" stroke-linejoin="round"/>
<polygon points="61.65,289.09 67.21,292.71 74.01,290.08 68.45,286.45" fill="#4a42ec" stroke="rgba(20,20,20,0.5)" stroke-width="0.55" stroke-linejoin="round"/>
<polygon points="67.83,285.68 68.86,288.16 71.54,288.38 69.50,290.12 70.12,292.74 67.83,291.34 65.54,292.74 66.16,290.12 64.12,288.38 66.80,288.16" fill="none" stroke="#ff1414" stroke-width="2.1" stroke-linejoin="round"/>
<polygon points="61.65,330.97 67.21,334.60 67.21,292.71 61.65,289.09" fill="#4a42ec" stroke="rgba(20,20,20,0.5)" stroke-width="0.55" stroke-linejoin="round"/><polygon points="67.21,334.60 74.01,331.97 74.01,290.08 67.21,292.71" fill="#4a42ec" stroke="rgba(20,20,20,0.5)" stroke-width="0.55" stroke-linejoin="round"/>
<polygon points="109.60,362.22 115.16,365.85 115.16,352.91 109.60,349.29" fill="#4a42ec" stroke="rgba(20,20,20,0.5)" stroke-width="0.55" stroke-linejoin="round"/><polygon points="115.16,365.85 121.96,363.22 121.96,350.28 115.16,352.91" fill="#4a42ec" stroke="rgba(20,20,20,0.5)" stroke-width="0.55" stroke-linejoin="round"/>
<polygon points="109.60,349.29 115.16,352.91 121.96,350.28 116.40,346.65" fill="#4a42ec" stroke="rgba(20,20,20,0.5)" stroke-width="0.55" stroke-linejoin="round"/>
<polygon points="119.19,368.47 124.75,372.10 124.75,356.08 119.19,352.46" fill="#4a42ec" stroke="rgba(20,20,20,0.5)" stroke-width="0.55" stroke-linejoin="round"/><polygon points="124.75,372.10 131.55,369.47 131.55,353.45 124.75,356.08" fill="#4a42ec" stroke="rgba(20,20,20,0.5)" stroke-width="0.55" stroke-linejoin="round"/>
<polygon points="119.19,352.46 124.75,356.08 131.55,353.45 125.99,349.82" fill="#4a42ec" stroke="rgba(20,20,20,0.5)" stroke-width="0.55" stroke-linejoin="round"/>
<polygon points="138.37,380.97 143.93,384.60 143.93,374.50 138.37,370.87" fill="#4a42ec" stroke="rgba(20,20,20,0.5)" stroke-width="0.55" stroke-linejoin="round"/><polygon points="143.93,384.60 150.73,381.97 150.73,371.86 143.93,374.50" fill="#4a42ec" stroke="rgba(20,20,20,0.5)" stroke-width="0.55" stroke-linejoin="round"/>
<polygon points="138.37,370.87 143.93,374.50 150.73,371.86 145.17,368.24" fill="#4a42ec" stroke="rgba(20,20,20,0.5)" stroke-width="0.55" stroke-linejoin="round"/>
<polygon points="40.34,329.26 45.90,332.89 45.90,269.44 40.34,265.82" fill="#3c22ae" stroke="rgba(20,20,20,0.5)" stroke-width="0.55" stroke-linejoin="round"/><polygon points="45.90,332.89 52.70,330.26 52.70,266.81 45.90,269.44" fill="#3c22ae" stroke="rgba(20,20,20,0.5)" stroke-width="0.55" stroke-linejoin="round"/>
<polygon points="40.34,265.82 45.90,269.44 52.70,266.81 47.14,263.18" fill="#3c22ae" stroke="rgba(20,20,20,0.5)" stroke-width="0.55" stroke-linejoin="round"/>
<polygon points="46.52,262.41 47.55,264.89 50.23,265.11 48.19,266.85 48.81,269.47 46.52,268.07 44.23,269.47 44.85,266.85 42.81,265.11 45.49,264.89" fill="none" stroke="#ff1414" stroke-width="2.1" stroke-linejoin="round"/>
<polygon points="40.34,329.26 45.90,332.89 45.90,269.44 40.34,265.82" fill="#3c22ae" stroke="rgba(20,20,20,0.5)" stroke-width="0.55" stroke-linejoin="round"/><polygon points="45.90,332.89 52.70,330.26 52.70,266.81 45.90,269.44" fill="#3c22ae" stroke="rgba(20,20,20,0.5)" stroke-width="0.55" stroke-linejoin="round"/>
<polygon points="49.93,339.21 55.49,342.84 55.49,339.14 49.93,335.51" fill="#3c22ae" stroke="rgba(20,20,20,0.5)" stroke-width="0.55" stroke-linejoin="round"/><polygon points="55.49,342.84 62.29,340.20 62.29,336.51 55.49,339.14" fill="#3c22ae" stroke="rgba(20,20,20,0.5)" stroke-width="0.55" stroke-linejoin="round"/>
<polygon points="49.93,335.51 55.49,339.14 62.29,336.51 56.73,332.88" fill="#3c22ae" stroke="rgba(20,20,20,0.5)" stroke-width="0.55" stroke-linejoin="round"/>
<polygon points="59.52,352.24 65.08,355.86 65.08,345.39 59.52,341.76" fill="#3c22ae" stroke="rgba(20,20,20,0.5)" stroke-width="0.55" stroke-linejoin="round"/><polygon points="65.08,355.86 71.88,353.23 71.88,342.76 65.08,345.39" fill="#3c22ae" stroke="rgba(20,20,20,0.5)" stroke-width="0.55" stroke-linejoin="round"/>
<polygon points="59.52,341.76 65.08,345.39 71.88,342.76 66.32,339.13" fill="#3c22ae" stroke="rgba(20,20,20,0.5)" stroke-width="0.55" stroke-linejoin="round"/>
<polygon points="69.11,348.01 74.67,351.64 74.67,331.93 69.11,328.30" fill="#3c22ae" stroke="rgba(20,20,20,0.5)" stroke-width="0.55" stroke-linejoin="round"/><polygon points="74.67,351.64 81.47,349.01 81.47,329.29 74.67,331.93" fill="#3c22ae" stroke="rgba(20,20,20,0.5)" stroke-width="0.55" stroke-linejoin="round"/>
<polygon points="69.11,328.30 74.67,331.93 81.47,329.29 75.91,325.67" fill="#3c22ae" stroke="rgba(20,20,20,0.5)" stroke-width="0.55" stroke-linejoin="round"/>
<polygon points="78.70,354.26 84.26,357.89 84.26,348.77 78.70,345.15" fill="#3c22ae" stroke="rgba(20,20,20,0.5)" stroke-width="0.55" stroke-linejoin="round"/><polygon points="84.26,357.89 91.06,355.26 91.06,346.14 84.26,348.77" fill="#3c22ae" stroke="rgba(20,20,20,0.5)" stroke-width="0.55" stroke-linejoin="round"/>
<polygon points="78.70,345.15 84.26,348.77 91.06,346.14 85.50,342.51" fill="#3c22ae" stroke="rgba(20,20,20,0.5)" stroke-width="0.55" stroke-linejoin="round"/>
<polygon points="88.29,360.51 93.85,364.14 93.85,323.85 88.29,320.23" fill="#3c22ae" stroke="rgba(20,20,20,0.5)" stroke-width="0.55" stroke-linejoin="round"/><polygon points="93.85,364.14 100.65,361.51 100.65,321.22 93.85,323.85" fill="#3c22ae" stroke="rgba(20,20,20,0.5)" stroke-width="0.55" stroke-linejoin="round"/>
<polygon points="88.29,320.23 93.85,323.85 100.65,321.22 95.09,317.59" fill="#3c22ae" stroke="rgba(20,20,20,0.5)" stroke-width="0.55" stroke-linejoin="round"/>
<polygon points="97.88,366.76 103.44,370.39 103.44,340.82 97.88,337.20" fill="#3c22ae" stroke="rgba(20,20,20,0.5)" stroke-width="0.55" stroke-linejoin="round"/><polygon points="103.44,370.39 110.24,367.76 110.24,338.19 103.44,340.82" fill="#3c22ae" stroke="rgba(20,20,20,0.5)" stroke-width="0.55" stroke-linejoin="round"/>
<polygon points="97.88,337.20 103.44,340.82 110.24,338.19 104.68,334.56" fill="#3c22ae" stroke="rgba(20,20,20,0.5)" stroke-width="0.55" stroke-linejoin="round"/>
<polygon points="107.47,379.79 113.03,383.42 113.03,376.64 107.47,373.01" fill="#3c22ae" stroke="rgba(20,20,20,0.5)" stroke-width="0.55" stroke-linejoin="round"/><polygon points="113.03,383.42 119.83,380.78 119.83,374.01 113.03,376.64" fill="#3c22ae" stroke="rgba(20,20,20,0.5)" stroke-width="0.55" stroke-linejoin="round"/>
<polygon points="107.47,373.01 113.03,376.64 119.83,374.01 114.27,370.38" fill="#3c22ae" stroke="rgba(20,20,20,0.5)" stroke-width="0.55" stroke-linejoin="round"/>
<polygon points="117.06,379.26 122.62,382.89 122.62,373.65 117.06,370.02" fill="#3c22ae" stroke="rgba(20,20,20,0.5)" stroke-width="0.55" stroke-linejoin="round"/><polygon points="122.62,382.89 129.42,380.26 129.42,371.02 122.62,373.65" fill="#3c22ae" stroke="rgba(20,20,20,0.5)" stroke-width="0.55" stroke-linejoin="round"/>
<polygon points="117.06,370.02 122.62,373.65 129.42,371.02 123.86,367.39" fill="#3c22ae" stroke="rgba(20,20,20,0.5)" stroke-width="0.55" stroke-linejoin="round"/>
<polygon points="126.65,385.51 132.21,389.14 132.21,357.85 126.65,354.22" fill="#3c22ae" stroke="rgba(20,20,20,0.5)" stroke-width="0.55" stroke-linejoin="round"/><polygon points="132.21,389.14 139.01,386.51 139.01,355.21 132.21,357.85" fill="#3c22ae" stroke="rgba(20,20,20,0.5)" stroke-width="0.55" stroke-linejoin="round"/>
<polygon points="126.65,354.22 132.21,357.85 139.01,355.21 133.45,351.59" fill="#3c22ae" stroke="rgba(20,20,20,0.5)" stroke-width="0.55" stroke-linejoin="round"/></g>
<g fill="#1e1e1e" stroke="#1e1e1e" stroke-width="0.25"><text x="27.40" y="248.70" text-anchor="end" font-size="11.3" dominant-baseline="central">6</text>
<text x="27.40" y="274.10" text-anchor="end" font-size="11.3" dominant-baseline="central">4</text>
<text x="27.40" y="298.50" text-anchor="end" font-size="11.3" dominant-baseline="central">2</text>
<text x="27.40" y="322.60" text-anchor="end" font-size="11.3" dominant-baseline="central">0</text>
<text x="33.10" y="354.20" text-anchor="middle" font-size="11.3" dominant-baseline="central">0</text>
<text x="42.57" y="360.42" text-anchor="middle" font-size="11.3" dominant-baseline="central">1</text>
<text x="52.03" y="366.64" text-anchor="middle" font-size="11.3" dominant-baseline="central">2</text>
<text x="61.50" y="372.87" text-anchor="middle" font-size="11.3" dominant-baseline="central">3</text>
<text x="70.97" y="379.09" text-anchor="middle" font-size="11.3" dominant-baseline="central">4</text>
<text x="80.43" y="385.31" text-anchor="middle" font-size="11.3" dominant-baseline="central">5</text>
<text x="89.90" y="391.53" text-anchor="middle" font-size="11.3" dominant-baseline="central">6</text>
<text x="99.37" y="397.76" text-anchor="middle" font-size="11.3" dominant-baseline="central">7</text>
<text x="108.83" y="403.98" text-anchor="middle" font-size="11.3" dominant-baseline="central">8</text>
<text x="118.30" y="410.20" text-anchor="middle" font-size="11.3" dominant-baseline="central">9</text>
<text x="145.00" y="412.30" text-anchor="middle" font-size="11.3" dominant-baseline="central">1</text>
<text x="156.69" y="407.70" text-anchor="middle" font-size="11.3" dominant-baseline="central">2</text>
<text x="168.38" y="403.10" text-anchor="middle" font-size="11.3" dominant-baseline="central">3</text>
<text x="180.06" y="398.50" text-anchor="middle" font-size="11.3" dominant-baseline="central">4</text>
<text x="191.75" y="393.90" text-anchor="middle" font-size="11.3" dominant-baseline="central">5</text>
<text x="203.44" y="389.30" text-anchor="middle" font-size="11.3" dominant-baseline="central">6</text>
<text x="215.12" y="384.70" text-anchor="middle" font-size="11.3" dominant-baseline="central">7</text>
<text x="226.81" y="380.10" text-anchor="middle" font-size="11.3" dominant-baseline="central">8</text>
<text x="238.50" y="375.50" text-anchor="middle" font-size="11.3" dominant-baseline="central">9</text>
<text x="252.70" y="371.40" text-anchor="middle" font-size="11.3" dominant-baseline="central">10</text>
<text transform="translate(16.40,294.20) rotate(-90)" text-anchor="middle" font-size="12.7">Reflected light signals</text>
<text transform="translate(17.50,362.50) rotate(34.50)" font-size="12.4">Projected label order</text>
<text transform="translate(149.00,427.30) rotate(-21.20)" font-size="12.5">A total of ten simulations</text>
<text x="30.50" y="389.80" text-anchor="middle" font-size="13.0" font-weight="bold" dominant-baseline="central" xml:space="preserve">( c )</text></g>
<clipPath id="cpd"><rect x="275" y="232" width="275" height="209"/></clipPath>
<g clip-path="url(#cpd)"><line x1="306.82" y1="337.65" x2="306.82" y2="250.48" stroke="#e9e9e9" stroke-width="0.60"/>
<line x1="306.82" y1="337.65" x2="410.39" y2="405.17" stroke="#e9e9e9" stroke-width="0.60"/>
<line x1="318.98" y1="332.94" x2="318.98" y2="245.77" stroke="#e9e9e9" stroke-width="0.60"/>
<line x1="318.98" y1="332.94" x2="422.55" y2="400.46" stroke="#e9e9e9" stroke-width="0.60"/>
<line x1="331.14" y1="328.23" x2="331.14" y2="241.06" stroke="#e9e9e9" stroke-width="0.60"/>
<line x1="331.14" y1="328.23" x2="434.71" y2="395.75" stroke="#e9e9e9" stroke-width="0.60"/>
<line x1="343.30" y1="323.52" x2="343.30" y2="236.35" stroke="#e9e9e9" stroke-width="0.60"/>
<line x1="343.30" y1="323.52" x2="446.87" y2="391.04" stroke="#e9e9e9" stroke-width="0.60"/>
<line x1="355.46" y1="318.81" x2="355.46" y2="231.64" stroke="#e9e9e9" stroke-width="0.60"/>
<line x1="355.46" y1="318.81" x2="459.03" y2="386.33" stroke="#e9e9e9" stroke-width="0.60"/>
<line x1="367.62" y1="314.10" x2="367.62" y2="226.93" stroke="#e9e9e9" stroke-width="0.60"/>
<line x1="367.62" y1="314.10" x2="471.19" y2="381.62" stroke="#e9e9e9" stroke-width="0.60"/>
<line x1="379.78" y1="309.39" x2="379.78" y2="222.22" stroke="#e9e9e9" stroke-width="0.60"/>
<line x1="379.78" y1="309.39" x2="483.35" y2="376.91" stroke="#e9e9e9" stroke-width="0.60"/>
<line x1="391.94" y1="304.68" x2="391.94" y2="217.51" stroke="#e9e9e9" stroke-width="0.60"/>
<line x1="391.94" y1="304.68" x2="495.51" y2="372.20" stroke="#e9e9e9" stroke-width="0.60"/>
<line x1="404.10" y1="299.97" x2="404.10" y2="212.80" stroke="#e9e9e9" stroke-width="0.60"/>
<line x1="404.10" y1="299.97" x2="507.67" y2="367.49" stroke="#e9e9e9" stroke-width="0.60"/>
<line x1="416.26" y1="295.26" x2="416.26" y2="208.09" stroke="#e9e9e9" stroke-width="0.60"/>
<line x1="416.26" y1="295.26" x2="519.83" y2="362.78" stroke="#e9e9e9" stroke-width="0.60"/>
<line x1="430.17" y1="301.55" x2="430.17" y2="214.37" stroke="#e9e9e9" stroke-width="0.60"/>
<line x1="314.52" y1="346.34" x2="430.17" y2="301.55" stroke="#e9e9e9" stroke-width="0.60"/>
<line x1="440.11" y1="308.03" x2="440.11" y2="220.85" stroke="#e9e9e9" stroke-width="0.60"/>
<line x1="324.46" y1="352.82" x2="440.11" y2="308.03" stroke="#e9e9e9" stroke-width="0.60"/>
<line x1="450.05" y1="314.51" x2="450.05" y2="227.33" stroke="#e9e9e9" stroke-width="0.60"/>
<line x1="334.40" y1="359.30" x2="450.05" y2="314.51" stroke="#e9e9e9" stroke-width="0.60"/>
<line x1="459.99" y1="320.99" x2="459.99" y2="233.81" stroke="#e9e9e9" stroke-width="0.60"/>
<line x1="344.34" y1="365.78" x2="459.99" y2="320.99" stroke="#e9e9e9" stroke-width="0.60"/>
<line x1="469.93" y1="327.47" x2="469.93" y2="240.29" stroke="#e9e9e9" stroke-width="0.60"/>
<line x1="354.28" y1="372.26" x2="469.93" y2="327.47" stroke="#e9e9e9" stroke-width="0.60"/>
<line x1="479.87" y1="333.95" x2="479.87" y2="246.77" stroke="#e9e9e9" stroke-width="0.60"/>
<line x1="364.22" y1="378.74" x2="479.87" y2="333.95" stroke="#e9e9e9" stroke-width="0.60"/>
<line x1="489.81" y1="340.43" x2="489.81" y2="253.25" stroke="#e9e9e9" stroke-width="0.60"/>
<line x1="374.16" y1="385.22" x2="489.81" y2="340.43" stroke="#e9e9e9" stroke-width="0.60"/>
<line x1="499.75" y1="346.91" x2="499.75" y2="259.73" stroke="#e9e9e9" stroke-width="0.60"/>
<line x1="384.10" y1="391.70" x2="499.75" y2="346.91" stroke="#e9e9e9" stroke-width="0.60"/>
<line x1="509.69" y1="353.39" x2="509.69" y2="266.21" stroke="#e9e9e9" stroke-width="0.60"/>
<line x1="394.04" y1="398.18" x2="509.69" y2="353.39" stroke="#e9e9e9" stroke-width="0.60"/>
<line x1="519.63" y1="359.87" x2="519.63" y2="272.69" stroke="#e9e9e9" stroke-width="0.60"/>
<line x1="403.98" y1="404.66" x2="519.63" y2="359.87" stroke="#e9e9e9" stroke-width="0.60"/>
<polyline points="303.29,326.99 418.93,282.20 522.51,349.72" fill="none" stroke="#e9e9e9" stroke-width="0.60"/>
<polyline points="303.29,296.93 418.93,252.14 522.51,319.66" fill="none" stroke="#e9e9e9" stroke-width="0.60"/>
<polyline points="303.29,266.87 418.93,222.08 522.51,289.60" fill="none" stroke="#e9e9e9" stroke-width="0.60"/>
<line x1="303.29" y1="339.02" x2="303.29" y2="251.84" stroke="#9a9a9a" stroke-width="0.80"/>
<polyline points="303.29,339.02 406.87,406.54 522.51,361.75" fill="none" stroke="#777" stroke-width="0.80"/>
<polygon points="421.08,290.05 426.85,293.81 426.85,270.51 421.08,266.75" fill="#f8f616" stroke="rgba(20,20,20,0.5)" stroke-width="0.55" stroke-linejoin="round"/><polygon points="426.85,293.81 433.90,291.07 433.90,267.78 426.85,270.51" fill="#f8f616" stroke="rgba(20,20,20,0.5)" stroke-width="0.55" stroke-linejoin="round"/>
<polygon points="421.08,266.75 426.85,270.51 433.90,267.78 428.13,264.02" fill="#f8f616" stroke="rgba(20,20,20,0.5)" stroke-width="0.55" stroke-linejoin="round"/>
<polygon points="431.02,305.54 436.79,309.30 436.79,300.29 431.02,296.53" fill="#f8f616" stroke="rgba(20,20,20,0.5)" stroke-width="0.55" stroke-linejoin="round"/><polygon points="436.79,309.30 443.84,306.57 443.84,297.55 436.79,300.29" fill="#f8f616" stroke="rgba(20,20,20,0.5)" stroke-width="0.55" stroke-linejoin="round"/>
<polygon points="431.02,296.53 436.79,300.29 443.84,297.55 438.07,293.79" fill="#f8f616" stroke="rgba(20,20,20,0.5)" stroke-width="0.55" stroke-linejoin="round"/>
<polygon points="470.78,322.45 476.55,326.21 476.55,289.68 470.78,285.92" fill="#f8f616" stroke="rgba(20,20,20,0.5)" stroke-width="0.55" stroke-linejoin="round"/><polygon points="476.55,326.21 483.60,323.47 483.60,286.95 476.55,289.68" fill="#f8f616" stroke="rgba(20,20,20,0.5)" stroke-width="0.55" stroke-linejoin="round"/>
<polygon points="470.78,285.92 476.55,289.68 483.60,286.95 477.83,283.19" fill="#f8f616" stroke="rgba(20,20,20,0.5)" stroke-width="0.55" stroke-linejoin="round"/>
<polygon points="480.72,328.93 486.49,332.69 486.49,309.99 480.72,306.23" fill="#f8f616" stroke="rgba(20,20,20,0.5)" stroke-width="0.55" stroke-linejoin="round"/><polygon points="486.49,332.69 493.54,329.95 493.54,307.26 486.49,309.99" fill="#f8f616" stroke="rgba(20,20,20,0.5)" stroke-width="0.55" stroke-linejoin="round"/>
<polygon points="480.72,306.23 486.49,309.99 493.54,307.26 487.77,303.50" fill="#f8f616" stroke="rgba(20,20,20,0.5)" stroke-width="0.55" stroke-linejoin="round"/>
<polygon points="500.60,341.89 506.37,345.65 506.37,341.14 500.60,337.38" fill="#f8f616" stroke="rgba(20,20,20,0.5)" stroke-width="0.55" stroke-linejoin="round"/><polygon points="506.37,345.65 513.42,342.91 513.42,338.40 506.37,341.14" fill="#f8f616" stroke="rgba(20,20,20,0.5)" stroke-width="0.55" stroke-linejoin="round"/>
<polygon points="500.60,337.38 506.37,341.14 513.42,338.40 507.65,334.65" fill="#f8f616" stroke="rgba(20,20,20,0.5)" stroke-width="0.55" stroke-linejoin="round"/>
<polygon points="510.54,348.37 516.31,352.13 516.31,312.75 510.54,308.99" fill="#f8f616" stroke="rgba(20,20,20,0.5)" stroke-width="0.55" stroke-linejoin="round"/><polygon points="516.31,352.13 523.36,349.39 523.36,310.01 516.31,312.75" fill="#f8f616" stroke="rgba(20,20,20,0.5)" stroke-width="0.55" stroke-linejoin="round"/>
<polygon points="510.54,308.99 516.31,312.75 523.36,310.01 517.59,306.26" fill="#f8f616" stroke="rgba(20,20,20,0.5)" stroke-width="0.55" stroke-linejoin="round"/>
<polygon points="516.95,305.60 517.98,308.08 520.66,308.30 518.62,310.04 519.24,312.66 516.95,311.26 514.66,312.66 515.28,310.04 513.24,308.30 515.92,308.08" fill="none" stroke="#ff1414" stroke-width="2.1" stroke-linejoin="round"/>
<polygon points="510.54,348.37 516.31,352.13 516.31,312.75 510.54,308.99" fill="#f8f616" stroke="rgba(20,20,20,0.5)" stroke-width="0.55" stroke-linejoin="round"/><polygon points="516.31,352.13 523.36,349.39 523.36,310.01 516.31,312.75" fill="#f8f616" stroke="rgba(20,20,20,0.5)" stroke-width="0.55" stroke-linejoin="round"/>
<polygon points="418.86,301.24 424.63,305.00 424.63,282.45 418.86,278.69" fill="#fcc81a" stroke="rgba(20,20,20,0.5)" stroke-width="0.55" stroke-linejoin="round"/><polygon points="424.63,305.00 431.68,302.26 431.68,279.72 424.63,282.45" fill="#fcc81a" stroke="rgba(20,20,20,0.5)" stroke-width="0.55" stroke-linejoin="round"/>
<polygon points="418.86,278.69 424.63,282.45 431.68,279.72 425.91,275.96" fill="#fcc81a" stroke="rgba(20,20,20,0.5)" stroke-width="0.55" stroke-linejoin="round"/>
<polygon points="458.62,327.16 464.39,330.92 464.39,288.53 458.62,284.77" fill="#fcc81a" stroke="rgba(20,20,20,0.5)" stroke-width="0.55" stroke-linejoin="round"/><polygon points="464.39,330.92 471.44,328.18 471.44,285.80 464.39,288.53" fill="#fcc81a" stroke="rgba(20,20,20,0.5)" stroke-width="0.55" stroke-linejoin="round"/>
<polygon points="458.62,284.77 464.39,288.53 471.44,285.80 465.67,282.04" fill="#fcc81a" stroke="rgba(20,20,20,0.5)" stroke-width="0.55" stroke-linejoin="round"/>
<polygon points="465.03,281.39 466.06,283.87 468.74,284.08 466.70,285.83 467.32,288.44 465.03,287.04 462.74,288.44 463.36,285.83 461.32,284.08 464.00,283.87" fill="none" stroke="#ff1414" stroke-width="2.1" stroke-linejoin="round"/>
<polygon points="458.62,327.16 464.39,330.92 464.39,288.53 458.62,284.77" fill="#fcc81a" stroke="rgba(20,20,20,0.5)" stroke-width="0.55" stroke-linejoin="round"/><polygon points="464.39,330.92 471.44,328.18 471.44,285.80 464.39,288.53" fill="#fcc81a" stroke="rgba(20,20,20,0.5)" stroke-width="0.55" stroke-linejoin="round"/>
<polygon points="478.50,340.12 484.27,343.88 484.27,330.50 478.50,326.74" fill="#fcc81a" stroke="rgba(20,20,20,0.5)" stroke-width="0.55" stroke-linejoin="round"/><polygon points="484.27,343.88 491.32,341.14 491.32,327.77 484.27,330.50" fill="#fcc81a" stroke="rgba(20,20,20,0.5)" stroke-width="0.55" stroke-linejoin="round"/>
<polygon points="478.50,326.74 484.27,330.50 491.32,327.77 485.55,324.01" fill="#fcc81a" stroke="rgba(20,20,20,0.5)" stroke-width="0.55" stroke-linejoin="round"/>
<polygon points="488.44,346.60 494.21,350.36 494.21,315.79 488.44,312.03" fill="#fcc81a" stroke="rgba(20,20,20,0.5)" stroke-width="0.55" stroke-linejoin="round"/><polygon points="494.21,350.36 501.26,347.62 501.26,313.05 494.21,315.79" fill="#fcc81a" stroke="rgba(20,20,20,0.5)" stroke-width="0.55" stroke-linejoin="round"/>
<polygon points="488.44,312.03 494.21,315.79 501.26,313.05 495.49,309.30" fill="#fcc81a" stroke="rgba(20,20,20,0.5)" stroke-width="0.55" stroke-linejoin="round"/>
<polygon points="498.38,353.08 504.15,356.84 504.15,351.57 498.38,347.82" fill="#fcc81a" stroke="rgba(20,20,20,0.5)" stroke-width="0.55" stroke-linejoin="round"/><polygon points="504.15,356.84 511.20,354.10 511.20,348.84 504.15,351.57" fill="#fcc81a" stroke="rgba(20,20,20,0.5)" stroke-width="0.55" stroke-linejoin="round"/>
<polygon points="498.38,347.82 504.15,351.57 511.20,348.84 505.43,345.08" fill="#fcc81a" stroke="rgba(20,20,20,0.5)" stroke-width="0.55" stroke-linejoin="round"/>
<polygon points="406.70,305.95 412.47,309.71 412.47,282.65 406.70,278.89" fill="#f4b818" stroke="rgba(20,20,20,0.5)" stroke-width="0.55" stroke-linejoin="round"/><polygon points="412.47,309.71 419.52,306.97 419.52,279.92 412.47,282.65" fill="#f4b818" stroke="rgba(20,20,20,0.5)" stroke-width="0.55" stroke-linejoin="round"/>
<polygon points="406.70,278.89 412.47,282.65 419.52,279.92 413.75,276.16" fill="#f4b818" stroke="rgba(20,20,20,0.5)" stroke-width="0.55" stroke-linejoin="round"/>
<polygon points="416.64,312.43 422.41,316.19 422.41,301.16 416.64,297.40" fill="#f4b818" stroke="rgba(20,20,20,0.5)" stroke-width="0.55" stroke-linejoin="round"/><polygon points="422.41,316.19 429.46,313.45 429.46,298.42 422.41,301.16" fill="#f4b818" stroke="rgba(20,20,20,0.5)" stroke-width="0.55" stroke-linejoin="round"/>
<polygon points="416.64,297.40 422.41,301.16 429.46,298.42 423.69,294.66" fill="#f4b818" stroke="rgba(20,20,20,0.5)" stroke-width="0.55" stroke-linejoin="round"/>
<polygon points="426.58,318.91 432.35,322.67 432.35,313.65 426.58,309.89" fill="#f4b818" stroke="rgba(20,20,20,0.5)" stroke-width="0.55" stroke-linejoin="round"/><polygon points="432.35,322.67 439.40,319.93 439.40,310.92 432.35,313.65" fill="#f4b818" stroke="rgba(20,20,20,0.5)" stroke-width="0.55" stroke-linejoin="round"/>
<polygon points="426.58,309.89 432.35,313.65 439.40,310.92 433.63,307.16" fill="#f4b818" stroke="rgba(20,20,20,0.5)" stroke-width="0.55" stroke-linejoin="round"/>
<polygon points="436.52,325.39 442.29,329.15 442.29,310.06 436.52,306.30" fill="#f4b818" stroke="rgba(20,20,20,0.5)" stroke-width="0.55" stroke-linejoin="round"/><polygon points="442.29,329.15 449.34,326.41 449.34,307.33 442.29,310.06" fill="#f4b818" stroke="rgba(20,20,20,0.5)" stroke-width="0.55" stroke-linejoin="round"/>
<polygon points="436.52,306.30 442.29,310.06 449.34,307.33 443.57,303.57" fill="#f4b818" stroke="rgba(20,20,20,0.5)" stroke-width="0.55" stroke-linejoin="round"/>
<polygon points="466.34,344.83 472.11,348.59 472.11,309.96 466.34,306.20" fill="#f4b818" stroke="rgba(20,20,20,0.5)" stroke-width="0.55" stroke-linejoin="round"/><polygon points="472.11,348.59 479.16,345.85 479.16,307.23 472.11,309.96" fill="#f4b818" stroke="rgba(20,20,20,0.5)" stroke-width="0.55" stroke-linejoin="round"/>
<polygon points="466.34,306.20 472.11,309.96 479.16,307.23 473.39,303.47" fill="#f4b818" stroke="rgba(20,20,20,0.5)" stroke-width="0.55" stroke-linejoin="round"/>
<polygon points="472.75,302.81 473.78,305.29 476.46,305.51 474.42,307.26 475.04,309.87 472.75,308.47 470.46,309.87 471.08,307.26 469.04,305.51 471.72,305.29" fill="none" stroke="#ff1414" stroke-width="2.1" stroke-linejoin="round"/>
<polygon points="466.34,344.83 472.11,348.59 472.11,309.96 466.34,306.20" fill="#f4b818" stroke="rgba(20,20,20,0.5)" stroke-width="0.55" stroke-linejoin="round"/><polygon points="472.11,348.59 479.16,345.85 479.16,307.23 472.11,309.96" fill="#f4b818" stroke="rgba(20,20,20,0.5)" stroke-width="0.55" stroke-linejoin="round"/>
<polygon points="486.22,365.30 491.99,369.06 491.99,361.55 486.22,357.79" fill="#f4b818" stroke="rgba(20,20,20,0.5)" stroke-width="0.55" stroke-linejoin="round"/><polygon points="491.99,369.06 499.04,366.33 499.04,358.81 491.99,361.55" fill="#f4b818" stroke="rgba(20,20,20,0.5)" stroke-width="0.55" stroke-linejoin="round"/>
<polygon points="486.22,357.79 491.99,361.55 499.04,358.81 493.27,355.05" fill="#f4b818" stroke="rgba(20,20,20,0.5)" stroke-width="0.55" stroke-linejoin="round"/>
<polygon points="384.60,304.18 390.37,307.94 390.37,294.41 384.60,290.65" fill="#44c262" stroke="rgba(20,20,20,0.5)" stroke-width="0.55" stroke-linejoin="round"/><polygon points="390.37,307.94 397.42,305.20 397.42,291.68 390.37,294.41" fill="#44c262" stroke="rgba(20,20,20,0.5)" stroke-width="0.55" stroke-linejoin="round"/>
<polygon points="384.60,290.65 390.37,294.41 397.42,291.68 391.65,287.92" fill="#44c262" stroke="rgba(20,20,20,0.5)" stroke-width="0.55" stroke-linejoin="round"/>
<polygon points="394.54,310.66 400.31,314.42 400.31,294.88 394.54,291.12" fill="#44c262" stroke="rgba(20,20,20,0.5)" stroke-width="0.55" stroke-linejoin="round"/><polygon points="400.31,314.42 407.36,311.68 407.36,292.14 400.31,294.88" fill="#44c262" stroke="rgba(20,20,20,0.5)" stroke-width="0.55" stroke-linejoin="round"/>
<polygon points="394.54,291.12 400.31,294.88 407.36,292.14 401.59,288.39" fill="#44c262" stroke="rgba(20,20,20,0.5)" stroke-width="0.55" stroke-linejoin="round"/>
<polygon points="414.42,323.62 420.19,327.38 420.19,316.10 414.42,312.34" fill="#44c262" stroke="rgba(20,20,20,0.5)" stroke-width="0.55" stroke-linejoin="round"/><polygon points="420.19,327.38 427.24,324.64 427.24,313.37 420.19,316.10" fill="#44c262" stroke="rgba(20,20,20,0.5)" stroke-width="0.55" stroke-linejoin="round"/>
<polygon points="414.42,312.34 420.19,316.10 427.24,313.37 421.47,309.61" fill="#44c262" stroke="rgba(20,20,20,0.5)" stroke-width="0.55" stroke-linejoin="round"/>
<polygon points="444.24,343.06 450.01,346.82 450.01,288.50 444.24,284.74" fill="#44c262" stroke="rgba(20,20,20,0.5)" stroke-width="0.55" stroke-linejoin="round"/><polygon points="450.01,346.82 457.06,344.08 457.06,285.77 450.01,288.50" fill="#44c262" stroke="rgba(20,20,20,0.5)" stroke-width="0.55" stroke-linejoin="round"/>
<polygon points="444.24,284.74 450.01,288.50 457.06,285.77 451.29,282.01" fill="#44c262" stroke="rgba(20,20,20,0.5)" stroke-width="0.55" stroke-linejoin="round"/>
<polygon points="450.65,281.35 451.68,283.83 454.36,284.05 452.32,285.80 452.94,288.41 450.65,287.01 448.36,288.41 448.98,285.80 446.94,284.05 449.62,283.83" fill="none" stroke="#ff1414" stroke-width="2.1" stroke-linejoin="round"/>
<polygon points="444.24,343.06 450.01,346.82 450.01,288.50 444.24,284.74" fill="#44c262" stroke="rgba(20,20,20,0.5)" stroke-width="0.55" stroke-linejoin="round"/><polygon points="450.01,346.82 457.06,344.08 457.06,285.77 450.01,288.50" fill="#44c262" stroke="rgba(20,20,20,0.5)" stroke-width="0.55" stroke-linejoin="round"/>
<polygon points="464.12,356.02 469.89,359.78 469.89,349.25 464.12,345.50" fill="#44c262" stroke="rgba(20,20,20,0.5)" stroke-width="0.55" stroke-linejoin="round"/><polygon points="469.89,359.78 476.94,357.04 476.94,346.52 469.89,349.25" fill="#44c262" stroke="rgba(20,20,20,0.5)" stroke-width="0.55" stroke-linejoin="round"/>
<polygon points="464.12,345.50 469.89,349.25 476.94,346.52 471.17,342.76" fill="#44c262" stroke="rgba(20,20,20,0.5)" stroke-width="0.55" stroke-linejoin="round"/>
<polygon points="474.06,362.50 479.83,366.26 479.83,353.48 474.06,349.72" fill="#44c262" stroke="rgba(20,20,20,0.5)" stroke-width="0.55" stroke-linejoin="round"/><polygon points="479.83,366.26 486.88,363.52 486.88,350.75 479.83,353.48" fill="#44c262" stroke="rgba(20,20,20,0.5)" stroke-width="0.55" stroke-linejoin="round"/>
<polygon points="474.06,349.72 479.83,353.48 486.88,350.75 481.11,346.99" fill="#44c262" stroke="rgba(20,20,20,0.5)" stroke-width="0.55" stroke-linejoin="round"/>
<polygon points="372.44,308.89 378.21,312.65 378.21,273.72 372.44,269.96" fill="#18bea4" stroke="rgba(20,20,20,0.5)" stroke-width="0.55" stroke-linejoin="round"/><polygon points="378.21,312.65 385.26,309.91 385.26,270.99 378.21,273.72" fill="#18bea4" stroke="rgba(20,20,20,0.5)" stroke-width="0.55" stroke-linejoin="round"/>
<polygon points="372.44,269.96 378.21,273.72 385.26,270.99 379.49,267.23" fill="#18bea4" stroke="rgba(20,20,20,0.5)" stroke-width="0.55" stroke-linejoin="round"/>
<polygon points="402.26,328.33 408.03,332.09 408.03,326.07 402.26,322.31" fill="#18bea4" stroke="rgba(20,20,20,0.5)" stroke-width="0.55" stroke-linejoin="round"/><polygon points="408.03,332.09 415.08,329.35 415.08,323.34 408.03,326.07" fill="#18bea4" stroke="rgba(20,20,20,0.5)" stroke-width="0.55" stroke-linejoin="round"/>
<polygon points="402.26,322.31 408.03,326.07 415.08,323.34 409.31,319.58" fill="#18bea4" stroke="rgba(20,20,20,0.5)" stroke-width="0.55" stroke-linejoin="round"/>
<polygon points="412.20,334.81 417.97,338.57 417.97,328.80 412.20,325.04" fill="#18bea4" stroke="rgba(20,20,20,0.5)" stroke-width="0.55" stroke-linejoin="round"/><polygon points="417.97,338.57 425.02,335.83 425.02,326.06 417.97,328.80" fill="#18bea4" stroke="rgba(20,20,20,0.5)" stroke-width="0.55" stroke-linejoin="round"/>
<polygon points="412.20,325.04 417.97,328.80 425.02,326.06 419.25,322.31" fill="#18bea4" stroke="rgba(20,20,20,0.5)" stroke-width="0.55" stroke-linejoin="round"/>
<polygon points="422.14,341.29 427.91,345.05 427.91,294.69 422.14,290.94" fill="#18bea4" stroke="rgba(20,20,20,0.5)" stroke-width="0.55" stroke-linejoin="round"/><polygon points="427.91,345.05 434.96,342.31 434.96,291.96 427.91,294.69" fill="#18bea4" stroke="rgba(20,20,20,0.5)" stroke-width="0.55" stroke-linejoin="round"/>
<polygon points="422.14,290.94 427.91,294.69 434.96,291.96 429.19,288.20" fill="#18bea4" stroke="rgba(20,20,20,0.5)" stroke-width="0.55" stroke-linejoin="round"/>
<polygon points="428.55,287.55 429.58,290.03 432.26,290.24 430.22,291.99 430.84,294.60 428.55,293.20 426.26,294.60 426.88,291.99 424.84,290.24 427.52,290.03" fill="none" stroke="#ff1414" stroke-width="2.1" stroke-linejoin="round"/>
<polygon points="422.14,341.29 427.91,345.05 427.91,294.69 422.14,290.94" fill="#18bea4" stroke="rgba(20,20,20,0.5)" stroke-width="0.55" stroke-linejoin="round"/><polygon points="427.91,345.05 434.96,342.31 434.96,291.96 427.91,294.69" fill="#18bea4" stroke="rgba(20,20,20,0.5)" stroke-width="0.55" stroke-linejoin="round"/>
<polygon points="442.02,363.87 447.79,367.62 447.79,358.01 442.02,354.25" fill="#18bea4" stroke="rgba(20,20,20,0.5)" stroke-width="0.55" stroke-linejoin="round"/><polygon points="447.79,367.62 454.84,364.89 454.84,355.27 447.79,358.01" fill="#18bea4" stroke="rgba(20,20,20,0.5)" stroke-width="0.55" stroke-linejoin="round"/>
<polygon points="442.02,354.25 447.79,358.01 454.84,355.27 449.07,351.51" fill="#18bea4" stroke="rgba(20,20,20,0.5)" stroke-width="0.55" stroke-linejoin="round"/>
<polygon points="451.96,360.73 457.73,364.49 457.73,333.67 451.96,329.92" fill="#18bea4" stroke="rgba(20,20,20,0.5)" stroke-width="0.55" stroke-linejoin="round"/><polygon points="457.73,364.49 464.78,361.75 464.78,330.94 457.73,333.67" fill="#18bea4" stroke="rgba(20,20,20,0.5)" stroke-width="0.55" stroke-linejoin="round"/>
<polygon points="451.96,329.92 457.73,333.67 464.78,330.94 459.01,327.18" fill="#18bea4" stroke="rgba(20,20,20,0.5)" stroke-width="0.55" stroke-linejoin="round"/>
<polygon points="461.90,370.21 467.67,373.97 467.67,370.97 461.90,367.21" fill="#18bea4" stroke="rgba(20,20,20,0.5)" stroke-width="0.55" stroke-linejoin="round"/><polygon points="467.67,373.97 474.72,371.24 474.72,368.23 467.67,370.97" fill="#18bea4" stroke="rgba(20,20,20,0.5)" stroke-width="0.55" stroke-linejoin="round"/>
<polygon points="461.90,367.21 467.67,370.97 474.72,368.23 468.95,364.47" fill="#18bea4" stroke="rgba(20,20,20,0.5)" stroke-width="0.55" stroke-linejoin="round"/>
<polygon points="370.22,320.08 375.99,323.84 375.99,317.82 370.22,314.06" fill="#0aafd6" stroke="rgba(20,20,20,0.5)" stroke-width="0.55" stroke-linejoin="round"/><polygon points="375.99,323.84 383.04,321.10 383.04,315.09 375.99,317.82" fill="#0aafd6" stroke="rgba(20,20,20,0.5)" stroke-width="0.55" stroke-linejoin="round"/>
<polygon points="370.22,314.06 375.99,317.82 383.04,315.09 377.27,311.33" fill="#0aafd6" stroke="rgba(20,20,20,0.5)" stroke-width="0.55" stroke-linejoin="round"/>
<polygon points="380.16,334.07 385.93,337.83 385.93,330.32 380.16,326.56" fill="#0aafd6" stroke="rgba(20,20,20,0.5)" stroke-width="0.55" stroke-linejoin="round"/><polygon points="385.93,337.83 392.98,335.10 392.98,327.58 385.93,330.32" fill="#0aafd6" stroke="rgba(20,20,20,0.5)" stroke-width="0.55" stroke-linejoin="round"/>
<polygon points="380.16,326.56 385.93,330.32 392.98,327.58 387.21,323.82" fill="#0aafd6" stroke="rgba(20,20,20,0.5)" stroke-width="0.55" stroke-linejoin="round"/>
<polygon points="390.10,342.05 395.87,345.81 395.87,336.80 390.10,333.04" fill="#0aafd6" stroke="rgba(20,20,20,0.5)" stroke-width="0.55" stroke-linejoin="round"/><polygon points="395.87,345.81 402.92,343.08 402.92,334.06 395.87,336.80" fill="#0aafd6" stroke="rgba(20,20,20,0.5)" stroke-width="0.55" stroke-linejoin="round"/>
<polygon points="390.10,333.04 395.87,336.80 402.92,334.06 397.15,330.30" fill="#0aafd6" stroke="rgba(20,20,20,0.5)" stroke-width="0.55" stroke-linejoin="round"/>
<polygon points="400.04,339.52 405.81,343.28 405.81,292.17 400.04,288.41" fill="#0aafd6" stroke="rgba(20,20,20,0.5)" stroke-width="0.55" stroke-linejoin="round"/><polygon points="405.81,343.28 412.86,340.54 412.86,289.44 405.81,292.17" fill="#0aafd6" stroke="rgba(20,20,20,0.5)" stroke-width="0.55" stroke-linejoin="round"/>
<polygon points="400.04,288.41 405.81,292.17 412.86,289.44 407.09,285.68" fill="#0aafd6" stroke="rgba(20,20,20,0.5)" stroke-width="0.55" stroke-linejoin="round"/>
<polygon points="406.45,285.03 407.48,287.51 410.16,287.72 408.12,289.47 408.74,292.08 406.45,290.68 404.16,292.08 404.78,289.47 402.74,287.72 405.42,287.51" fill="none" stroke="#ff1414" stroke-width="2.1" stroke-linejoin="round"/>
<polygon points="400.04,339.52 405.81,343.28 405.81,292.17 400.04,288.41" fill="#0aafd6" stroke="rgba(20,20,20,0.5)" stroke-width="0.55" stroke-linejoin="round"/><polygon points="405.81,343.28 412.86,340.54 412.86,289.44 405.81,292.17" fill="#0aafd6" stroke="rgba(20,20,20,0.5)" stroke-width="0.55" stroke-linejoin="round"/>
<polygon points="409.98,346.00 415.75,349.76 415.75,345.25 409.98,341.49" fill="#0aafd6" stroke="rgba(20,20,20,0.5)" stroke-width="0.55" stroke-linejoin="round"/><polygon points="415.75,349.76 422.80,347.02 422.80,342.51 415.75,345.25" fill="#0aafd6" stroke="rgba(20,20,20,0.5)" stroke-width="0.55" stroke-linejoin="round"/>
<polygon points="409.98,341.49 415.75,345.25 422.80,342.51 417.03,338.76" fill="#0aafd6" stroke="rgba(20,20,20,0.5)" stroke-width="0.55" stroke-linejoin="round"/>
<polygon points="419.92,352.48 425.69,356.24 425.69,346.01 419.92,342.26" fill="#0aafd6" stroke="rgba(20,20,20,0.5)" stroke-width="0.55" stroke-linejoin="round"/><polygon points="425.69,356.24 432.74,353.50 432.74,343.28 425.69,346.01" fill="#0aafd6" stroke="rgba(20,20,20,0.5)" stroke-width="0.55" stroke-linejoin="round"/>
<polygon points="419.92,342.26 425.69,346.01 432.74,343.28 426.97,339.52" fill="#0aafd6" stroke="rgba(20,20,20,0.5)" stroke-width="0.55" stroke-linejoin="round"/>
<polygon points="429.86,358.96 435.63,362.72 435.63,335.96 429.86,332.20" fill="#0aafd6" stroke="rgba(20,20,20,0.5)" stroke-width="0.55" stroke-linejoin="round"/><polygon points="435.63,362.72 442.68,359.98 442.68,333.23 435.63,335.96" fill="#0aafd6" stroke="rgba(20,20,20,0.5)" stroke-width="0.55" stroke-linejoin="round"/>
<polygon points="429.86,332.20 435.63,335.96 442.68,333.23 436.91,329.47" fill="#0aafd6" stroke="rgba(20,20,20,0.5)" stroke-width="0.55" stroke-linejoin="round"/>
<polygon points="449.74,380.18 455.51,383.94 455.51,375.68 449.74,371.92" fill="#0aafd6" stroke="rgba(20,20,20,0.5)" stroke-width="0.55" stroke-linejoin="round"/><polygon points="455.51,383.94 462.56,381.21 462.56,372.94 455.51,375.68" fill="#0aafd6" stroke="rgba(20,20,20,0.5)" stroke-width="0.55" stroke-linejoin="round"/>
<polygon points="449.74,371.92 455.51,375.68 462.56,372.94 456.79,369.18" fill="#0aafd6" stroke="rgba(20,20,20,0.5)" stroke-width="0.55" stroke-linejoin="round"/>
<polygon points="348.12,318.31 353.89,322.07 353.89,304.03 348.12,300.27" fill="#1092e4" stroke="rgba(20,20,20,0.5)" stroke-width="0.55" stroke-linejoin="round"/><polygon points="353.89,322.07 360.94,319.33 360.94,301.30 353.89,304.03" fill="#1092e4" stroke="rgba(20,20,20,0.5)" stroke-width="0.55" stroke-linejoin="round"/>
<polygon points="348.12,300.27 353.89,304.03 360.94,301.30 355.17,297.54" fill="#1092e4" stroke="rgba(20,20,20,0.5)" stroke-width="0.55" stroke-linejoin="round"/>
<polygon points="368.00,337.28 373.77,341.04 373.77,335.03 368.00,331.27" fill="#1092e4" stroke="rgba(20,20,20,0.5)" stroke-width="0.55" stroke-linejoin="round"/><polygon points="373.77,341.04 380.82,338.31 380.82,332.29 373.77,335.03" fill="#1092e4" stroke="rgba(20,20,20,0.5)" stroke-width="0.55" stroke-linejoin="round"/>
<polygon points="368.00,331.27 373.77,335.03 380.82,332.29 375.05,328.53" fill="#1092e4" stroke="rgba(20,20,20,0.5)" stroke-width="0.55" stroke-linejoin="round"/>
<polygon points="377.94,337.75 383.71,341.51 383.71,296.42 377.94,292.66" fill="#1092e4" stroke="rgba(20,20,20,0.5)" stroke-width="0.55" stroke-linejoin="round"/><polygon points="383.71,341.51 390.76,338.77 390.76,293.68 383.71,296.42" fill="#1092e4" stroke="rgba(20,20,20,0.5)" stroke-width="0.55" stroke-linejoin="round"/>
<polygon points="377.94,292.66 383.71,296.42 390.76,293.68 384.99,289.92" fill="#1092e4" stroke="rgba(20,20,20,0.5)" stroke-width="0.55" stroke-linejoin="round"/>
<polygon points="384.35,289.27 385.38,291.75 388.06,291.96 386.02,293.71 386.64,296.33 384.35,294.93 382.06,296.33 382.68,293.71 380.64,291.96 383.32,291.75" fill="none" stroke="#ff1414" stroke-width="2.1" stroke-linejoin="round"/>
<polygon points="377.94,337.75 383.71,341.51 383.71,296.42 377.94,292.66" fill="#1092e4" stroke="rgba(20,20,20,0.5)" stroke-width="0.55" stroke-linejoin="round"/><polygon points="383.71,341.51 390.76,338.77 390.76,293.68 383.71,296.42" fill="#1092e4" stroke="rgba(20,20,20,0.5)" stroke-width="0.55" stroke-linejoin="round"/>
<polygon points="387.88,349.19 393.65,352.94 393.65,347.99 387.88,344.23" fill="#1092e4" stroke="rgba(20,20,20,0.5)" stroke-width="0.55" stroke-linejoin="round"/><polygon points="393.65,352.94 400.70,350.21 400.70,345.25 393.65,347.99" fill="#1092e4" stroke="rgba(20,20,20,0.5)" stroke-width="0.55" stroke-linejoin="round"/>
<polygon points="387.88,344.23 393.65,347.99 400.70,345.25 394.93,341.49" fill="#1092e4" stroke="rgba(20,20,20,0.5)" stroke-width="0.55" stroke-linejoin="round"/>
<polygon points="397.82,357.47 403.59,361.23 403.59,354.47 397.82,350.71" fill="#1092e4" stroke="rgba(20,20,20,0.5)" stroke-width="0.55" stroke-linejoin="round"/><polygon points="403.59,361.23 410.64,358.50 410.64,351.73 403.59,354.47" fill="#1092e4" stroke="rgba(20,20,20,0.5)" stroke-width="0.55" stroke-linejoin="round"/>
<polygon points="397.82,350.71 403.59,354.47 410.64,351.73 404.87,347.97" fill="#1092e4" stroke="rgba(20,20,20,0.5)" stroke-width="0.55" stroke-linejoin="round"/>
<polygon points="407.76,365.45 413.53,369.21 413.53,360.95 407.76,357.19" fill="#1092e4" stroke="rgba(20,20,20,0.5)" stroke-width="0.55" stroke-linejoin="round"/><polygon points="413.53,369.21 420.58,366.48 420.58,358.21 413.53,360.95" fill="#1092e4" stroke="rgba(20,20,20,0.5)" stroke-width="0.55" stroke-linejoin="round"/>
<polygon points="407.76,357.19 413.53,360.95 420.58,358.21 414.81,354.45" fill="#1092e4" stroke="rgba(20,20,20,0.5)" stroke-width="0.55" stroke-linejoin="round"/>
<polygon points="417.70,369.68 423.47,373.44 423.47,367.43 417.70,363.67" fill="#1092e4" stroke="rgba(20,20,20,0.5)" stroke-width="0.55" stroke-linejoin="round"/><polygon points="423.47,373.44 430.52,370.71 430.52,364.69 423.47,367.43" fill="#1092e4" stroke="rgba(20,20,20,0.5)" stroke-width="0.55" stroke-linejoin="round"/>
<polygon points="417.70,363.67 423.47,367.43 430.52,364.69 424.75,360.93" fill="#1092e4" stroke="rgba(20,20,20,0.5)" stroke-width="0.55" stroke-linejoin="round"/>
<polygon points="427.64,370.15 433.41,373.91 433.41,368.64 427.64,364.89" fill="#1092e4" stroke="rgba(20,20,20,0.5)" stroke-width="0.55" stroke-linejoin="round"/><polygon points="433.41,373.91 440.46,371.17 440.46,365.91 433.41,368.64" fill="#1092e4" stroke="rgba(20,20,20,0.5)" stroke-width="0.55" stroke-linejoin="round"/>
<polygon points="427.64,364.89 433.41,368.64 440.46,365.91 434.69,362.15" fill="#1092e4" stroke="rgba(20,20,20,0.5)" stroke-width="0.55" stroke-linejoin="round"/>
<polygon points="437.58,385.64 443.35,389.40 443.35,380.39 437.58,376.63" fill="#1092e4" stroke="rgba(20,20,20,0.5)" stroke-width="0.55" stroke-linejoin="round"/><polygon points="443.35,389.40 450.40,386.67 450.40,377.65 443.35,380.39" fill="#1092e4" stroke="rgba(20,20,20,0.5)" stroke-width="0.55" stroke-linejoin="round"/>
<polygon points="437.58,376.63 443.35,380.39 450.40,377.65 444.63,373.89" fill="#1092e4" stroke="rgba(20,20,20,0.5)" stroke-width="0.55" stroke-linejoin="round"/>
<polygon points="345.90,329.50 351.67,333.26 351.67,316.42 345.90,312.66" fill="#1f6ef2" stroke="rgba(20,20,20,0.5)" stroke-width="0.55" stroke-linejoin="round"/><polygon points="351.67,333.26 358.72,330.52 358.72,313.69 351.67,316.42" fill="#1f6ef2" stroke="rgba(20,20,20,0.5)" stroke-width="0.55" stroke-linejoin="round"/>
<polygon points="345.90,312.66 351.67,316.42 358.72,313.69 352.95,309.93" fill="#1f6ef2" stroke="rgba(20,20,20,0.5)" stroke-width="0.55" stroke-linejoin="round"/>
<polygon points="355.84,335.98 361.61,339.74 361.61,291.19 355.84,287.43" fill="#1f6ef2" stroke="rgba(20,20,20,0.5)" stroke-width="0.55" stroke-linejoin="round"/><polygon points="361.61,339.74 368.66,337.00 368.66,288.46 361.61,291.19" fill="#1f6ef2" stroke="rgba(20,20,20,0.5)" stroke-width="0.55" stroke-linejoin="round"/>
<polygon points="355.84,287.43 361.61,291.19 368.66,288.46 362.89,284.70" fill="#1f6ef2" stroke="rgba(20,20,20,0.5)" stroke-width="0.55" stroke-linejoin="round"/>
<polygon points="362.25,284.04 363.28,286.52 365.96,286.74 363.92,288.49 364.54,291.10 362.25,289.70 359.96,291.10 360.58,288.49 358.54,286.74 361.22,286.52" fill="none" stroke="#ff1414" stroke-width="2.1" stroke-linejoin="round"/>
<polygon points="355.84,335.98 361.61,339.74 361.61,291.19 355.84,287.43" fill="#1f6ef2" stroke="rgba(20,20,20,0.5)" stroke-width="0.55" stroke-linejoin="round"/><polygon points="361.61,339.74 368.66,337.00 368.66,288.46 361.61,291.19" fill="#1f6ef2" stroke="rgba(20,20,20,0.5)" stroke-width="0.55" stroke-linejoin="round"/>
<polygon points="365.78,349.22 371.55,352.98 371.55,346.22 365.78,342.46" fill="#1f6ef2" stroke="rgba(20,20,20,0.5)" stroke-width="0.55" stroke-linejoin="round"/><polygon points="371.55,352.98 378.60,350.25 378.60,343.48 371.55,346.22" fill="#1f6ef2" stroke="rgba(20,20,20,0.5)" stroke-width="0.55" stroke-linejoin="round"/>
<polygon points="365.78,342.46 371.55,346.22 378.60,343.48 372.83,339.72" fill="#1f6ef2" stroke="rgba(20,20,20,0.5)" stroke-width="0.55" stroke-linejoin="round"/>
<polygon points="375.72,360.96 381.49,364.72 381.49,352.70 375.72,348.94" fill="#1f6ef2" stroke="rgba(20,20,20,0.5)" stroke-width="0.55" stroke-linejoin="round"/><polygon points="381.49,364.72 388.54,361.99 388.54,349.96 381.49,352.70" fill="#1f6ef2" stroke="rgba(20,20,20,0.5)" stroke-width="0.55" stroke-linejoin="round"/>
<polygon points="375.72,348.94 381.49,352.70 388.54,349.96 382.77,346.20" fill="#1f6ef2" stroke="rgba(20,20,20,0.5)" stroke-width="0.55" stroke-linejoin="round"/>
<polygon points="385.66,355.42 391.43,359.18 391.43,351.66 385.66,347.90" fill="#1f6ef2" stroke="rgba(20,20,20,0.5)" stroke-width="0.55" stroke-linejoin="round"/><polygon points="391.43,359.18 398.48,356.44 398.48,348.93 391.43,351.66" fill="#1f6ef2" stroke="rgba(20,20,20,0.5)" stroke-width="0.55" stroke-linejoin="round"/>
<polygon points="385.66,347.90 391.43,351.66 398.48,348.93 392.71,345.17" fill="#1f6ef2" stroke="rgba(20,20,20,0.5)" stroke-width="0.55" stroke-linejoin="round"/>
<polygon points="395.60,367.91 401.37,371.67 401.37,365.66 395.60,361.90" fill="#1f6ef2" stroke="rgba(20,20,20,0.5)" stroke-width="0.55" stroke-linejoin="round"/><polygon points="401.37,371.67 408.42,368.94 408.42,362.92 401.37,365.66" fill="#1f6ef2" stroke="rgba(20,20,20,0.5)" stroke-width="0.55" stroke-linejoin="round"/>
<polygon points="395.60,361.90 401.37,365.66 408.42,362.92 402.65,359.16" fill="#1f6ef2" stroke="rgba(20,20,20,0.5)" stroke-width="0.55" stroke-linejoin="round"/>
<polygon points="405.54,375.89 411.31,379.65 411.31,372.14 405.54,368.38" fill="#1f6ef2" stroke="rgba(20,20,20,0.5)" stroke-width="0.55" stroke-linejoin="round"/><polygon points="411.31,379.65 418.36,376.92 418.36,369.40 411.31,372.14" fill="#1f6ef2" stroke="rgba(20,20,20,0.5)" stroke-width="0.55" stroke-linejoin="round"/>
<polygon points="405.54,368.38 411.31,372.14 418.36,369.40 412.59,365.64" fill="#1f6ef2" stroke="rgba(20,20,20,0.5)" stroke-width="0.55" stroke-linejoin="round"/>
<polygon points="415.48,374.86 421.25,378.62 421.25,367.04 415.48,363.28" fill="#1f6ef2" stroke="rgba(20,20,20,0.5)" stroke-width="0.55" stroke-linejoin="round"/><polygon points="421.25,378.62 428.30,375.88 428.30,364.31 421.25,367.04" fill="#1f6ef2" stroke="rgba(20,20,20,0.5)" stroke-width="0.55" stroke-linejoin="round"/>
<polygon points="415.48,363.28 421.25,367.04 428.30,364.31 422.53,360.55" fill="#1f6ef2" stroke="rgba(20,20,20,0.5)" stroke-width="0.55" stroke-linejoin="round"/>
<polygon points="425.42,381.34 431.19,385.10 431.19,383.59 425.42,379.83" fill="#1f6ef2" stroke="rgba(20,20,20,0.5)" stroke-width="0.55" stroke-linejoin="round"/><polygon points="431.19,385.10 438.24,382.36 438.24,380.86 431.19,383.59" fill="#1f6ef2" stroke="rgba(20,20,20,0.5)" stroke-width="0.55" stroke-linejoin="round"/>
<polygon points="425.42,379.83 431.19,383.59 438.24,380.86 432.47,377.10" fill="#1f6ef2" stroke="rgba(20,20,20,0.5)" stroke-width="0.55" stroke-linejoin="round"/>
<polygon points="333.74,334.21 339.51,337.97 339.51,295.13 333.74,291.37" fill="#4a42ec" stroke="rgba(20,20,20,0.5)" stroke-width="0.55" stroke-linejoin="round"/><polygon points="339.51,337.97 346.56,335.23 346.56,292.40 339.51,295.13" fill="#4a42ec" stroke="rgba(20,20,20,0.5)" stroke-width="0.55" stroke-linejoin="round"/>
<polygon points="333.74,291.37 339.51,295.13 346.56,292.40 340.79,288.64" fill="#4a42ec" stroke="rgba(20,20,20,0.5)" stroke-width="0.55" stroke-linejoin="round"/>
<polygon points="340.15,287.98 341.18,290.46 343.86,290.68 341.82,292.43 342.44,295.04 340.15,293.64 337.86,295.04 338.48,292.43 336.44,290.68 339.12,290.46" fill="none" stroke="#ff1414" stroke-width="2.1" stroke-linejoin="round"/>
<polygon points="333.74,334.21 339.51,337.97 339.51,295.13 333.74,291.37" fill="#4a42ec" stroke="rgba(20,20,20,0.5)" stroke-width="0.55" stroke-linejoin="round"/><polygon points="339.51,337.97 346.56,335.23 346.56,292.40 339.51,295.13" fill="#4a42ec" stroke="rgba(20,20,20,0.5)" stroke-width="0.55" stroke-linejoin="round"/>
<polygon points="343.68,340.69 349.45,344.45 349.45,341.44 343.68,337.68" fill="#4a42ec" stroke="rgba(20,20,20,0.5)" stroke-width="0.55" stroke-linejoin="round"/><polygon points="349.45,344.45 356.50,341.71 356.50,338.71 349.45,341.44" fill="#4a42ec" stroke="rgba(20,20,20,0.5)" stroke-width="0.55" stroke-linejoin="round"/>
<polygon points="343.68,337.68 349.45,341.44 356.50,338.71 350.73,334.95" fill="#4a42ec" stroke="rgba(20,20,20,0.5)" stroke-width="0.55" stroke-linejoin="round"/>
<polygon points="353.62,347.17 359.39,350.93 359.39,350.17 353.62,346.42" fill="#4a42ec" stroke="rgba(20,20,20,0.5)" stroke-width="0.55" stroke-linejoin="round"/><polygon points="359.39,350.93 366.44,348.19 366.44,347.44 359.39,350.17" fill="#4a42ec" stroke="rgba(20,20,20,0.5)" stroke-width="0.55" stroke-linejoin="round"/>
<polygon points="353.62,346.42 359.39,350.17 366.44,347.44 360.67,343.68" fill="#4a42ec" stroke="rgba(20,20,20,0.5)" stroke-width="0.55" stroke-linejoin="round"/>
<polygon points="403.32,379.57 409.09,383.33 409.09,372.05 403.32,368.29" fill="#4a42ec" stroke="rgba(20,20,20,0.5)" stroke-width="0.55" stroke-linejoin="round"/><polygon points="409.09,383.33 416.14,380.59 416.14,369.32 409.09,372.05" fill="#4a42ec" stroke="rgba(20,20,20,0.5)" stroke-width="0.55" stroke-linejoin="round"/>
<polygon points="403.32,368.29 409.09,372.05 416.14,369.32 410.37,365.56" fill="#4a42ec" stroke="rgba(20,20,20,0.5)" stroke-width="0.55" stroke-linejoin="round"/>
<polygon points="413.26,391.76 419.03,395.52 419.03,389.81 413.26,386.05" fill="#4a42ec" stroke="rgba(20,20,20,0.5)" stroke-width="0.55" stroke-linejoin="round"/><polygon points="419.03,395.52 426.08,392.78 426.08,387.07 419.03,389.81" fill="#4a42ec" stroke="rgba(20,20,20,0.5)" stroke-width="0.55" stroke-linejoin="round"/>
<polygon points="413.26,386.05 419.03,389.81 426.08,387.07 420.31,383.31" fill="#4a42ec" stroke="rgba(20,20,20,0.5)" stroke-width="0.55" stroke-linejoin="round"/>
<polygon points="311.64,332.44 317.41,336.20 317.41,271.57 311.64,267.81" fill="#3c22ae" stroke="rgba(20,20,20,0.5)" stroke-width="0.55" stroke-linejoin="round"/><polygon points="317.41,336.20 324.46,333.46 324.46,268.83 317.41,271.57" fill="#3c22ae" stroke="rgba(20,20,20,0.5)" stroke-width="0.55" stroke-linejoin="round"/>
<polygon points="311.64,267.81 317.41,271.57 324.46,268.83 318.69,265.08" fill="#3c22ae" stroke="rgba(20,20,20,0.5)" stroke-width="0.55" stroke-linejoin="round"/>
<polygon points="318.05,264.42 319.08,266.90 321.76,267.12 319.72,268.86 320.34,271.48 318.05,270.08 315.76,271.48 316.38,268.86 314.34,267.12 317.02,266.90" fill="none" stroke="#ff1414" stroke-width="2.1" stroke-linejoin="round"/>
<polygon points="311.64,332.44 317.41,336.20 317.41,271.57 311.64,267.81" fill="#3c22ae" stroke="rgba(20,20,20,0.5)" stroke-width="0.55" stroke-linejoin="round"/><polygon points="317.41,336.20 324.46,333.46 324.46,268.83 317.41,271.57" fill="#3c22ae" stroke="rgba(20,20,20,0.5)" stroke-width="0.55" stroke-linejoin="round"/>
<polygon points="321.58,338.92 327.35,342.68 327.35,329.45 321.58,325.69" fill="#3c22ae" stroke="rgba(20,20,20,0.5)" stroke-width="0.55" stroke-linejoin="round"/><polygon points="327.35,342.68 334.40,339.94 334.40,326.72 327.35,329.45" fill="#3c22ae" stroke="rgba(20,20,20,0.5)" stroke-width="0.55" stroke-linejoin="round"/>
<polygon points="321.58,325.69 327.35,329.45 334.40,326.72 328.63,322.96" fill="#3c22ae" stroke="rgba(20,20,20,0.5)" stroke-width="0.55" stroke-linejoin="round"/>
<polygon points="331.52,346.90 337.29,350.66 337.29,349.16 331.52,345.40" fill="#3c22ae" stroke="rgba(20,20,20,0.5)" stroke-width="0.55" stroke-linejoin="round"/><polygon points="337.29,350.66 344.34,347.93 344.34,346.42 337.29,349.16" fill="#3c22ae" stroke="rgba(20,20,20,0.5)" stroke-width="0.55" stroke-linejoin="round"/>
<polygon points="331.52,345.40 337.29,349.16 344.34,346.42 338.57,342.66" fill="#3c22ae" stroke="rgba(20,20,20,0.5)" stroke-width="0.55" stroke-linejoin="round"/>
<polygon points="341.46,366.16 347.23,369.91 347.23,355.64 341.46,351.88" fill="#3c22ae" stroke="rgba(20,20,20,0.5)" stroke-width="0.55" stroke-linejoin="round"/><polygon points="347.23,369.91 354.28,367.18 354.28,352.90 347.23,355.64" fill="#3c22ae" stroke="rgba(20,20,20,0.5)" stroke-width="0.55" stroke-linejoin="round"/>
<polygon points="341.46,351.88 347.23,355.64 354.28,352.90 348.51,349.14" fill="#3c22ae" stroke="rgba(20,20,20,0.5)" stroke-width="0.55" stroke-linejoin="round"/>
<polygon points="351.40,366.47 357.17,370.23 357.17,362.12 351.40,358.36" fill="#3c22ae" stroke="rgba(20,20,20,0.5)" stroke-width="0.55" stroke-linejoin="round"/><polygon points="357.17,370.23 364.22,367.50 364.22,359.38 357.17,362.12" fill="#3c22ae" stroke="rgba(20,20,20,0.5)" stroke-width="0.55" stroke-linejoin="round"/>
<polygon points="351.40,358.36 357.17,362.12 364.22,359.38 358.45,355.62" fill="#3c22ae" stroke="rgba(20,20,20,0.5)" stroke-width="0.55" stroke-linejoin="round"/>
<polygon points="361.34,367.39 367.11,371.15 367.11,368.60 361.34,364.84" fill="#3c22ae" stroke="rgba(20,20,20,0.5)" stroke-width="0.55" stroke-linejoin="round"/><polygon points="367.11,371.15 374.16,368.42 374.16,365.86 367.11,368.60" fill="#3c22ae" stroke="rgba(20,20,20,0.5)" stroke-width="0.55" stroke-linejoin="round"/>
<polygon points="361.34,364.84 367.11,368.60 374.16,365.86 368.39,362.10" fill="#3c22ae" stroke="rgba(20,20,20,0.5)" stroke-width="0.55" stroke-linejoin="round"/>
<polygon points="371.28,371.32 377.05,375.08 377.05,352.98 371.28,349.22" fill="#3c22ae" stroke="rgba(20,20,20,0.5)" stroke-width="0.55" stroke-linejoin="round"/><polygon points="377.05,375.08 384.10,372.34 384.10,350.25 377.05,352.98" fill="#3c22ae" stroke="rgba(20,20,20,0.5)" stroke-width="0.55" stroke-linejoin="round"/>
<polygon points="371.28,349.22 377.05,352.98 384.10,350.25 378.33,346.49" fill="#3c22ae" stroke="rgba(20,20,20,0.5)" stroke-width="0.55" stroke-linejoin="round"/>
<polygon points="381.22,383.96 386.99,387.72 386.99,381.56 381.22,377.80" fill="#3c22ae" stroke="rgba(20,20,20,0.5)" stroke-width="0.55" stroke-linejoin="round"/><polygon points="386.99,387.72 394.04,384.99 394.04,378.82 386.99,381.56" fill="#3c22ae" stroke="rgba(20,20,20,0.5)" stroke-width="0.55" stroke-linejoin="round"/>
<polygon points="381.22,377.80 386.99,381.56 394.04,378.82 388.27,375.06" fill="#3c22ae" stroke="rgba(20,20,20,0.5)" stroke-width="0.55" stroke-linejoin="round"/>
<polygon points="391.16,384.28 396.93,388.04 396.93,359.03 391.16,355.27" fill="#3c22ae" stroke="rgba(20,20,20,0.5)" stroke-width="0.55" stroke-linejoin="round"/><polygon points="396.93,388.04 403.98,385.30 403.98,356.30 396.93,359.03" fill="#3c22ae" stroke="rgba(20,20,20,0.5)" stroke-width="0.55" stroke-linejoin="round"/>
<polygon points="391.16,355.27 396.93,359.03 403.98,356.30 398.21,352.54" fill="#3c22ae" stroke="rgba(20,20,20,0.5)" stroke-width="0.55" stroke-linejoin="round"/>
<polygon points="401.10,390.76 406.87,394.52 406.87,393.76 401.10,390.01" fill="#3c22ae" stroke="rgba(20,20,20,0.5)" stroke-width="0.55" stroke-linejoin="round"/><polygon points="406.87,394.52 413.92,391.78 413.92,391.03 406.87,393.76" fill="#3c22ae" stroke="rgba(20,20,20,0.5)" stroke-width="0.55" stroke-linejoin="round"/>
<polygon points="401.10,390.01 406.87,393.76 413.92,391.03 408.15,387.27" fill="#3c22ae" stroke="rgba(20,20,20,0.5)" stroke-width="0.55" stroke-linejoin="round"/></g>
<g fill="#1e1e1e" stroke="#1e1e1e" stroke-width="0.25"><text x="299.00" y="267.00" text-anchor="end" font-size="11.3" dominant-baseline="central">4</text>
<text x="299.00" y="296.50" text-anchor="end" font-size="11.3" dominant-baseline="central">2</text>
<text x="299.00" y="327.10" text-anchor="end" font-size="11.3" dominant-baseline="central">0</text>
<text x="304.30" y="360.50" text-anchor="middle" font-size="11.3" dominant-baseline="central">0</text>
<text x="314.19" y="367.01" text-anchor="middle" font-size="11.3" dominant-baseline="central">1</text>
<text x="324.08" y="373.52" text-anchor="middle" font-size="11.3" dominant-baseline="central">2</text>
<text x="333.97" y="380.03" text-anchor="middle" font-size="11.3" dominant-baseline="central">3</text>
<text x="343.86" y="386.54" text-anchor="middle" font-size="11.3" dominant-baseline="central">4</text>
<text x="353.74" y="393.06" text-anchor="middle" font-size="11.3" dominant-baseline="central">5</text>
<text x="363.63" y="399.57" text-anchor="middle" font-size="11.3" dominant-baseline="central">6</text>
<text x="373.52" y="406.08" text-anchor="middle" font-size="11.3" dominant-baseline="central">7</text>
<text x="383.41" y="412.59" text-anchor="middle" font-size="11.3" dominant-baseline="central">8</text>
<text x="393.30" y="419.10" text-anchor="middle" font-size="11.3" dominant-baseline="central">9</text>
<text x="419.60" y="420.40" text-anchor="middle" font-size="11.3" dominant-baseline="central">1</text>
<text x="431.74" y="415.80" text-anchor="middle" font-size="11.3" dominant-baseline="central">2</text>
<text x="443.88" y="411.20" text-anchor="middle" font-size="11.3" dominant-baseline="central">3</text>
<text x="456.01" y="406.60" text-anchor="middle" font-size="11.3" dominant-baseline="central">4</text>
<text x="468.15" y="402.00" text-anchor="middle" font-size="11.3" dominant-baseline="central">5</text>
<text x="480.29" y="397.40" text-anchor="middle" font-size="11.3" dominant-baseline="central">6</text>
<text x="492.43" y="392.80" text-anchor="middle" font-size="11.3" dominant-baseline="central">7</text>
<text x="504.56" y="388.20" text-anchor="middle" font-size="11.3" dominant-baseline="central">8</text>
<text x="516.70" y="383.60" text-anchor="middle" font-size="11.3" dominant-baseline="central">9</text>
<text x="530.90" y="378.20" text-anchor="middle" font-size="11.3" dominant-baseline="central">10</text>
<text transform="translate(286.80,298.70) rotate(-90)" text-anchor="middle" font-size="12.6">Reflected light signals</text>
<text transform="translate(292.20,372.00) rotate(33.10)" font-size="12.5">Projected label order</text>
<text transform="translate(427.50,434.50) rotate(-21.20)" font-size="12.2">A total of ten simulations</text>
<text x="308.00" y="399.30" text-anchor="middle" font-size="13.0" font-weight="bold" dominant-baseline="central" xml:space="preserve">( d )</text></g>
</svg></body></html>
